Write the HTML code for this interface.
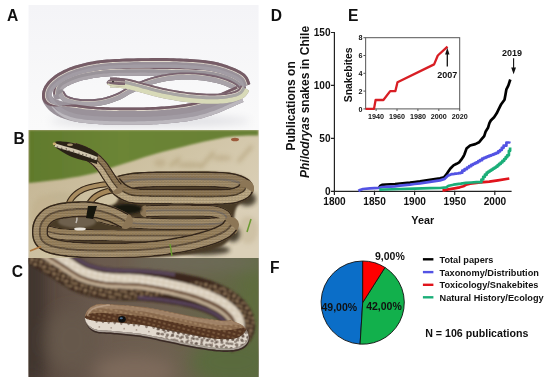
<!DOCTYPE html>
<html><head><meta charset="utf-8">
<style>
html,body{margin:0;padding:0;background:#fff;}
body{width:550px;height:385px;overflow:hidden;position:relative;}
svg{position:absolute;left:0;top:0;display:block;}
text{font-family:"Liberation Sans",sans-serif;font-weight:bold;fill:#111;}
</style></head><body>
<svg width="550" height="385" viewBox="0 0 550 385">
<defs>
<clipPath id="clipA"><rect x="28.6" y="5" width="229.9" height="125"/></clipPath>
<clipPath id="clipB"><rect x="28.6" y="130" width="229.9" height="128"/></clipPath>
<clipPath id="clipC"><rect x="28.6" y="258" width="229.9" height="119"/></clipPath>
<filter id="b05" filterUnits="userSpaceOnUse" x="0" y="0" width="550" height="385"><feGaussianBlur stdDeviation="0.5"/></filter>
<filter id="b1" filterUnits="userSpaceOnUse" x="0" y="0" width="550" height="385"><feGaussianBlur stdDeviation="1"/></filter>
<filter id="b2" filterUnits="userSpaceOnUse" x="0" y="0" width="550" height="385"><feGaussianBlur stdDeviation="2"/></filter>
<filter id="b4" filterUnits="userSpaceOnUse" x="0" y="0" width="550" height="385"><feGaussianBlur stdDeviation="4"/></filter>
<filter id="b8" filterUnits="userSpaceOnUse" x="0" y="0" width="550" height="385"><feGaussianBlur stdDeviation="8"/></filter>
<linearGradient id="gA" x1="0" y1="0" x2="0" y2="1">
<stop offset="0" stop-color="#f4f4f7"/><stop offset="1" stop-color="#fafafa"/>
</linearGradient>
<linearGradient id="ringA" x1="0" y1="59" x2="0" y2="125" gradientUnits="userSpaceOnUse">
<stop offset="0" stop-color="#8c7e82"/><stop offset="0.5" stop-color="#908a88"/><stop offset="0.8" stop-color="#a4a2a0"/><stop offset="1" stop-color="#c8c6c6"/>
</linearGradient>
<linearGradient id="rockB" x1="0" y1="0" x2="1" y2="0.6">
<stop offset="0" stop-color="#c2b290"/><stop offset="0.55" stop-color="#cfc3a4"/><stop offset="1" stop-color="#dbd0b8"/>
</linearGradient>
<linearGradient id="grassB" x1="0" y1="0" x2="1" y2="0">
<stop offset="0" stop-color="#607a2c"/><stop offset="0.4" stop-color="#6c8536"/><stop offset="1" stop-color="#688034"/>
</linearGradient>
<pattern id="scales" width="3.2" height="2.6" patternUnits="userSpaceOnUse">
<rect width="3.2" height="2.6" fill="none"/>
<ellipse cx="1.6" cy="1.3" rx="1.1" ry="0.8" fill="#fff" opacity="0.25"/>
<path d="M0,0 L3.2,0 M1.6,1.3 L1.6,2.6" stroke="#1e140a" stroke-width="0.7" opacity="0.6"/>
</pattern>
<linearGradient id="bgC" x1="0" y1="0" x2="1" y2="0">
<stop offset="0" stop-color="#4c3e36"/><stop offset="0.08" stop-color="#5a4a40"/><stop offset="0.3" stop-color="#6a5a4e"/><stop offset="0.6" stop-color="#6e6050"/><stop offset="1" stop-color="#5e6a40"/>
</linearGradient>
<pattern id="spots" width="5" height="4" patternUnits="userSpaceOnUse" patternTransform="rotate(15)">
<ellipse cx="2.5" cy="2" rx="1.5" ry="1" fill="#c0a27c"/>
</pattern>
<pattern id="spotsW" width="6" height="5" patternUnits="userSpaceOnUse" patternTransform="rotate(10)">
<ellipse cx="3" cy="2.5" rx="2.2" ry="1.5" fill="#efe8e0"/>
</pattern>
<pattern id="spotsD" width="5" height="4.5" patternUnits="userSpaceOnUse" patternTransform="rotate(8)">
<ellipse cx="2.5" cy="2.2" rx="1.6" ry="1.4" fill="#4a3a30"/>
</pattern>
<pattern id="spots2" width="7" height="5.6" patternUnits="userSpaceOnUse" patternTransform="rotate(-25)">
<ellipse cx="3.5" cy="2.8" rx="1.8" ry="1.2" fill="#b89a74"/>
</pattern>
<pattern id="spotsD2" width="6.4" height="5.2" patternUnits="userSpaceOnUse" patternTransform="rotate(-18)">
<ellipse cx="3.2" cy="2.6" rx="1.5" ry="1.2" fill="#4a3a30"/>
</pattern>

</defs>
<!-- photo A -->
<g id="photoA">
<rect x="28.6" y="5" width="229.9" height="125" fill="#f6f6f9"/>
<g clip-path="url(#clipA)">
<rect x="28.6" y="5" width="229.9" height="125" fill="url(#gA)"/>
<ellipse cx="150" cy="121" rx="100" ry="6" fill="#e0e0e4" filter="url(#b4)"/>
<g filter="url(#b05)"><path d="M242.0,92.0 L241.9,91.5 L241.8,90.9 L241.7,90.2 L241.6,89.4 L241.4,88.6 L241.1,87.7 L240.6,86.8 L240.0,86.0 L239.2,85.2 L238.3,84.3 L237.3,83.4 L236.1,82.5 L234.8,81.6 L233.4,80.7 L231.8,79.8 L230.0,79.0 L228.0,78.2 L225.9,77.4 L223.7,76.7 L221.2,75.9 L218.7,75.2 L215.9,74.6 L213.0,74.0 L210.0,73.5 L206.8,73.1 L203.3,72.8 L199.7,72.5 L195.9,72.3 L192.1,72.2 L188.1,72.1 L184.1,71.9 L180.0,71.8 L175.9,71.7 L171.6,71.6 L167.2,71.5 L162.8,71.4 L158.3,71.4 L153.9,71.3 L149.4,71.3 L145.0,71.3 L140.5,71.3 L135.9,71.3 L131.3,71.3 L126.7,71.3 L122.2,71.4 L117.8,71.5 L113.8,71.6 L110.0,71.8 L106.6,72.0 L103.4,72.3 L100.5,72.6 L97.8,72.9 L95.2,73.3 L92.8,73.6 L90.4,74.1 L88.0,74.5 L85.7,75.0 L83.5,75.4 L81.4,75.9 L79.4,76.5 L77.4,77.1 L75.6,77.7 L73.8,78.3 L72.0,79.0 L70.2,79.7 L68.5,80.5 L66.8,81.4 L65.2,82.2 L63.6,83.1 L62.2,84.1 L61.0,85.0 L60.0,86.0 L59.2,87.1 L58.6,88.3 L58.3,89.6 L58.0,90.9 L57.8,92.2 L57.7,93.3 L57.6,94.3 L57.5,95.0" fill="none" stroke="#9a929a" stroke-width="9.0" stroke-linecap="round" stroke-linejoin="round"/><path d="M237.6,93.0 L237.5,92.3 L237.4,91.5 L237.3,90.8 L237.2,90.3 L237.1,89.9 L237.0,89.5 L236.9,89.3 L236.6,88.9 L236.0,88.3 L235.2,87.6 L234.4,86.8 L233.4,86.1 L232.4,85.3 L231.2,84.6 L229.8,83.8 L228.2,83.1 L226.4,82.4 L224.4,81.7 L222.3,80.9 L220.0,80.2 L217.6,79.6 L215.0,79.0 L212.2,78.4 L209.4,78.0 L206.3,77.6 L203.0,77.3 L199.4,77.0 L195.7,76.8 L191.9,76.7 L187.9,76.5 L183.9,76.4 L179.9,76.3 L175.7,76.2 L171.5,76.1 L167.2,76.0 L162.8,75.9 L158.3,75.9 L153.8,75.8 L149.4,75.8 L145.0,75.8 L140.5,75.8 L136.0,75.8 L131.3,75.8 L126.7,75.8 L122.2,75.9 L118.0,76.0 L113.9,76.1 L110.2,76.3 L106.9,76.5 L103.9,76.8 L101.0,77.0 L98.4,77.4 L95.9,77.7 L93.5,78.1 L91.2,78.5 L88.8,78.9 L86.6,79.4 L84.5,79.8 L82.5,80.3 L80.6,80.8 L78.8,81.3 L77.0,81.9 L75.3,82.5 L73.7,83.2 L72.0,83.9 L70.4,84.6 L68.8,85.4 L67.3,86.1 L66.0,86.9 L64.9,87.7 L64.0,88.4 L63.4,88.9 L63.1,89.4 L62.9,89.9 L62.6,90.7 L62.4,91.7 L62.3,92.7 L62.2,93.8 L62.1,94.9 L61.9,95.8 L53.1,94.2 L53.2,93.7 L53.2,92.9 L53.4,91.7 L53.6,90.2 L53.9,88.5 L54.4,86.7 L55.3,84.8 L56.6,83.1 L58.1,81.6 L59.6,80.4 L61.2,79.3 L63.0,78.3 L64.8,77.3 L66.6,76.4 L68.4,75.6 L70.3,74.8 L72.2,74.1 L74.1,73.4 L76.1,72.8 L78.2,72.1 L80.3,71.6 L82.5,71.1 L84.8,70.6 L87.2,70.1 L89.6,69.6 L92.0,69.2 L94.6,68.8 L97.2,68.4 L100.0,68.1 L103.0,67.8 L106.3,67.5 L109.8,67.3 L113.6,67.1 L117.7,67.0 L122.1,66.9 L126.6,66.9 L131.3,66.8 L135.9,66.8 L140.5,66.8 L145.0,66.8 L149.4,66.8 L153.9,66.8 L158.4,66.9 L162.9,66.9 L167.3,67.0 L171.7,67.1 L176.0,67.2 L180.1,67.3 L184.2,67.4 L188.2,67.6 L192.2,67.7 L196.1,67.8 L200.0,68.0 L203.7,68.3 L207.2,68.6 L210.6,69.0 L213.8,69.6 L216.9,70.2 L219.8,70.9 L222.5,71.6 L225.1,72.4 L227.4,73.2 L229.7,74.0 L231.8,74.9 L233.8,75.8 L235.6,76.8 L237.3,77.8 L238.8,78.9 L240.2,79.9 L241.4,81.0 L242.4,82.0 L243.4,83.1 L244.4,84.4 L245.2,85.9 L245.7,87.3 L246.0,88.6 L246.2,89.6 L246.3,90.4 L246.3,90.8 L246.4,91.0 Z" fill="#9a929a"/><path d="M246.4,91.0 L246.3,90.8 L246.3,90.4 L246.2,89.6 L246.0,88.6 L245.7,87.3 L245.2,85.9 L244.4,84.4 L243.4,83.1 L242.4,82.0 L241.4,81.0 L240.2,79.9 L238.8,78.9 L237.3,77.8 L235.6,76.8 L233.8,75.8 L231.8,74.9 L229.7,74.0 L227.4,73.2 L225.1,72.4 L222.5,71.6 L219.8,70.9 L216.9,70.2 L213.8,69.6 L210.6,69.0 L207.2,68.6 L203.7,68.3 L200.0,68.0 L196.1,67.8 L192.2,67.7 L188.2,67.6 L184.2,67.4 L180.1,67.3 L176.0,67.2 L171.7,67.1 L167.3,67.0 L162.9,66.9 L158.4,66.9 L153.9,66.8 L149.4,66.8 L145.0,66.8 L140.5,66.8 L135.9,66.8 L131.3,66.8 L126.6,66.9 L122.1,66.9 L117.7,67.0 L113.6,67.1 L109.8,67.3 L106.3,67.5 L103.0,67.8 L100.0,68.1 L97.2,68.4 L94.6,68.8 L92.0,69.2 L89.6,69.6 L87.2,70.1 L84.8,70.6 L82.5,71.1 L80.3,71.6 L78.2,72.1 L76.1,72.8 L74.1,73.4 L72.2,74.1 L70.3,74.8 L68.4,75.6 L66.6,76.4 L64.8,77.3 L63.0,78.3 L61.2,79.3 L59.6,80.4 L58.1,81.6 L56.6,83.1 L55.3,84.8 L54.4,86.7 L53.9,88.5 L53.6,90.2 L53.4,91.7 L53.2,92.9 L53.2,93.7 L53.1,94.2 L55.1,94.6 L55.2,94.0 L55.3,93.1 L55.4,91.9 L55.6,90.5 L55.9,89.0 L56.3,87.4 L57.1,85.8 L58.1,84.4 L59.4,83.1 L60.8,82.0 L62.3,81.0 L63.9,80.1 L65.7,79.1 L67.4,78.3 L69.3,77.5 L71.1,76.7 L72.9,76.0 L74.8,75.3 L76.7,74.7 L78.7,74.1 L80.8,73.5 L82.9,73.0 L85.2,72.5 L87.5,72.1 L89.9,71.6 L92.4,71.2 L94.9,70.8 L97.5,70.4 L100.3,70.1 L103.2,69.8 L106.4,69.6 L109.9,69.3 L113.7,69.2 L117.8,69.0 L122.1,68.9 L126.7,68.9 L131.3,68.8 L135.9,68.8 L140.5,68.8 L145.0,68.8 L149.4,68.8 L153.9,68.9 L158.4,68.9 L162.8,68.9 L167.3,69.0 L171.7,69.1 L175.9,69.2 L180.1,69.3 L184.1,69.5 L188.2,69.6 L192.1,69.7 L196.1,69.9 L199.9,70.1 L203.5,70.3 L207.0,70.6 L210.4,71.0 L213.5,71.6 L216.5,72.2 L219.3,72.8 L221.9,73.5 L224.4,74.3 L226.8,75.1 L228.9,75.9 L231.0,76.7 L232.9,77.6 L234.6,78.5 L236.2,79.5 L237.6,80.5 L238.9,81.5 L240.0,82.5 L241.0,83.4 L241.9,84.4 L242.7,85.5 L243.4,86.7 L243.8,87.9 L244.1,89.0 L244.2,89.9 L244.3,90.7 L244.3,91.1 L244.4,91.5 Z" fill="#78606a"/><path d="M244.4,91.5 L244.3,91.1 L244.3,90.7 L244.2,89.9 L244.1,89.0 L243.8,87.9 L243.4,86.7 L242.7,85.5 L241.9,84.4 L241.0,83.4 L240.0,82.5 L238.9,81.5 L237.6,80.5 L236.2,79.5 L234.6,78.5 L232.9,77.6 L231.0,76.7 L228.9,75.9 L226.8,75.1 L224.4,74.3 L221.9,73.5 L219.3,72.8 L216.5,72.2 L213.5,71.6 L210.4,71.0 L207.0,70.6 L203.5,70.3 L199.9,70.1 L196.1,69.9 L192.1,69.7 L188.2,69.6 L184.1,69.5 L180.1,69.3 L175.9,69.2 L171.7,69.1 L167.3,69.0 L162.8,68.9 L158.4,68.9 L153.9,68.9 L149.4,68.8 L145.0,68.8 L140.5,68.8 L135.9,68.8 L131.3,68.8 L126.7,68.9 L122.1,68.9 L117.8,69.0 L113.7,69.2 L109.9,69.3 L106.4,69.6 L103.2,69.8 L100.3,70.1 L97.5,70.4 L94.9,70.8 L92.4,71.2 L89.9,71.6 L87.5,72.1 L85.2,72.5 L82.9,73.0 L80.8,73.5 L78.7,74.1 L76.7,74.7 L74.8,75.3 L72.9,76.0 L71.1,76.7 L69.3,77.5 L67.4,78.3 L65.7,79.1 L63.9,80.1 L62.3,81.0 L60.8,82.0 L59.4,83.1 L58.1,84.4 L57.1,85.8 L56.3,87.4 L55.9,89.0 L55.6,90.5 L55.4,91.9 L55.3,93.1 L55.2,94.0 L55.1,94.6 L55.8,94.7 L55.9,94.1 L56.0,93.2 L56.1,92.0 L56.3,90.7 L56.6,89.2 L57.0,87.7 L57.7,86.2 L58.7,84.9 L59.9,83.7 L61.2,82.7 L62.7,81.7 L64.3,80.7 L66.0,79.8 L67.8,79.0 L69.6,78.2 L71.4,77.4 L73.2,76.7 L75.0,76.0 L76.9,75.4 L78.9,74.8 L81.0,74.3 L83.1,73.8 L85.3,73.3 L87.7,72.8 L90.1,72.4 L92.5,72.0 L95.0,71.6 L97.6,71.2 L100.3,70.9 L103.3,70.6 L106.5,70.3 L109.9,70.1 L113.7,69.9 L117.8,69.8 L122.1,69.7 L126.7,69.6 L131.3,69.6 L135.9,69.6 L140.5,69.6 L145.0,69.6 L149.4,69.6 L153.9,69.6 L158.4,69.7 L162.8,69.7 L167.3,69.8 L171.6,69.9 L175.9,70.0 L180.1,70.1 L184.1,70.2 L188.1,70.3 L192.1,70.5 L196.0,70.6 L199.8,70.8 L203.5,71.1 L206.9,71.4 L210.2,71.8 L213.4,72.3 L216.3,72.9 L219.1,73.6 L221.7,74.3 L224.2,75.0 L226.5,75.8 L228.7,76.6 L230.7,77.4 L232.5,78.3 L234.2,79.2 L235.8,80.1 L237.1,81.1 L238.4,82.1 L239.5,83.0 L240.4,84.0 L241.3,84.9 L242.1,85.9 L242.7,87.0 L243.1,88.1 L243.3,89.1 L243.4,90.0 L243.5,90.7 L243.6,91.3 L243.7,91.6 Z" fill="#e0d8cb"/><path d="M243.7,91.6 L243.6,91.3 L243.5,90.7 L243.4,90.0 L243.3,89.1 L243.1,88.1 L242.7,87.0 L242.1,85.9 L241.3,84.9 L240.4,84.0 L239.5,83.0 L238.4,82.1 L237.1,81.1 L235.8,80.1 L234.2,79.2 L232.5,78.3 L230.7,77.4 L228.7,76.6 L226.5,75.8 L224.2,75.0 L221.7,74.3 L219.1,73.6 L216.3,72.9 L213.4,72.3 L210.2,71.8 L206.9,71.4 L203.5,71.1 L199.8,70.8 L196.0,70.6 L192.1,70.5 L188.1,70.3 L184.1,70.2 L180.1,70.1 L175.9,70.0 L171.6,69.9 L167.3,69.8 L162.8,69.7 L158.4,69.7 L153.9,69.6 L149.4,69.6 L145.0,69.6 L140.5,69.6 L135.9,69.6 L131.3,69.6 L126.7,69.6 L122.1,69.7 L117.8,69.8 L113.7,69.9 L109.9,70.1 L106.5,70.3 L103.3,70.6 L100.3,70.9 L97.6,71.2 L95.0,71.6 L92.5,72.0 L90.1,72.4 L87.7,72.8 L85.3,73.3 L83.1,73.8 L81.0,74.3 L78.9,74.8 L76.9,75.4 L75.0,76.0 L73.2,76.7 L71.4,77.4 L69.6,78.2 L67.8,79.0 L66.0,79.8 L64.3,80.7 L62.7,81.7 L61.2,82.7 L59.9,83.7 L58.7,84.9 L57.7,86.2 L57.0,87.7 L56.6,89.2 L56.3,90.7 L56.1,92.0 L56.0,93.2 L55.9,94.1 L55.8,94.7 L58.8,95.2 L59.0,94.5 L59.1,93.5 L59.2,92.3 L59.3,91.2 L59.6,89.9 L59.9,88.8 L60.4,87.8 L61.0,86.9 L61.9,86.0 L63.0,85.1 L64.3,84.3 L65.8,83.4 L67.4,82.6 L69.1,81.8 L70.8,81.0 L72.5,80.3 L74.2,79.6 L76.0,78.9 L77.8,78.3 L79.7,77.8 L81.7,77.3 L83.8,76.8 L86.0,76.3 L88.3,75.8 L90.6,75.4 L93.0,75.0 L95.4,74.6 L98.0,74.2 L100.7,73.9 L103.6,73.6 L106.7,73.4 L110.1,73.1 L113.8,73.0 L117.9,72.8 L122.2,72.8 L126.7,72.7 L131.3,72.7 L135.9,72.7 L140.5,72.6 L145.0,72.6 L149.4,72.7 L153.9,72.7 L158.3,72.7 L162.8,72.8 L167.2,72.8 L171.6,72.9 L175.8,73.0 L180.0,73.1 L184.0,73.3 L188.0,73.4 L192.0,73.5 L195.9,73.7 L199.6,73.9 L203.2,74.1 L206.6,74.4 L209.8,74.8 L212.8,75.3 L215.7,75.9 L218.3,76.5 L220.9,77.2 L223.3,77.9 L225.5,78.7 L227.6,79.5 L229.5,80.2 L231.2,81.0 L232.7,81.8 L234.1,82.7 L235.3,83.6 L236.4,84.4 L237.4,85.3 L238.2,86.1 L239.0,86.9 L239.5,87.6 L239.9,88.3 L240.1,89.0 L240.3,89.7 L240.4,90.4 L240.5,91.1 L240.6,91.8 L240.7,92.3 Z" fill="#9a949a"/><path d="M240.7,92.3 L240.6,91.8 L240.5,91.1 L240.4,90.4 L240.3,89.7 L240.1,89.0 L239.9,88.3 L239.5,87.6 L239.0,86.9 L238.2,86.1 L237.4,85.3 L236.4,84.4 L235.3,83.6 L234.1,82.7 L232.7,81.8 L231.2,81.0 L229.5,80.2 L227.6,79.5 L225.5,78.7 L223.3,77.9 L220.9,77.2 L218.3,76.5 L215.7,75.9 L212.8,75.3 L209.8,74.8 L206.6,74.4 L203.2,74.1 L199.6,73.9 L195.9,73.7 L192.0,73.5 L188.0,73.4 L184.0,73.3 L180.0,73.1 L175.8,73.0 L171.6,72.9 L167.2,72.8 L162.8,72.8 L158.3,72.7 L153.9,72.7 L149.4,72.7 L145.0,72.6 L140.5,72.6 L135.9,72.7 L131.3,72.7 L126.7,72.7 L122.2,72.8 L117.9,72.8 L113.8,73.0 L110.1,73.1 L106.7,73.4 L103.6,73.6 L100.7,73.9 L98.0,74.2 L95.4,74.6 L93.0,75.0 L90.6,75.4 L88.3,75.8 L86.0,76.3 L83.8,76.8 L81.7,77.3 L79.7,77.8 L77.8,78.3 L76.0,78.9 L74.2,79.6 L72.5,80.3 L70.8,81.0 L69.1,81.8 L67.4,82.6 L65.8,83.4 L64.3,84.3 L63.0,85.1 L61.9,86.0 L61.0,86.9 L60.4,87.8 L59.9,88.8 L59.6,89.9 L59.3,91.2 L59.2,92.3 L59.1,93.5 L59.0,94.5 L58.8,95.2 L61.9,95.8 L62.1,94.9 L62.2,93.8 L62.3,92.7 L62.4,91.7 L62.6,90.7 L62.9,89.9 L63.1,89.4 L63.4,88.9 L64.0,88.4 L64.9,87.7 L66.0,86.9 L67.3,86.1 L68.8,85.4 L70.4,84.6 L72.0,83.9 L73.7,83.2 L75.3,82.5 L77.0,81.9 L78.8,81.3 L80.6,80.8 L82.5,80.3 L84.5,79.8 L86.6,79.4 L88.8,78.9 L91.2,78.5 L93.5,78.1 L95.9,77.7 L98.4,77.4 L101.0,77.0 L103.9,76.8 L106.9,76.5 L110.2,76.3 L113.9,76.1 L118.0,76.0 L122.2,75.9 L126.7,75.8 L131.3,75.8 L136.0,75.8 L140.5,75.8 L145.0,75.8 L149.4,75.8 L153.8,75.8 L158.3,75.9 L162.8,75.9 L167.2,76.0 L171.5,76.1 L175.7,76.2 L179.9,76.3 L183.9,76.4 L187.9,76.5 L191.9,76.7 L195.7,76.8 L199.4,77.0 L203.0,77.3 L206.3,77.6 L209.4,78.0 L212.2,78.4 L215.0,79.0 L217.6,79.6 L220.0,80.2 L222.3,80.9 L224.4,81.7 L226.4,82.4 L228.2,83.1 L229.8,83.8 L231.2,84.6 L232.4,85.3 L233.4,86.1 L234.4,86.8 L235.2,87.6 L236.0,88.3 L236.6,88.9 L236.9,89.3 L237.0,89.5 L237.1,89.9 L237.2,90.3 L237.3,90.8 L237.4,91.5 L237.5,92.3 L237.6,93.0 Z" fill="#aaa4aa"/></g>
<g filter="url(#b05)"><path d="M61.0,93.0 L61.3,93.5 L61.7,94.1 L62.1,94.9 L62.6,95.8 L63.2,96.7 L64.0,97.5 L64.9,98.3 L66.0,99.0 L67.3,99.6 L68.7,100.1 L70.3,100.7 L72.1,101.2 L73.9,101.6 L75.9,102.0 L77.9,102.3 L80.0,102.5 L82.2,102.7 L84.6,102.8 L87.2,102.8 L89.8,102.8 L92.5,102.7 L95.1,102.5 L97.6,102.3 L100.0,102.0 L102.3,101.6 L104.5,101.1 L106.7,100.6 L108.9,99.9 L111.0,99.3 L113.0,98.5 L115.0,97.8 L117.0,97.0 L118.9,96.2 L120.6,95.3 L122.2,94.4 L123.9,93.4 L125.5,92.5 L127.2,91.5 L129.0,90.5 L131.0,89.5 L133.1,88.5 L135.4,87.5 L137.7,86.4 L140.1,85.3 L142.6,84.3 L145.1,83.3 L147.5,82.3 L150.0,81.5 L152.4,80.7 L154.9,80.0 L157.3,79.4 L159.8,78.8 L162.3,78.3 L164.8,77.8 L167.4,77.4 L170.0,77.0 L172.6,76.7 L175.3,76.4 L178.1,76.2 L180.8,76.0 L183.6,75.9 L186.4,75.9 L189.2,75.9 L192.0,76.0 L194.9,76.2 L197.8,76.4 L200.8,76.7 L203.8,77.1 L206.8,77.5 L209.6,77.9 L212.4,78.5 L215.0,79.0 L217.5,79.6 L219.9,80.3 L222.2,81.0 L224.4,81.8 L226.5,82.5 L228.5,83.4 L230.3,84.2 L232.0,85.0 L233.5,85.9 L234.8,86.8 L236.0,87.9 L237.1,88.9 L238.0,89.8 L238.8,90.7 L239.4,91.5 L240.0,92.0" fill="none" stroke="#948e94" stroke-width="7.0" stroke-linecap="round" stroke-linejoin="round"/><path d="M63.9,91.0 L64.3,91.7 L64.8,92.5 L65.2,93.2 L65.6,93.9 L66.0,94.5 L66.5,95.1 L67.0,95.5 L67.6,95.9 L68.6,96.4 L69.9,96.8 L71.3,97.3 L72.9,97.8 L74.6,98.2 L76.5,98.5 L78.4,98.8 L80.3,99.0 L82.4,99.2 L84.7,99.3 L87.2,99.3 L89.7,99.3 L92.3,99.2 L94.8,99.0 L97.2,98.8 L99.5,98.5 L101.6,98.2 L103.7,97.7 L105.8,97.2 L107.8,96.6 L109.9,95.9 L111.8,95.2 L113.8,94.5 L115.7,93.8 L117.4,93.0 L119.0,92.2 L120.5,91.4 L122.1,90.4 L123.7,89.4 L125.5,88.4 L127.4,87.4 L129.5,86.3 L131.6,85.3 L133.9,84.3 L136.3,83.2 L138.7,82.1 L141.2,81.0 L143.8,80.0 L146.4,79.0 L148.9,78.2 L151.4,77.4 L154.0,76.7 L156.5,76.0 L159.0,75.4 L161.6,74.8 L164.2,74.4 L166.9,73.9 L169.5,73.5 L172.3,73.2 L175.0,72.9 L177.8,72.7 L180.6,72.5 L183.5,72.4 L186.4,72.4 L189.3,72.4 L192.2,72.5 L195.1,72.7 L198.1,72.9 L201.2,73.2 L204.3,73.6 L207.3,74.0 L210.2,74.5 L213.1,75.0 L215.8,75.6 L218.4,76.2 L220.9,76.9 L223.3,77.7 L225.6,78.5 L227.8,79.3 L229.9,80.1 L231.8,81.0 L233.7,81.9 L235.4,82.9 L237.0,84.1 L238.4,85.3 L239.5,86.4 L240.5,87.5 L241.4,88.4 L242.0,89.0 L242.5,89.5 L237.5,94.5 L236.9,93.9 L236.2,93.1 L235.4,92.2 L234.6,91.3 L233.7,90.5 L232.7,89.6 L231.6,88.8 L230.3,88.1 L228.9,87.3 L227.1,86.6 L225.3,85.8 L223.3,85.0 L221.1,84.3 L218.9,83.6 L216.6,83.0 L214.2,82.4 L211.7,81.9 L209.1,81.4 L206.2,80.9 L203.4,80.5 L200.4,80.2 L197.5,79.9 L194.6,79.7 L191.8,79.5 L189.1,79.4 L186.4,79.4 L183.7,79.4 L181.0,79.5 L178.3,79.7 L175.6,79.9 L173.0,80.2 L170.5,80.5 L167.9,80.8 L165.4,81.2 L163.0,81.7 L160.6,82.2 L158.2,82.8 L155.8,83.4 L153.4,84.1 L151.1,84.8 L148.7,85.6 L146.3,86.5 L143.9,87.5 L141.5,88.5 L139.2,89.6 L136.8,90.6 L134.6,91.7 L132.5,92.7 L130.6,93.6 L128.9,94.5 L127.3,95.5 L125.7,96.4 L124.0,97.4 L122.2,98.4 L120.3,99.4 L118.3,100.2 L116.3,101.0 L114.2,101.8 L112.1,102.6 L109.9,103.3 L107.6,103.9 L105.3,104.5 L103.0,105.0 L100.5,105.5 L98.0,105.8 L95.3,106.0 L92.6,106.2 L89.9,106.3 L87.2,106.3 L84.5,106.3 L82.0,106.2 L79.7,106.0 L77.5,105.7 L75.3,105.4 L73.2,105.0 L71.2,104.5 L69.3,104.0 L67.6,103.4 L65.9,102.8 L64.4,102.1 L62.8,101.2 L61.5,100.0 L60.5,98.8 L59.7,97.7 L59.1,96.7 L58.6,95.8 L58.3,95.3 L58.1,95.0 Z" fill="#948e94"/><path d="M63.9,91.0 L64.3,91.7 L64.8,92.5 L65.2,93.2 L65.6,93.9 L66.0,94.5 L66.5,95.1 L67.0,95.5 L67.6,95.9 L68.6,96.4 L69.9,96.8 L71.3,97.3 L72.9,97.8 L74.6,98.2 L76.5,98.5 L78.4,98.8 L80.3,99.0 L82.4,99.2 L84.7,99.3 L87.2,99.3 L89.7,99.3 L92.3,99.2 L94.8,99.0 L97.2,98.8 L99.5,98.5 L101.6,98.2 L103.7,97.7 L105.8,97.2 L107.8,96.6 L109.9,95.9 L111.8,95.2 L113.8,94.5 L115.7,93.8 L117.4,93.0 L119.0,92.2 L120.5,91.4 L122.1,90.4 L123.7,89.4 L125.5,88.4 L127.4,87.4 L129.5,86.3 L131.6,85.3 L133.9,84.3 L136.3,83.2 L138.7,82.1 L141.2,81.0 L143.8,80.0 L146.4,79.0 L148.9,78.2 L151.4,77.4 L154.0,76.7 L156.5,76.0 L159.0,75.4 L161.6,74.8 L164.2,74.4 L166.9,73.9 L169.5,73.5 L172.3,73.2 L175.0,72.9 L177.8,72.7 L180.6,72.5 L183.5,72.4 L186.4,72.4 L189.3,72.4 L192.2,72.5 L195.1,72.7 L198.1,72.9 L201.2,73.2 L204.3,73.6 L207.3,74.0 L210.2,74.5 L213.1,75.0 L215.8,75.6 L218.4,76.2 L220.9,76.9 L223.3,77.7 L225.6,78.5 L227.8,79.3 L229.9,80.1 L231.8,81.0 L233.7,81.9 L235.4,82.9 L237.0,84.1 L238.4,85.3 L239.5,86.4 L240.5,87.5 L241.4,88.4 L242.0,89.0 L242.5,89.5 L241.1,90.9 L240.6,90.4 L239.9,89.7 L239.1,88.8 L238.2,87.8 L237.1,86.7 L235.8,85.6 L234.3,84.6 L232.7,83.6 L231.0,82.8 L229.1,81.9 L227.1,81.1 L225.0,80.3 L222.7,79.5 L220.3,78.8 L217.9,78.1 L215.3,77.5 L212.7,76.9 L209.9,76.4 L207.0,75.9 L204.0,75.5 L201.0,75.1 L198.0,74.8 L195.0,74.6 L192.1,74.4 L189.2,74.3 L186.4,74.3 L183.5,74.4 L180.7,74.5 L178.0,74.6 L175.2,74.8 L172.5,75.1 L169.8,75.4 L167.2,75.8 L164.6,76.2 L162.0,76.7 L159.5,77.3 L157.0,77.9 L154.5,78.5 L152.0,79.2 L149.5,80.0 L147.0,80.9 L144.5,81.8 L142.0,82.8 L139.5,83.9 L137.1,84.9 L134.7,86.0 L132.5,87.1 L130.3,88.1 L128.3,89.1 L126.4,90.1 L124.7,91.1 L123.1,92.1 L121.5,93.0 L119.9,93.9 L118.2,94.8 L116.4,95.5 L114.5,96.3 L112.5,97.1 L110.5,97.8 L108.4,98.4 L106.3,99.0 L104.2,99.6 L102.0,100.1 L99.8,100.4 L97.4,100.7 L95.0,101.0 L92.4,101.1 L89.8,101.2 L87.2,101.2 L84.7,101.2 L82.3,101.1 L80.1,100.9 L78.1,100.7 L76.1,100.4 L74.2,100.0 L72.5,99.6 L70.8,99.2 L69.3,98.7 L67.9,98.1 L66.7,97.6 L65.8,97.1 L65.1,96.4 L64.5,95.7 L63.9,94.9 L63.5,94.1 L63.1,93.4 L62.7,92.7 L62.3,92.1 Z" fill="#7a6470"/><path d="M62.3,92.1 L62.7,92.7 L63.1,93.4 L63.5,94.1 L63.9,94.9 L64.5,95.7 L65.1,96.4 L65.8,97.1 L66.7,97.6 L67.9,98.1 L69.3,98.7 L70.8,99.2 L72.5,99.6 L74.2,100.0 L76.1,100.4 L78.1,100.7 L80.1,100.9 L82.3,101.1 L84.7,101.2 L87.2,101.2 L89.8,101.2 L92.4,101.1 L95.0,101.0 L97.4,100.7 L99.8,100.4 L102.0,100.1 L104.2,99.6 L106.3,99.0 L108.4,98.4 L110.5,97.8 L112.5,97.1 L114.5,96.3 L116.4,95.5 L118.2,94.8 L119.9,93.9 L121.5,93.0 L123.1,92.1 L124.7,91.1 L126.4,90.1 L128.3,89.1 L130.3,88.1 L132.5,87.1 L134.7,86.0 L137.1,84.9 L139.5,83.9 L142.0,82.8 L144.5,81.8 L147.0,80.9 L149.5,80.0 L152.0,79.2 L154.5,78.5 L157.0,77.9 L159.5,77.3 L162.0,76.7 L164.6,76.2 L167.2,75.8 L169.8,75.4 L172.5,75.1 L175.2,74.8 L178.0,74.6 L180.7,74.5 L183.5,74.4 L186.4,74.3 L189.2,74.3 L192.1,74.4 L195.0,74.6 L198.0,74.8 L201.0,75.1 L204.0,75.5 L207.0,75.9 L209.9,76.4 L212.7,76.9 L215.3,77.5 L217.9,78.1 L220.3,78.8 L222.7,79.5 L225.0,80.3 L227.1,81.1 L229.1,81.9 L231.0,82.8 L232.7,83.6 L234.3,84.6 L235.8,85.6 L237.1,86.7 L238.2,87.8 L239.1,88.8 L239.9,89.7 L240.6,90.4 L241.1,90.9 L240.6,91.4 L240.1,90.8 L239.4,90.1 L238.6,89.2 L237.7,88.3 L236.6,87.2 L235.4,86.2 L234.0,85.1 L232.4,84.2 L230.7,83.4 L228.9,82.6 L226.9,81.7 L224.7,80.9 L222.5,80.2 L220.1,79.4 L217.7,78.8 L215.2,78.1 L212.6,77.6 L209.8,77.1 L206.9,76.6 L203.9,76.2 L200.9,75.8 L197.9,75.5 L194.9,75.3 L192.0,75.1 L189.2,75.0 L186.4,75.0 L183.6,75.1 L180.8,75.2 L178.0,75.3 L175.3,75.5 L172.6,75.8 L169.9,76.1 L167.3,76.5 L164.7,76.9 L162.1,77.4 L159.6,78.0 L157.1,78.6 L154.7,79.2 L152.2,79.9 L149.7,80.7 L147.2,81.5 L144.7,82.5 L142.2,83.5 L139.8,84.5 L137.4,85.6 L135.0,86.7 L132.8,87.7 L130.6,88.7 L128.6,89.7 L126.8,90.7 L125.1,91.7 L123.4,92.7 L121.8,93.6 L120.2,94.5 L118.5,95.4 L116.7,96.2 L114.7,97.0 L112.7,97.7 L110.7,98.4 L108.6,99.1 L106.5,99.7 L104.3,100.3 L102.1,100.7 L99.9,101.1 L97.5,101.4 L95.0,101.7 L92.4,101.8 L89.8,101.9 L87.2,101.9 L84.7,101.9 L82.3,101.8 L80.1,101.6 L78.0,101.4 L76.0,101.1 L74.1,100.7 L72.3,100.3 L70.6,99.8 L69.0,99.3 L67.6,98.8 L66.4,98.2 L65.4,97.6 L64.6,96.9 L63.9,96.1 L63.4,95.3 L62.9,94.5 L62.5,93.7 L62.1,93.0 L61.7,92.5 Z" fill="#dcd4c6"/><path d="M61.7,92.5 L62.1,93.0 L62.5,93.7 L62.9,94.5 L63.4,95.3 L63.9,96.1 L64.6,96.9 L65.4,97.6 L66.4,98.2 L67.6,98.8 L69.0,99.3 L70.6,99.8 L72.3,100.3 L74.1,100.7 L76.0,101.1 L78.0,101.4 L80.1,101.6 L82.3,101.8 L84.7,101.9 L87.2,101.9 L89.8,101.9 L92.4,101.8 L95.0,101.7 L97.5,101.4 L99.9,101.1 L102.1,100.7 L104.3,100.3 L106.5,99.7 L108.6,99.1 L110.7,98.4 L112.7,97.7 L114.7,97.0 L116.7,96.2 L118.5,95.4 L120.2,94.5 L121.8,93.6 L123.4,92.7 L125.1,91.7 L126.8,90.7 L128.6,89.7 L130.6,88.7 L132.8,87.7 L135.0,86.7 L137.4,85.6 L139.8,84.5 L142.2,83.5 L144.7,82.5 L147.2,81.5 L149.7,80.7 L152.2,79.9 L154.7,79.2 L157.1,78.6 L159.6,78.0 L162.1,77.4 L164.7,76.9 L167.3,76.5 L169.9,76.1 L172.6,75.8 L175.3,75.5 L178.0,75.3 L180.8,75.2 L183.6,75.1 L186.4,75.0 L189.2,75.0 L192.0,75.1 L194.9,75.3 L197.9,75.5 L200.9,75.8 L203.9,76.2 L206.9,76.6 L209.8,77.1 L212.6,77.6 L215.2,78.1 L217.7,78.8 L220.1,79.4 L222.5,80.2 L224.7,80.9 L226.9,81.7 L228.9,82.6 L230.7,83.4 L232.4,84.2 L234.0,85.1 L235.4,86.2 L236.6,87.2 L237.7,88.3 L238.6,89.2 L239.4,90.1 L240.1,90.8 L240.6,91.4 L237.5,94.5 L236.9,93.9 L236.2,93.1 L235.4,92.2 L234.6,91.3 L233.7,90.5 L232.7,89.6 L231.6,88.8 L230.3,88.1 L228.9,87.3 L227.1,86.6 L225.3,85.8 L223.3,85.0 L221.1,84.3 L218.9,83.6 L216.6,83.0 L214.2,82.4 L211.7,81.9 L209.1,81.4 L206.2,80.9 L203.4,80.5 L200.4,80.2 L197.5,79.9 L194.6,79.7 L191.8,79.5 L189.1,79.4 L186.4,79.4 L183.7,79.4 L181.0,79.5 L178.3,79.7 L175.6,79.9 L173.0,80.2 L170.5,80.5 L167.9,80.8 L165.4,81.2 L163.0,81.7 L160.6,82.2 L158.2,82.8 L155.8,83.4 L153.4,84.1 L151.1,84.8 L148.7,85.6 L146.3,86.5 L143.9,87.5 L141.5,88.5 L139.2,89.6 L136.8,90.6 L134.6,91.7 L132.5,92.7 L130.6,93.6 L128.9,94.5 L127.3,95.5 L125.7,96.4 L124.0,97.4 L122.2,98.4 L120.3,99.4 L118.3,100.2 L116.3,101.0 L114.2,101.8 L112.1,102.6 L109.9,103.3 L107.6,103.9 L105.3,104.5 L103.0,105.0 L100.5,105.5 L98.0,105.8 L95.3,106.0 L92.6,106.2 L89.9,106.3 L87.2,106.3 L84.5,106.3 L82.0,106.2 L79.7,106.0 L77.5,105.7 L75.3,105.4 L73.2,105.0 L71.2,104.5 L69.3,104.0 L67.6,103.4 L65.9,102.8 L64.4,102.1 L62.8,101.2 L61.5,100.0 L60.5,98.8 L59.7,97.7 L59.1,96.7 L58.6,95.8 L58.3,95.3 L58.1,95.0 Z" fill="#a8a2a8"/></g>
<g filter="url(#b05)"><path d="M241.6,87.9 L241.3,87.2 L241.0,86.4 L240.8,85.6 L240.5,84.9 L240.3,84.1 L240.0,83.4 L239.7,82.8 L239.4,82.3 L239.1,81.9 L238.7,81.5 L238.2,81.0 L237.5,80.5 L236.6,80.0 L235.7,79.4 L234.7,78.8 L233.6,78.3 L232.4,77.7 L231.2,77.1 L229.8,76.6 L228.3,76.0 L226.7,75.4 L225.0,74.8 L223.3,74.2 L221.6,73.6 L219.7,73.0 L217.8,72.4 L215.8,71.9 L213.7,71.4 L211.5,70.9 L209.2,70.5 L206.8,70.2 L204.1,69.8 L201.4,69.5 L198.5,69.2 L195.6,69.0 L192.5,68.8 L189.4,68.6 L186.2,68.4 L183.0,68.2 L179.8,68.1 L176.5,68.0 L173.2,67.9 L169.8,67.8 L166.3,67.7 L162.8,67.7 L159.2,67.7 L155.7,67.7 L152.1,67.7 L148.6,67.8 L145.1,67.8 L141.5,67.9 L137.9,67.9 L134.1,68.0 L130.4,68.1 L126.7,68.2 L123.1,68.3 L119.6,68.5 L116.3,68.6 L113.2,68.8 L110.3,69.0 L107.8,69.2 L105.4,69.4 L103.3,69.6 L101.4,69.8 L99.6,70.0 L97.9,70.3 L96.2,70.5 L94.5,70.8 L92.8,71.2 L90.9,71.5 L89.1,71.9 L87.3,72.3 L85.5,72.7 L83.7,73.2 L81.9,73.6 L80.2,74.1 L78.5,74.6 L76.8,75.2 L75.2,75.7 L73.7,76.3 L72.2,76.9 L70.8,77.5 L69.3,78.1 L68.0,78.8 L66.6,79.4 L65.3,80.1 L64.1,80.8 L62.9,81.5 L61.8,82.2 L60.8,82.9 L59.8,83.7 L58.8,84.4 L57.9,85.2 L57.0,86.0 L56.1,86.8 L55.4,87.6 L54.7,88.4 L54.1,89.1 L53.5,89.8 L53.1,90.5 L52.7,91.1 L52.4,91.8 L52.2,92.4 L52.0,93.0 L51.8,93.6 L51.7,94.2 L51.7,94.8 L51.7,95.3 L51.8,95.7 L51.9,96.1 L52.1,96.3 L52.3,96.6 L52.5,96.8 L52.8,97.1 L53.2,97.4 L53.6,97.7 L54.1,98.0 L54.7,98.3 L55.3,98.6 L56.0,99.0 L56.8,99.4 L57.5,99.7 L58.3,100.1 L59.2,100.4 L60.1,100.7 L61.0,101.0 L62.0,101.3 L63.1,101.6 L64.3,101.9 L65.5,102.2 L66.9,102.5 L68.4,102.9 L70.1,103.2 L71.8,103.5 L73.6,103.9 L75.4,104.2 L77.3,104.5 L79.3,104.9 L81.2,105.2 L83.2,105.5 L85.2,105.8 L87.2,106.0 L89.2,106.2 L91.3,106.4 L93.4,106.6 L95.7,106.7 L97.9,106.9 L100.3,107.0 L102.8,107.1 L105.3,107.2 L108.0,107.3 L110.8,107.4 L113.7,107.5 L116.7,107.5 L119.7,107.6 L122.7,107.6 L125.8,107.6 L128.9,107.6 L131.9,107.6 L134.9,107.6 L137.9,107.6 L140.9,107.5 L143.9,107.4 L146.9,107.3 L149.9,107.2 L152.8,107.1 L155.8,107.0 L158.7,106.8 L161.5,106.6 L164.3,106.4 L167.1,106.2 L169.9,105.9 L172.6,105.7 L175.4,105.4 L178.1,105.0 L180.7,104.7 L183.3,104.3 L185.7,104.0 L188.1,103.6 L190.4,103.2 L192.5,102.7 L194.5,102.3 L196.5,101.8 L198.4,101.3 L200.3,100.8 L202.1,100.2 L203.9,99.6 L205.7,99.1 L207.4,98.5 L209.2,97.9 L210.8,97.3 L212.4,96.7 L214.0,96.1 L215.5,95.4 L217.1,94.8 L218.6,94.1 L220.1,93.4 L221.6,92.7 L223.1,92.0 L224.6,91.4 L226.0,90.8 L227.4,90.2 L228.8,89.6 L230.2,89.0 L231.5,88.4 L232.8,87.8 L233.9,87.3 L234.9,86.8 L235.8,86.5 L236.5,86.1 L243.5,101.9 L242.8,102.2 L241.9,102.6 L240.9,103.0 L239.8,103.5 L238.5,104.1 L237.1,104.7 L235.7,105.3 L234.3,105.9 L232.8,106.6 L231.4,107.2 L230.0,107.8 L228.6,108.4 L227.1,109.1 L225.6,109.8 L223.9,110.5 L222.2,111.2 L220.5,112.0 L218.6,112.7 L216.7,113.4 L214.8,114.1 L212.9,114.8 L211.1,115.4 L209.1,116.0 L207.2,116.6 L205.1,117.3 L203.0,117.9 L200.8,118.4 L198.5,119.0 L196.1,119.5 L193.6,120.0 L191.1,120.5 L188.5,120.9 L185.8,121.4 L183.0,121.7 L180.2,122.1 L177.3,122.4 L174.4,122.8 L171.5,123.1 L168.6,123.3 L165.7,123.6 L162.7,123.8 L159.7,124.0 L156.7,124.2 L153.6,124.3 L150.5,124.4 L147.4,124.5 L144.3,124.6 L141.2,124.7 L138.2,124.8 L135.1,124.8 L132.0,124.8 L128.9,124.8 L125.7,124.8 L122.6,124.8 L119.4,124.8 L116.3,124.7 L113.3,124.7 L110.3,124.6 L107.4,124.5 L104.7,124.4 L102.0,124.3 L99.5,124.2 L97.0,124.0 L94.5,123.9 L92.2,123.7 L89.8,123.5 L87.6,123.3 L85.3,123.1 L83.0,122.8 L80.8,122.5 L78.6,122.2 L76.4,121.8 L74.2,121.4 L72.0,120.9 L69.9,120.4 L67.9,119.9 L65.9,119.3 L64.0,118.7 L62.2,118.0 L60.5,117.4 L58.8,116.6 L57.3,115.9 L55.8,115.1 L54.4,114.3 L53.2,113.4 L52.0,112.6 L50.9,111.7 L49.8,110.8 L48.9,109.9 L48.0,109.0 L47.2,108.1 L46.3,107.1 L45.6,106.1 L44.9,105.1 L44.2,104.0 L43.6,102.9 L43.0,101.7 L42.6,100.5 L42.3,99.2 L42.1,97.9 L42.0,96.7 L42.0,95.4 L42.0,94.1 L42.2,92.9 L42.4,91.6 L42.7,90.4 L43.2,89.1 L43.7,87.9 L44.2,86.7 L44.9,85.5 L45.7,84.4 L46.5,83.2 L47.4,82.1 L48.3,81.0 L49.4,80.0 L50.4,79.0 L51.6,77.9 L52.8,77.0 L54.0,76.0 L55.2,75.1 L56.5,74.2 L57.9,73.3 L59.3,72.5 L60.8,71.7 L62.2,70.9 L63.8,70.1 L65.4,69.4 L67.0,68.7 L68.6,68.0 L70.3,67.3 L72.0,66.7 L73.8,66.1 L75.6,65.5 L77.5,64.9 L79.4,64.4 L81.3,63.9 L83.2,63.4 L85.1,62.9 L87.1,62.5 L89.1,62.1 L90.9,61.7 L92.8,61.4 L94.6,61.1 L96.4,60.8 L98.3,60.5 L100.3,60.3 L102.3,60.0 L104.6,59.8 L107.0,59.6 L109.7,59.4 L112.6,59.2 L115.8,59.1 L119.2,58.9 L122.7,58.8 L126.4,58.6 L130.1,58.5 L133.9,58.4 L137.7,58.3 L141.4,58.3 L144.9,58.2 L148.5,58.2 L152.0,58.1 L155.6,58.1 L159.2,58.1 L162.8,58.1 L166.4,58.1 L170.0,58.2 L173.4,58.3 L176.9,58.4 L180.2,58.5 L183.5,58.7 L186.7,58.8 L190.0,59.0 L193.2,59.2 L196.3,59.4 L199.4,59.7 L202.4,60.0 L205.3,60.3 L208.1,60.7 L210.8,61.1 L213.4,61.5 L215.8,62.0 L218.2,62.6 L220.4,63.2 L222.5,63.8 L224.5,64.4 L226.5,65.1 L228.3,65.7 L230.0,66.4 L231.7,67.0 L233.4,67.7 L234.9,68.3 L236.4,69.0 L237.9,69.7 L239.3,70.4 L240.6,71.1 L241.8,71.9 L243.0,72.7 L244.2,73.5 L245.3,74.5 L246.4,75.7 L247.4,77.0 L248.1,78.3 L248.7,79.5 L249.2,80.7 L249.6,81.7 L249.9,82.7 L250.1,83.4 L250.3,83.8 L250.4,84.1 Z" fill="#9a929a"/><path d="M241.6,87.9 L241.3,87.2 L241.0,86.4 L240.8,85.6 L240.5,84.9 L240.3,84.1 L240.0,83.4 L239.7,82.8 L239.4,82.3 L239.1,81.9 L238.7,81.5 L238.2,81.0 L237.5,80.5 L236.6,80.0 L235.7,79.4 L234.7,78.8 L233.6,78.3 L232.4,77.7 L231.2,77.1 L229.8,76.6 L228.3,76.0 L226.7,75.4 L225.0,74.8 L223.3,74.2 L221.6,73.6 L219.7,73.0 L217.8,72.4 L215.8,71.9 L213.7,71.4 L211.5,70.9 L209.2,70.5 L206.8,70.2 L204.1,69.8 L201.4,69.5 L198.5,69.2 L195.6,69.0 L192.5,68.8 L189.4,68.6 L186.2,68.4 L183.0,68.2 L179.8,68.1 L176.5,68.0 L173.2,67.9 L169.8,67.8 L166.3,67.7 L162.8,67.7 L159.2,67.7 L155.7,67.7 L152.1,67.7 L148.6,67.8 L145.1,67.8 L141.5,67.9 L137.9,67.9 L134.1,68.0 L130.4,68.1 L126.7,68.2 L123.1,68.3 L119.6,68.5 L116.3,68.6 L113.2,68.8 L110.3,69.0 L107.8,69.2 L105.4,69.4 L103.3,69.6 L101.4,69.8 L99.6,70.0 L97.9,70.3 L96.2,70.5 L94.5,70.8 L92.8,71.2 L90.9,71.5 L89.1,71.9 L87.3,72.3 L85.5,72.7 L83.7,73.2 L81.9,73.6 L80.2,74.1 L78.5,74.6 L76.8,75.2 L75.2,75.7 L73.7,76.3 L72.2,76.9 L70.8,77.5 L69.3,78.1 L68.0,78.8 L66.6,79.4 L65.3,80.1 L64.1,80.8 L62.9,81.5 L61.8,82.2 L60.8,82.9 L59.8,83.7 L58.8,84.4 L57.9,85.2 L57.0,86.0 L56.1,86.8 L55.4,87.6 L54.7,88.4 L54.1,89.1 L53.5,89.8 L53.1,90.5 L52.7,91.1 L52.4,91.8 L52.2,92.4 L52.0,93.0 L51.8,93.6 L51.7,94.2 L51.7,94.8 L51.7,95.3 L51.8,95.7 L51.9,96.1 L52.0,96.4 L52.2,96.6 L52.3,97.0 L52.5,97.3 L52.7,97.7 L53.0,98.2 L53.3,98.7 L53.7,99.3 L54.1,100.0 L54.7,100.7 L55.2,101.4 L55.8,102.2 L56.5,103.0 L57.2,103.8 L58.0,104.6 L58.8,105.4 L59.8,106.3 L60.9,107.2 L62.0,108.0 L63.3,108.8 L64.8,109.7 L66.3,110.5 L68.0,111.2 L69.8,111.9 L71.7,112.6 L73.6,113.2 L75.6,113.7 L77.7,114.2 L79.8,114.5 L81.9,114.9 L84.0,115.1 L86.1,115.4 L88.3,115.6 L90.5,115.8 L92.7,116.0 L95.0,116.2 L97.4,116.3 L99.8,116.4 L102.4,116.5 L105.0,116.7 L107.7,116.8 L110.5,116.9 L113.5,116.9 L116.5,117.0 L119.6,117.0 L122.7,117.1 L125.8,117.1 L128.9,117.1 L132.0,117.1 L135.0,117.1 L138.0,117.0 L141.1,117.0 L144.1,116.9 L147.2,116.8 L150.2,116.7 L153.3,116.6 L156.3,116.4 L159.2,116.3 L162.2,116.1 L165.1,115.9 L167.9,115.6 L170.8,115.4 L173.6,115.1 L176.4,114.8 L179.2,114.4 L182.0,114.1 L184.6,113.7 L187.2,113.3 L189.7,112.9 L192.2,112.4 L194.5,112.0 L196.7,111.5 L198.9,110.9 L200.9,110.4 L202.9,109.8 L204.9,109.2 L206.8,108.6 L208.6,108.0 L210.5,107.4 L212.3,106.8 L214.1,106.2 L215.8,105.5 L217.5,104.8 L219.2,104.1 L220.8,103.4 L222.4,102.7 L224.0,102.0 L225.5,101.4 L226.9,100.7 L228.3,100.1 L229.8,99.5 L231.2,98.9 L232.6,98.2 L234.0,97.6 L235.3,97.0 L236.6,96.5 L237.8,95.9 L238.8,95.5 L239.7,95.1 L240.3,94.8 L242.1,98.7 L241.4,99.0 L240.5,99.4 L239.5,99.9 L238.4,100.4 L237.1,100.9 L235.8,101.5 L234.4,102.2 L232.9,102.8 L231.5,103.4 L230.1,104.0 L228.7,104.6 L227.2,105.3 L225.7,105.9 L224.2,106.6 L222.6,107.4 L220.9,108.1 L219.2,108.8 L217.4,109.5 L215.6,110.2 L213.7,110.9 L211.8,111.5 L210.0,112.1 L208.1,112.7 L206.1,113.4 L204.1,114.0 L202.1,114.5 L199.9,115.1 L197.7,115.7 L195.4,116.2 L193.0,116.7 L190.5,117.1 L187.9,117.6 L185.3,118.0 L182.5,118.3 L179.8,118.7 L176.9,119.0 L174.1,119.3 L171.2,119.6 L168.3,119.9 L165.4,120.1 L162.5,120.4 L159.5,120.6 L156.5,120.7 L153.4,120.9 L150.4,121.0 L147.3,121.1 L144.2,121.2 L141.2,121.3 L138.1,121.3 L135.1,121.4 L132.0,121.4 L128.9,121.4 L125.8,121.4 L122.6,121.4 L119.5,121.3 L116.4,121.3 L113.4,121.2 L110.4,121.2 L107.5,121.1 L104.8,121.0 L102.2,120.8 L99.6,120.7 L97.2,120.6 L94.8,120.4 L92.4,120.3 L90.1,120.1 L87.9,119.9 L85.7,119.7 L83.5,119.4 L81.3,119.1 L79.1,118.8 L76.9,118.4 L74.8,118.0 L72.7,117.4 L70.7,116.8 L68.8,116.1 L66.9,115.4 L65.2,114.6 L63.5,113.8 L62.0,112.9 L60.5,112.0 L59.2,111.1 L58.0,110.2 L56.9,109.3 L55.9,108.3 L55.0,107.4 L54.2,106.5 L53.4,105.6 L52.7,104.7 L52.1,103.9 L51.5,103.0 L50.9,102.2 L50.5,101.5 L50.0,100.7 L49.6,100.0 L49.3,99.3 L49.0,98.6 L48.8,98.0 L48.6,97.4 L48.5,96.7 L48.4,96.0 L48.3,95.3 L48.3,94.5 L48.4,93.7 L48.5,92.9 L48.7,92.1 L49.0,91.3 L49.4,90.4 L49.8,89.6 L50.2,88.8 L50.8,87.9 L51.4,87.1 L52.1,86.2 L52.9,85.3 L53.8,84.4 L54.7,83.5 L55.7,82.7 L56.7,81.8 L57.7,81.0 L58.8,80.2 L60.0,79.4 L61.2,78.6 L62.4,77.9 L63.7,77.1 L65.1,76.4 L66.5,75.7 L67.9,75.1 L69.4,74.4 L71.0,73.8 L72.5,73.1 L74.1,72.6 L75.8,72.0 L77.5,71.4 L79.2,70.9 L81.0,70.4 L82.8,69.9 L84.7,69.5 L86.5,69.0 L88.4,68.6 L90.3,68.2 L92.1,67.9 L93.9,67.5 L95.6,67.2 L97.4,66.9 L99.1,66.7 L101.0,66.5 L103.0,66.2 L105.1,66.0 L107.5,65.8 L110.1,65.6 L113.0,65.5 L116.1,65.3 L119.5,65.1 L123.0,65.0 L126.6,64.9 L130.3,64.7 L134.1,64.6 L137.8,64.6 L141.5,64.5 L145.0,64.4 L148.5,64.4 L152.1,64.4 L155.7,64.4 L159.2,64.3 L162.8,64.4 L166.3,64.4 L169.8,64.4 L173.3,64.5 L176.7,64.6 L179.9,64.7 L183.2,64.9 L186.4,65.0 L189.6,65.2 L192.7,65.4 L195.8,65.6 L198.8,65.9 L201.7,66.2 L204.5,66.5 L207.2,66.8 L209.8,67.2 L212.2,67.7 L214.5,68.1 L216.6,68.6 L218.7,69.2 L220.7,69.8 L222.6,70.4 L224.4,71.0 L226.2,71.6 L227.9,72.2 L229.5,72.8 L231.0,73.4 L232.5,74.0 L233.8,74.7 L235.1,75.3 L236.3,75.9 L237.4,76.5 L238.5,77.1 L239.4,77.8 L240.3,78.4 L241.0,79.0 L241.6,79.7 L242.2,80.4 L242.6,81.2 L243.1,82.1 L243.4,82.9 L243.7,83.8 L244.0,84.6 L244.2,85.3 L244.4,86.0 L244.7,86.6 Z" fill="#a29ca4"/><path d="M241.6,87.9 L241.3,87.2 L241.0,86.4 L240.8,85.6 L240.5,84.9 L240.3,84.1 L240.0,83.4 L239.7,82.8 L239.4,82.3 L239.1,81.9 L238.7,81.5 L238.2,81.0 L237.5,80.5 L236.6,80.0 L235.7,79.4 L234.7,78.8 L233.6,78.3 L232.4,77.7 L231.2,77.1 L229.8,76.6 L228.3,76.0 L226.7,75.4 L225.0,74.8 L223.3,74.2 L221.6,73.6 L219.7,73.0 L217.8,72.4 L215.8,71.9 L213.7,71.4 L211.5,70.9 L209.2,70.5 L206.8,70.2 L204.1,69.8 L201.4,69.5 L198.5,69.2 L195.6,69.0 L192.5,68.8 L189.4,68.6 L186.2,68.4 L183.0,68.2 L179.8,68.1 L176.5,68.0 L173.2,67.9 L169.8,67.8 L166.3,67.7 L162.8,67.7 L159.2,67.7 L155.7,67.7 L152.1,67.7 L148.6,67.8 L145.1,67.8 L141.5,67.9 L137.9,67.9 L134.1,68.0 L130.4,68.1 L126.7,68.2 L123.1,68.3 L119.6,68.5 L116.3,68.6 L113.2,68.8 L110.3,69.0 L107.8,69.2 L105.4,69.4 L103.3,69.6 L101.4,69.8 L99.6,70.0 L97.9,70.3 L96.2,70.5 L94.5,70.8 L92.8,71.2 L90.9,71.5 L89.1,71.9 L87.3,72.3 L85.5,72.7 L83.7,73.2 L81.9,73.6 L80.2,74.1 L78.5,74.6 L76.8,75.2 L75.2,75.7 L73.7,76.3 L72.2,76.9 L70.8,77.5 L69.3,78.1 L68.0,78.8 L66.6,79.4 L65.3,80.1 L64.1,80.8 L62.9,81.5 L61.8,82.2 L60.8,82.9 L59.8,83.7 L58.8,84.4 L57.9,85.2 L57.0,86.0 L56.1,86.8 L55.4,87.6 L54.7,88.4 L54.1,89.1 L53.5,89.8 L53.1,90.5 L52.7,91.1 L52.4,91.8 L52.2,92.4 L52.0,93.0 L51.8,93.6 L51.7,94.2 L51.7,94.8 L51.7,95.3 L51.8,95.7 L51.9,96.1 L52.0,96.4 L52.1,96.7 L52.2,97.0 L52.3,97.4 L52.5,97.9 L52.7,98.5 L52.9,99.1 L53.2,99.8 L53.6,100.6 L54.0,101.4 L54.5,102.4 L55.1,103.3 L55.6,104.3 L56.3,105.3 L57.0,106.4 L57.8,107.5 L58.8,108.6 L59.8,109.7 L61.0,110.8 L62.3,111.8 L63.8,112.9 L65.4,113.9 L67.1,114.9 L68.9,115.8 L70.8,116.6 L72.8,117.3 L74.8,117.9 L76.9,118.4 L79.1,118.8 L81.3,119.1 L83.5,119.4 L85.7,119.7 L87.9,119.9 L90.1,120.1 L92.4,120.3 L94.8,120.4 L97.2,120.6 L99.6,120.7 L102.2,120.8 L104.8,121.0 L107.5,121.1 L110.4,121.2 L113.4,121.2 L116.4,121.3 L119.5,121.3 L122.6,121.4 L125.8,121.4 L128.9,121.4 L132.0,121.4 L135.1,121.4 L138.1,121.3 L141.2,121.3 L144.2,121.2 L147.3,121.1 L150.4,121.0 L153.4,120.9 L156.5,120.7 L159.5,120.6 L162.5,120.4 L165.4,120.1 L168.3,119.9 L171.2,119.6 L174.1,119.3 L176.9,119.0 L179.8,118.7 L182.5,118.3 L185.3,118.0 L187.9,117.6 L190.5,117.1 L193.0,116.7 L195.4,116.2 L197.7,115.7 L199.9,115.1 L202.1,114.5 L204.1,114.0 L206.1,113.4 L208.1,112.7 L210.0,112.1 L211.8,111.5 L213.7,110.9 L215.6,110.2 L217.4,109.5 L219.2,108.8 L220.9,108.1 L222.6,107.4 L224.2,106.6 L225.7,105.9 L227.2,105.3 L228.7,104.6 L230.1,104.0 L231.5,103.4 L232.9,102.8 L234.4,102.2 L235.8,101.5 L237.1,100.9 L238.4,100.4 L239.5,99.9 L240.5,99.4 L241.4,99.0 L242.1,98.7 L243.5,101.9 L242.8,102.2 L241.9,102.6 L240.9,103.0 L239.8,103.5 L238.5,104.1 L237.1,104.7 L235.7,105.3 L234.3,105.9 L232.8,106.6 L231.4,107.2 L230.0,107.8 L228.6,108.4 L227.1,109.1 L225.6,109.8 L223.9,110.5 L222.2,111.2 L220.5,112.0 L218.6,112.7 L216.7,113.4 L214.8,114.1 L212.9,114.8 L211.1,115.4 L209.1,116.0 L207.2,116.6 L205.1,117.3 L203.0,117.9 L200.8,118.4 L198.5,119.0 L196.1,119.5 L193.6,120.0 L191.1,120.5 L188.5,120.9 L185.8,121.4 L183.0,121.7 L180.2,122.1 L177.3,122.4 L174.4,122.8 L171.5,123.1 L168.6,123.3 L165.7,123.6 L162.7,123.8 L159.7,124.0 L156.7,124.2 L153.6,124.3 L150.5,124.4 L147.4,124.5 L144.3,124.6 L141.2,124.7 L138.2,124.8 L135.1,124.8 L132.0,124.8 L128.9,124.8 L125.7,124.8 L122.6,124.8 L119.4,124.8 L116.3,124.7 L113.3,124.7 L110.3,124.6 L107.4,124.5 L104.7,124.4 L102.0,124.3 L99.5,124.2 L97.0,124.0 L94.5,123.9 L92.2,123.7 L89.8,123.5 L87.6,123.3 L85.3,123.1 L83.0,122.8 L80.8,122.5 L78.6,122.2 L76.4,121.8 L74.2,121.2 L72.1,120.6 L70.1,119.7 L68.1,118.8 L66.3,117.8 L64.6,116.7 L63.0,115.5 L61.5,114.2 L60.2,113.0 L59.0,111.7 L58.0,110.4 L57.0,109.1 L56.2,107.8 L55.5,106.5 L54.9,105.3 L54.4,104.2 L54.0,103.1 L53.6,102.1 L53.2,101.1 L52.9,100.2 L52.6,99.4 L52.4,98.7 L52.3,98.0 L52.2,97.5 L52.1,97.1 L52.1,96.7 L52.0,96.4 L51.9,96.1 L51.8,95.7 L51.7,95.3 L51.7,94.8 L51.7,94.2 L51.8,93.6 L52.0,93.0 L52.2,92.4 L52.4,91.8 L52.7,91.1 L53.1,90.5 L53.5,89.8 L54.1,89.1 L54.7,88.4 L55.4,87.6 L56.1,86.8 L57.0,86.0 L57.9,85.2 L58.8,84.4 L59.8,83.7 L60.8,82.9 L61.8,82.2 L62.9,81.5 L64.1,80.8 L65.3,80.1 L66.6,79.4 L68.0,78.8 L69.3,78.1 L70.8,77.5 L72.2,76.9 L73.7,76.3 L75.2,75.7 L76.8,75.2 L78.5,74.6 L80.2,74.1 L81.9,73.6 L83.7,73.2 L85.5,72.7 L87.3,72.3 L89.1,71.9 L90.9,71.5 L92.8,71.2 L94.5,70.8 L96.2,70.5 L97.9,70.3 L99.6,70.0 L101.4,69.8 L103.3,69.6 L105.4,69.4 L107.8,69.2 L110.3,69.0 L113.2,68.8 L116.3,68.6 L119.6,68.5 L123.1,68.3 L126.7,68.2 L130.4,68.1 L134.1,68.0 L137.9,67.9 L141.5,67.9 L145.1,67.8 L148.6,67.8 L152.1,67.7 L155.7,67.7 L159.2,67.7 L162.8,67.7 L166.3,67.7 L169.8,67.8 L173.2,67.9 L176.5,68.0 L179.8,68.1 L183.0,68.2 L186.2,68.4 L189.4,68.6 L192.5,68.8 L195.6,69.0 L198.5,69.2 L201.4,69.5 L204.1,69.8 L206.8,70.2 L209.2,70.5 L211.5,70.9 L213.7,71.4 L215.8,71.9 L217.8,72.4 L219.7,73.0 L221.6,73.6 L223.3,74.2 L225.0,74.8 L226.7,75.4 L228.3,76.0 L229.8,76.6 L231.2,77.1 L232.4,77.7 L233.6,78.3 L234.7,78.8 L235.7,79.4 L236.6,80.0 L237.5,80.5 L238.2,81.0 L238.7,81.5 L239.1,81.9 L239.4,82.3 L239.7,82.8 L240.0,83.4 L240.3,84.1 L240.5,84.9 L240.8,85.6 L241.0,86.4 L241.3,87.2 L241.6,87.9 Z" fill="#a49ea6"/><path d="M246.0,86.0 L245.8,85.5 L245.6,84.9 L245.3,84.1 L245.1,83.3 L244.8,82.4 L244.4,81.5 L243.9,80.5 L243.4,79.6 L242.7,78.8 L242.0,78.0 L241.2,77.3 L240.2,76.6 L239.2,75.9 L238.2,75.3 L237.0,74.6 L235.8,74.0 L234.4,73.3 L233.0,72.7 L231.6,72.1 L230.0,71.5 L228.4,70.9 L226.7,70.3 L224.9,69.6 L223.1,69.0 L221.1,68.4 L219.1,67.8 L217.0,67.2 L214.8,66.7 L212.4,66.2 L210.0,65.8 L207.4,65.4 L204.7,65.1 L201.9,64.7 L199.0,64.5 L195.9,64.2 L192.8,64.0 L189.7,63.8 L186.5,63.6 L183.2,63.4 L180.0,63.3 L176.7,63.2 L173.3,63.1 L169.9,63.0 L166.4,62.9 L162.8,62.9 L159.2,62.9 L155.7,62.9 L152.1,62.9 L148.5,63.0 L145.0,63.0 L141.4,63.1 L137.8,63.1 L134.0,63.2 L130.3,63.3 L126.6,63.4 L122.9,63.5 L119.4,63.7 L116.0,63.8 L112.9,64.0 L110.0,64.2 L107.4,64.4 L105.0,64.6 L102.8,64.8 L100.8,65.0 L98.9,65.3 L97.1,65.5 L95.4,65.8 L93.6,66.1 L91.9,66.4 L90.0,66.8 L88.1,67.2 L86.2,67.6 L84.3,68.1 L82.5,68.5 L80.6,69.0 L78.8,69.5 L77.0,70.1 L75.3,70.6 L73.6,71.2 L72.0,71.8 L70.4,72.4 L68.9,73.1 L67.3,73.7 L65.9,74.4 L64.4,75.1 L63.0,75.9 L61.7,76.6 L60.4,77.4 L59.2,78.2 L58.0,79.0 L56.9,79.8 L55.8,80.7 L54.7,81.6 L53.7,82.5 L52.8,83.4 L51.9,84.3 L51.0,85.2 L50.3,86.2 L49.6,87.1 L49.0,88.0 L48.5,88.9 L48.0,89.8 L47.7,90.8 L47.4,91.7 L47.1,92.6 L47.0,93.5 L46.9,94.4 L46.8,95.3 L46.9,96.2 L47.0,97.0 L47.2,97.8 L47.4,98.6 L47.7,99.4 L48.0,100.1 L48.4,100.9 L48.9,101.7 L49.4,102.5 L50.0,103.3 L50.6,104.1 L51.3,104.9 L52.0,105.8 L52.8,106.6 L53.6,107.5 L54.5,108.3 L55.5,109.2 L56.5,110.1 L57.7,110.9 L59.0,111.8 L60.3,112.6 L61.8,113.4 L63.4,114.2 L65.1,114.9 L66.9,115.6 L68.7,116.3 L70.7,116.9 L72.7,117.5 L74.8,118.0 L76.9,118.4 L79.1,118.8 L81.3,119.1 L83.5,119.4 L85.7,119.7 L87.9,119.9 L90.1,120.1 L92.4,120.3 L94.8,120.4 L97.2,120.6 L99.6,120.7 L102.2,120.8 L104.8,121.0 L107.5,121.1 L110.4,121.2 L113.4,121.2 L116.4,121.3 L119.5,121.3 L122.6,121.4 L125.8,121.4 L128.9,121.4 L132.0,121.4 L135.1,121.4 L138.1,121.3 L141.2,121.3 L144.2,121.2 L147.3,121.1 L150.4,121.0 L153.4,120.9 L156.5,120.7 L159.5,120.6 L162.5,120.4 L165.4,120.1 L168.3,119.9 L171.2,119.6 L174.1,119.3 L176.9,119.0 L179.8,118.7 L182.5,118.3 L185.3,118.0 L187.9,117.6 L190.5,117.1 L193.0,116.7 L195.4,116.2 L197.7,115.7 L199.9,115.1 L202.1,114.5 L204.1,114.0 L206.1,113.4 L208.1,112.7 L210.0,112.1 L211.8,111.5 L213.7,110.9 L215.6,110.2 L217.4,109.5 L219.2,108.8 L220.9,108.1 L222.6,107.4 L224.2,106.6 L225.7,105.9 L227.2,105.3 L228.7,104.6 L230.1,104.0 L231.5,103.4 L232.9,102.8 L234.4,102.2 L235.8,101.5 L237.1,100.9 L238.4,100.4 L239.5,99.9 L240.5,99.4 L241.4,99.0 L242.1,98.7 L243.5,101.9 L242.8,102.2 L241.9,102.6 L240.9,103.0 L239.8,103.5 L238.5,104.1 L237.1,104.7 L235.7,105.3 L234.3,105.9 L232.8,106.6 L231.4,107.2 L230.0,107.8 L228.6,108.4 L227.1,109.1 L225.6,109.8 L223.9,110.5 L222.2,111.2 L220.5,112.0 L218.6,112.7 L216.7,113.4 L214.8,114.1 L212.9,114.8 L211.1,115.4 L209.1,116.0 L207.2,116.6 L205.1,117.3 L203.0,117.9 L200.8,118.4 L198.5,119.0 L196.1,119.5 L193.6,120.0 L191.1,120.5 L188.5,120.9 L185.8,121.4 L183.0,121.7 L180.2,122.1 L177.3,122.4 L174.4,122.8 L171.5,123.1 L168.6,123.3 L165.7,123.6 L162.7,123.8 L159.7,124.0 L156.7,124.2 L153.6,124.3 L150.5,124.4 L147.4,124.5 L144.3,124.6 L141.2,124.7 L138.2,124.8 L135.1,124.8 L132.0,124.8 L128.9,124.8 L125.7,124.8 L122.6,124.8 L119.4,124.8 L116.3,124.7 L113.3,124.7 L110.3,124.6 L107.4,124.5 L104.7,124.4 L102.0,124.3 L99.5,124.2 L97.0,124.0 L94.5,123.9 L92.2,123.7 L89.8,123.5 L87.6,123.3 L85.3,123.1 L83.0,122.8 L80.8,122.5 L78.6,122.2 L76.4,121.8 L74.2,121.3 L72.1,120.7 L70.0,120.1 L68.0,119.3 L66.1,118.5 L64.3,117.7 L62.6,116.8 L61.0,115.8 L59.5,114.8 L58.1,113.8 L56.9,112.7 L55.7,111.7 L54.7,110.6 L53.8,109.6 L52.9,108.5 L52.1,107.5 L51.4,106.5 L50.8,105.5 L50.2,104.6 L49.6,103.7 L49.1,102.8 L48.6,101.9 L48.2,101.0 L47.9,100.2 L47.6,99.4 L47.3,98.6 L47.1,97.8 L47.0,97.0 L46.9,96.2 L46.8,95.3 L46.9,94.4 L47.0,93.5 L47.1,92.6 L47.4,91.7 L47.7,90.8 L48.0,89.8 L48.5,88.9 L49.0,88.0 L49.6,87.1 L50.3,86.2 L51.0,85.2 L51.9,84.3 L52.8,83.4 L53.7,82.5 L54.7,81.6 L55.8,80.7 L56.9,79.8 L58.0,79.0 L59.2,78.2 L60.4,77.4 L61.7,76.6 L63.0,75.9 L64.4,75.1 L65.9,74.4 L67.3,73.7 L68.9,73.1 L70.4,72.4 L72.0,71.8 L73.6,71.2 L75.3,70.6 L77.0,70.1 L78.8,69.5 L80.6,69.0 L82.5,68.5 L84.3,68.1 L86.2,67.6 L88.1,67.2 L90.0,66.8 L91.9,66.4 L93.6,66.1 L95.4,65.8 L97.1,65.5 L98.9,65.3 L100.8,65.0 L102.8,64.8 L105.0,64.6 L107.4,64.4 L110.0,64.2 L112.9,64.0 L116.0,63.8 L119.4,63.7 L122.9,63.5 L126.6,63.4 L130.3,63.3 L134.0,63.2 L137.8,63.1 L141.4,63.1 L145.0,63.0 L148.5,63.0 L152.1,62.9 L155.7,62.9 L159.2,62.9 L162.8,62.9 L166.4,62.9 L169.9,63.0 L173.3,63.1 L176.7,63.2 L180.0,63.3 L183.2,63.4 L186.5,63.6 L189.7,63.8 L192.8,64.0 L195.9,64.2 L199.0,64.5 L201.9,64.7 L204.7,65.1 L207.4,65.4 L210.0,65.8 L212.4,66.2 L214.8,66.7 L217.0,67.2 L219.1,67.8 L221.1,68.4 L223.1,69.0 L224.9,69.6 L226.7,70.3 L228.4,70.9 L230.0,71.5 L231.6,72.1 L233.0,72.7 L234.4,73.3 L235.8,74.0 L237.0,74.6 L238.2,75.3 L239.2,75.9 L240.2,76.6 L241.2,77.3 L242.0,78.0 L242.7,78.8 L243.4,79.6 L243.9,80.5 L244.4,81.5 L244.8,82.4 L245.1,83.3 L245.3,84.1 L245.6,84.9 L245.8,85.5 L246.0,86.0 Z" fill="#bcb8be"/><path d="M247.8,85.3 L247.6,84.8 L247.4,84.3 L247.2,83.6 L246.9,82.7 L246.5,81.7 L246.1,80.7 L245.6,79.6 L245.0,78.6 L244.2,77.5 L243.3,76.6 L242.4,75.8 L241.4,75.0 L240.3,74.3 L239.1,73.6 L237.9,72.9 L236.6,72.2 L235.2,71.6 L233.8,71.0 L232.3,70.3 L230.7,69.7 L229.0,69.1 L227.3,68.5 L225.5,67.8 L223.7,67.2 L221.7,66.6 L219.6,66.0 L217.5,65.4 L215.2,64.8 L212.8,64.4 L210.3,63.9 L207.7,63.5 L204.9,63.2 L202.1,62.8 L199.1,62.6 L196.1,62.3 L193.0,62.1 L189.8,61.9 L186.6,61.7 L183.3,61.5 L180.1,61.4 L176.8,61.3 L173.4,61.2 L169.9,61.1 L166.4,61.0 L162.8,61.0 L159.2,61.0 L155.7,61.0 L152.1,61.0 L148.5,61.0 L145.0,61.1 L141.4,61.1 L137.7,61.2 L134.0,61.3 L130.2,61.4 L126.5,61.5 L122.8,61.6 L119.3,61.8 L115.9,61.9 L112.8,62.1 L109.9,62.3 L107.2,62.5 L104.8,62.7 L102.6,62.9 L100.6,63.1 L98.7,63.4 L96.8,63.6 L95.1,63.9 L93.3,64.2 L91.5,64.6 L89.6,64.9 L87.7,65.3 L85.8,65.7 L83.9,66.2 L82.0,66.7 L80.1,67.2 L78.3,67.7 L76.5,68.2 L74.7,68.8 L73.0,69.4 L71.3,70.0 L69.7,70.6 L68.1,71.3 L66.6,72.0 L65.0,72.7 L63.6,73.4 L62.1,74.2 L60.7,75.0 L59.4,75.8 L58.1,76.6 L56.9,77.4 L55.7,78.3 L54.6,79.2 L53.5,80.1 L52.4,81.1 L51.4,82.0 L50.4,83.0 L49.6,84.0 L48.8,85.0 L48.0,86.0 L47.4,87.0 L46.8,88.0 L46.3,89.1 L45.9,90.1 L45.5,91.2 L45.2,92.2 L45.1,93.3 L44.9,94.3 L44.9,95.4 L44.9,96.4 L45.0,97.4 L45.3,98.3 L45.7,99.3 L46.1,100.1 L46.7,100.9 L47.4,101.7 L48.1,102.3 L48.9,102.9 L49.8,103.4 L50.8,103.9 L51.7,104.3 L52.8,104.7 L53.9,105.0 L55.0,105.3 L56.1,105.5 L57.4,105.7 L58.6,105.9 L59.9,106.0 L61.3,106.1 L62.7,106.2 L64.2,106.2 L65.8,106.3 L67.5,106.4 L69.2,106.5 L71.1,106.6 L72.9,106.7 L74.9,106.9 L76.8,107.1 L78.8,107.4 L80.8,107.7 L82.8,108.0 L84.9,108.3 L86.9,108.6 L89.0,108.8 L91.1,109.0 L93.3,109.1 L95.5,109.3 L97.8,109.4 L100.2,109.6 L102.7,109.7 L105.2,109.8 L107.9,109.9 L110.7,110.0 L113.6,110.1 L116.6,110.1 L119.6,110.2 L122.7,110.2 L125.8,110.2 L128.9,110.2 L131.9,110.2 L134.9,110.2 L137.9,110.1 L140.9,110.1 L143.9,110.0 L147.0,109.9 L150.0,109.8 L153.0,109.7 L155.9,109.6 L158.8,109.4 L161.7,109.2 L164.5,109.0 L167.3,108.8 L170.1,108.5 L172.9,108.2 L175.7,107.9 L178.4,107.6 L181.0,107.3 L183.6,106.9 L186.1,106.5 L188.6,106.1 L190.9,105.7 L193.0,105.2 L195.1,104.8 L197.2,104.3 L199.1,103.8 L201.0,103.2 L202.9,102.7 L204.7,102.1 L206.5,101.5 L208.3,100.9 L210.0,100.3 L211.7,99.7 L213.3,99.1 L214.9,98.5 L216.5,97.8 L218.1,97.1 L219.6,96.4 L221.2,95.7 L222.7,95.1 L224.2,94.4 L225.6,93.8 L227.0,93.2 L228.4,92.6 L229.8,91.9 L231.2,91.3 L232.6,90.7 L233.8,90.2 L235.0,89.7 L236.0,89.2 L236.9,88.8 L237.6,88.5 L237.9,89.3 L237.2,89.6 L236.3,90.0 L235.3,90.4 L234.2,91.0 L232.9,91.5 L231.6,92.1 L230.2,92.7 L228.8,93.3 L227.4,94.0 L225.9,94.6 L224.5,95.2 L223.0,95.9 L221.5,96.5 L220.0,97.2 L218.4,97.9 L216.9,98.6 L215.3,99.3 L213.6,99.9 L212.0,100.5 L210.3,101.1 L208.5,101.7 L206.7,102.3 L204.9,102.9 L203.1,103.5 L201.2,104.1 L199.3,104.6 L197.4,105.1 L195.3,105.6 L193.2,106.1 L191.0,106.5 L188.7,107.0 L186.3,107.4 L183.8,107.7 L181.2,108.1 L178.5,108.5 L175.8,108.8 L173.0,109.1 L170.2,109.4 L167.4,109.6 L164.6,109.9 L161.8,110.1 L158.9,110.3 L156.0,110.4 L153.0,110.6 L150.0,110.7 L147.0,110.8 L144.0,110.9 L140.9,110.9 L137.9,111.0 L134.9,111.0 L131.9,111.1 L128.9,111.1 L125.8,111.1 L122.7,111.1 L119.6,111.0 L116.6,111.0 L113.6,110.9 L110.7,110.8 L107.9,110.7 L105.2,110.6 L102.6,110.5 L100.1,110.4 L97.8,110.3 L95.4,110.1 L93.2,110.0 L91.0,109.8 L88.9,109.6 L86.8,109.4 L84.8,109.2 L82.7,108.9 L80.7,108.6 L78.7,108.3 L76.7,108.0 L74.7,107.7 L72.8,107.5 L70.9,107.2 L69.1,107.0 L67.3,106.9 L65.7,106.7 L64.1,106.5 L62.6,106.4 L61.2,106.2 L59.9,106.0 L58.6,105.8 L57.4,105.6 L56.3,105.3 L55.2,105.0 L54.1,104.6 L53.1,104.3 L52.1,103.8 L51.2,103.4 L50.3,102.9 L49.5,102.4 L48.8,101.8 L48.1,101.2 L47.5,100.5 L46.9,99.7 L46.5,98.9 L46.2,98.1 L45.9,97.2 L45.8,96.3 L45.8,95.3 L45.8,94.4 L45.9,93.4 L46.1,92.4 L46.3,91.4 L46.7,90.4 L47.1,89.4 L47.5,88.4 L48.1,87.4 L48.7,86.5 L49.4,85.5 L50.2,84.6 L51.1,83.6 L52.0,82.6 L53.0,81.7 L54.0,80.8 L55.1,79.9 L56.2,79.0 L57.4,78.1 L58.6,77.3 L59.9,76.5 L61.2,75.7 L62.5,75.0 L64.0,74.2 L65.4,73.5 L66.9,72.8 L68.4,72.1 L70.0,71.4 L71.6,70.8 L73.3,70.2 L75.0,69.6 L76.7,69.1 L78.5,68.5 L80.3,68.0 L82.2,67.5 L84.1,67.0 L86.0,66.6 L87.9,66.2 L89.8,65.8 L91.7,65.4 L93.4,65.1 L95.2,64.8 L97.0,64.5 L98.8,64.2 L100.7,64.0 L102.7,63.8 L104.9,63.5 L107.3,63.3 L109.9,63.1 L112.8,63.0 L116.0,62.8 L119.4,62.6 L122.9,62.5 L126.5,62.4 L130.2,62.2 L134.0,62.1 L137.7,62.1 L141.4,62.0 L145.0,61.9 L148.5,61.9 L152.1,61.9 L155.7,61.9 L159.2,61.9 L162.8,61.9 L166.4,61.9 L169.9,61.9 L173.3,62.0 L176.7,62.1 L180.0,62.2 L183.3,62.4 L186.5,62.6 L189.7,62.7 L192.9,62.9 L196.0,63.2 L199.1,63.4 L202.0,63.7 L204.8,64.0 L207.6,64.4 L210.2,64.8 L212.6,65.2 L215.0,65.7 L217.2,66.2 L219.4,66.8 L221.4,67.4 L223.4,68.0 L225.2,68.6 L227.0,69.3 L228.7,69.9 L230.4,70.5 L232.0,71.1 L233.5,71.8 L234.9,72.4 L236.2,73.0 L237.5,73.7 L238.7,74.3 L239.8,75.0 L240.9,75.7 L241.8,76.5 L242.7,77.2 L243.5,78.1 L244.3,79.0 L244.8,80.0 L245.3,81.0 L245.7,82.0 L246.1,83.0 L246.4,83.8 L246.6,84.6 L246.8,85.1 L247.0,85.6 Z" fill="#e0d8cb"/><path d="M250.4,84.1 L250.3,83.8 L250.1,83.4 L249.9,82.7 L249.6,81.7 L249.2,80.7 L248.7,79.5 L248.1,78.3 L247.4,77.0 L246.4,75.7 L245.3,74.5 L244.2,73.5 L243.0,72.7 L241.8,71.9 L240.6,71.1 L239.3,70.4 L237.9,69.7 L236.4,69.0 L234.9,68.3 L233.4,67.7 L231.7,67.0 L230.0,66.4 L228.3,65.7 L226.5,65.1 L224.5,64.4 L222.5,63.8 L220.4,63.2 L218.2,62.6 L215.8,62.0 L213.4,61.5 L210.8,61.1 L208.1,60.7 L205.3,60.3 L202.4,60.0 L199.4,59.7 L196.3,59.4 L193.2,59.2 L190.0,59.0 L186.7,58.8 L183.5,58.7 L180.2,58.5 L176.9,58.4 L173.4,58.3 L170.0,58.2 L166.4,58.1 L162.8,58.1 L159.2,58.1 L155.6,58.1 L152.0,58.1 L148.5,58.2 L144.9,58.2 L141.4,58.3 L137.7,58.3 L133.9,58.4 L130.1,58.5 L126.4,58.6 L122.7,58.8 L119.2,58.9 L115.8,59.1 L112.6,59.2 L109.7,59.4 L107.0,59.6 L104.6,59.8 L102.3,60.0 L100.3,60.3 L98.3,60.5 L96.4,60.8 L94.6,61.1 L92.8,61.4 L90.9,61.7 L89.1,62.1 L87.1,62.5 L85.1,62.9 L83.2,63.4 L81.3,63.9 L79.4,64.4 L77.5,64.9 L75.6,65.5 L73.8,66.1 L72.0,66.7 L70.3,67.3 L68.6,68.0 L67.0,68.7 L65.4,69.4 L63.8,70.1 L62.2,70.9 L60.8,71.7 L59.3,72.5 L57.9,73.3 L56.5,74.2 L55.2,75.1 L54.0,76.0 L52.8,77.0 L51.6,77.9 L50.4,79.0 L49.4,80.0 L48.3,81.0 L47.4,82.1 L46.5,83.2 L45.7,84.4 L44.9,85.5 L44.2,86.7 L43.7,87.9 L43.2,89.1 L42.7,90.4 L42.4,91.6 L42.2,92.9 L42.0,94.1 L42.0,95.4 L42.0,96.7 L42.1,97.9 L42.4,99.2 L42.9,100.4 L43.5,101.5 L44.2,102.5 L45.1,103.4 L46.0,104.1 L47.1,104.7 L48.1,105.2 L49.3,105.6 L50.4,105.9 L51.7,106.2 L52.9,106.3 L54.3,106.4 L55.6,106.4 L57.0,106.4 L58.4,106.2 L59.9,106.1 L61.4,105.9 L62.9,105.6 L64.5,105.4 L66.1,105.1 L67.9,104.9 L69.7,104.7 L71.5,104.6 L73.4,104.6 L75.4,104.6 L77.3,104.7 L79.3,104.9 L81.2,105.2 L83.2,105.5 L85.2,105.8 L87.2,106.0 L89.2,106.2 L91.3,106.4 L93.4,106.6 L95.7,106.7 L97.9,106.9 L100.3,107.0 L102.8,107.1 L105.3,107.2 L108.0,107.3 L110.8,107.4 L113.7,107.5 L116.7,107.5 L119.7,107.6 L122.7,107.6 L125.8,107.6 L128.9,107.6 L131.9,107.6 L134.9,107.6 L137.9,107.6 L140.9,107.5 L143.9,107.4 L146.9,107.3 L149.9,107.2 L152.8,107.1 L155.8,107.0 L158.7,106.8 L161.5,106.6 L164.3,106.4 L167.1,106.2 L169.9,105.9 L172.6,105.7 L175.4,105.4 L178.1,105.0 L180.7,104.7 L183.3,104.3 L185.7,104.0 L188.1,103.6 L190.4,103.2 L192.5,102.7 L194.5,102.3 L196.5,101.8 L198.4,101.3 L200.3,100.8 L202.1,100.2 L203.9,99.6 L205.7,99.1 L207.4,98.5 L209.2,97.9 L210.8,97.3 L212.4,96.7 L214.0,96.1 L215.5,95.4 L217.1,94.8 L218.6,94.1 L220.1,93.4 L221.6,92.7 L223.1,92.0 L224.6,91.4 L226.0,90.8 L227.4,90.2 L228.8,89.6 L230.2,89.0 L231.5,88.4 L232.8,87.8 L233.9,87.3 L234.9,86.8 L235.8,86.5 L236.5,86.1 L237.6,88.5 L236.9,88.8 L236.0,89.2 L235.0,89.7 L233.8,90.2 L232.6,90.7 L231.2,91.3 L229.8,91.9 L228.4,92.6 L227.0,93.2 L225.6,93.8 L224.2,94.4 L222.7,95.1 L221.2,95.7 L219.6,96.4 L218.1,97.1 L216.5,97.8 L214.9,98.5 L213.3,99.1 L211.7,99.7 L210.0,100.3 L208.3,100.9 L206.5,101.5 L204.7,102.1 L202.9,102.7 L201.0,103.2 L199.1,103.8 L197.2,104.3 L195.1,104.8 L193.0,105.2 L190.9,105.7 L188.6,106.1 L186.1,106.5 L183.6,106.9 L181.0,107.3 L178.4,107.6 L175.7,107.9 L172.9,108.2 L170.1,108.5 L167.3,108.8 L164.5,109.0 L161.7,109.2 L158.8,109.4 L155.9,109.6 L153.0,109.7 L150.0,109.8 L147.0,109.9 L143.9,110.0 L140.9,110.1 L137.9,110.1 L134.9,110.2 L131.9,110.2 L128.9,110.2 L125.8,110.2 L122.7,110.2 L119.6,110.2 L116.6,110.1 L113.6,110.1 L110.7,110.0 L107.9,109.9 L105.2,109.8 L102.7,109.7 L100.2,109.6 L97.8,109.4 L95.5,109.3 L93.3,109.1 L91.1,109.0 L89.0,108.8 L86.9,108.6 L84.9,108.3 L82.8,108.0 L80.8,107.7 L78.8,107.4 L76.8,107.1 L74.9,106.9 L72.9,106.7 L71.1,106.6 L69.2,106.5 L67.5,106.4 L65.8,106.3 L64.2,106.2 L62.7,106.2 L61.3,106.1 L59.9,106.0 L58.6,105.9 L57.4,105.7 L56.1,105.5 L55.0,105.3 L53.9,105.0 L52.8,104.7 L51.7,104.3 L50.8,103.9 L49.8,103.4 L48.9,102.9 L48.1,102.3 L47.4,101.7 L46.7,100.9 L46.1,100.1 L45.7,99.3 L45.3,98.3 L45.0,97.4 L44.9,96.4 L44.9,95.4 L44.9,94.3 L45.1,93.3 L45.2,92.2 L45.5,91.2 L45.9,90.1 L46.3,89.1 L46.8,88.0 L47.4,87.0 L48.0,86.0 L48.8,85.0 L49.6,84.0 L50.4,83.0 L51.4,82.0 L52.4,81.1 L53.5,80.1 L54.6,79.2 L55.7,78.3 L56.9,77.4 L58.1,76.6 L59.4,75.8 L60.7,75.0 L62.1,74.2 L63.6,73.4 L65.0,72.7 L66.6,72.0 L68.1,71.3 L69.7,70.6 L71.3,70.0 L73.0,69.4 L74.7,68.8 L76.5,68.2 L78.3,67.7 L80.1,67.2 L82.0,66.7 L83.9,66.2 L85.8,65.7 L87.7,65.3 L89.6,64.9 L91.5,64.6 L93.3,64.2 L95.1,63.9 L96.8,63.6 L98.7,63.4 L100.6,63.1 L102.6,62.9 L104.8,62.7 L107.2,62.5 L109.9,62.3 L112.8,62.1 L115.9,61.9 L119.3,61.8 L122.8,61.6 L126.5,61.5 L130.2,61.4 L134.0,61.3 L137.7,61.2 L141.4,61.1 L145.0,61.1 L148.5,61.0 L152.1,61.0 L155.7,61.0 L159.2,61.0 L162.8,61.0 L166.4,61.0 L169.9,61.1 L173.4,61.2 L176.8,61.3 L180.1,61.4 L183.3,61.5 L186.6,61.7 L189.8,61.9 L193.0,62.1 L196.1,62.3 L199.1,62.6 L202.1,62.8 L204.9,63.2 L207.7,63.5 L210.3,63.9 L212.8,64.4 L215.2,64.8 L217.5,65.4 L219.6,66.0 L221.7,66.6 L223.7,67.2 L225.5,67.8 L227.3,68.5 L229.0,69.1 L230.7,69.7 L232.3,70.3 L233.8,71.0 L235.2,71.6 L236.6,72.2 L237.9,72.9 L239.1,73.6 L240.3,74.3 L241.4,75.0 L242.4,75.8 L243.3,76.6 L244.2,77.5 L245.0,78.6 L245.6,79.6 L246.1,80.7 L246.5,81.7 L246.9,82.7 L247.2,83.6 L247.4,84.3 L247.6,84.8 L247.8,85.3 Z" fill="#765c66"/></g>
<g filter="url(#b05)"><path d="M110.0,77.5 L110.4,77.5 L110.8,77.5 L111.5,77.5 L112.2,77.5 L113.1,77.5 L114.1,77.5 L115.2,77.5 L116.4,77.6 L117.6,77.7 L118.8,77.8 L120.3,77.9 L121.8,78.0 L123.5,78.2 L125.2,78.5 L127.1,78.7 L129.0,79.1 L131.0,79.5 L133.1,80.1 L135.2,80.6 L137.3,81.2 L139.5,81.8 L141.8,82.4 L144.0,83.1 L146.3,83.7 L148.6,84.3 L151.0,84.9 L153.4,85.6 L155.8,86.2 L158.2,86.8 L160.7,87.4 L163.3,88.0 L166.0,88.6 L168.8,89.2 L171.8,89.7 L174.9,90.3 L178.0,90.8 L181.2,91.3 L184.3,91.8 L187.5,92.2 L190.5,92.5 L193.6,92.8 L196.8,93.1 L200.0,93.3 L203.3,93.5 L206.4,93.7 L209.4,93.8 L212.3,93.8 L214.9,93.8 L217.4,93.7 L219.7,93.6 L221.9,93.4 L223.9,93.2 L225.9,93.0 L227.7,92.7 L229.4,92.4 L231.0,92.1 L232.4,91.8 L233.5,91.5 L234.6,91.2 L235.5,90.8 L236.2,90.5 L236.9,90.2 L237.5,89.8 L238.0,89.5 L238.3,89.2 L238.6,88.9 L238.9,88.5 L239.3,87.9 L239.6,87.3 L240.0,86.6 L240.4,85.9 L240.8,85.3 L249.2,90.7 L249.0,91.0 L248.8,91.4 L248.4,92.2 L247.8,93.1 L247.1,94.2 L246.3,95.3 L245.2,96.5 L244.0,97.5 L242.8,98.3 L241.7,99.0 L240.5,99.6 L239.2,100.1 L237.8,100.6 L236.3,101.1 L234.7,101.5 L233.0,101.9 L231.2,102.2 L229.3,102.6 L227.3,102.9 L225.1,103.2 L222.8,103.4 L220.3,103.6 L217.8,103.7 L215.1,103.8 L212.2,103.8 L209.2,103.8 L206.0,103.7 L202.7,103.5 L199.4,103.3 L196.1,103.1 L192.7,102.8 L189.5,102.5 L186.2,102.1 L182.9,101.7 L179.7,101.2 L176.4,100.7 L173.1,100.1 L170.0,99.6 L166.9,99.0 L164.0,98.4 L161.2,97.8 L158.4,97.2 L155.8,96.5 L153.2,95.9 L150.8,95.2 L148.4,94.6 L146.0,93.9 L143.7,93.3 L141.4,92.7 L139.1,92.1 L136.8,91.5 L134.7,90.8 L132.6,90.3 L130.6,89.7 L128.7,89.3 L127.0,88.9 L125.4,88.6 L123.8,88.4 L122.3,88.2 L120.8,88.0 L119.4,87.9 L118.1,87.8 L116.8,87.7 L115.6,87.6 L114.6,87.5 L113.8,87.5 L113.0,87.5 L112.3,87.5 L111.6,87.5 L111.1,87.5 L110.5,87.5 L110.0,87.5 Z" fill="#968c94"/><path d="M110.0,77.5 L110.4,77.5 L110.8,77.5 L111.5,77.5 L112.2,77.5 L113.1,77.5 L114.1,77.5 L115.2,77.5 L116.4,77.6 L117.6,77.7 L118.8,77.8 L120.3,77.9 L121.8,78.0 L123.5,78.2 L125.2,78.5 L127.1,78.7 L129.0,79.1 L131.0,79.5 L133.1,80.1 L135.2,80.6 L137.3,81.2 L139.5,81.8 L141.8,82.4 L144.0,83.1 L146.3,83.7 L148.6,84.3 L151.0,84.9 L153.4,85.6 L155.8,86.2 L158.2,86.8 L160.7,87.4 L163.3,88.0 L166.0,88.6 L168.8,89.2 L171.8,89.7 L174.9,90.3 L178.0,90.8 L181.2,91.3 L184.3,91.8 L187.5,92.2 L190.5,92.5 L193.6,92.8 L196.8,93.1 L200.0,93.3 L203.3,93.5 L206.4,93.7 L209.4,93.8 L212.3,93.8 L214.9,93.8 L217.4,93.7 L219.7,93.6 L221.9,93.4 L223.9,93.2 L225.9,93.0 L227.7,92.7 L229.4,92.4 L231.0,92.1 L232.4,91.8 L233.5,91.5 L234.6,91.2 L235.5,90.8 L236.2,90.5 L236.9,90.2 L237.5,89.8 L238.0,89.5 L238.3,89.2 L238.6,88.9 L238.9,88.5 L239.3,87.9 L239.6,87.3 L240.0,86.6 L240.4,85.9 L240.8,85.3 L242.4,86.4 L242.0,86.9 L241.7,87.6 L241.3,88.2 L240.9,88.9 L240.5,89.6 L240.1,90.2 L239.6,90.6 L239.2,91.0 L238.5,91.4 L237.8,91.8 L237.0,92.2 L236.2,92.6 L235.2,93.0 L234.1,93.3 L232.8,93.6 L231.4,94.0 L229.8,94.3 L228.0,94.6 L226.1,94.9 L224.1,95.1 L222.0,95.3 L219.8,95.5 L217.4,95.6 L215.0,95.7 L212.3,95.7 L209.4,95.7 L206.3,95.6 L203.2,95.4 L199.9,95.2 L196.7,95.0 L193.5,94.7 L190.3,94.4 L187.2,94.1 L184.1,93.6 L180.9,93.2 L177.7,92.7 L174.5,92.1 L171.5,91.6 L168.5,91.0 L165.6,90.5 L162.9,89.9 L160.3,89.3 L157.8,88.7 L155.3,88.0 L152.9,87.4 L150.5,86.7 L148.1,86.1 L145.8,85.5 L143.5,84.9 L141.3,84.3 L139.0,83.7 L136.8,83.0 L134.7,82.4 L132.6,81.9 L130.6,81.4 L128.6,81.0 L126.7,80.6 L124.9,80.3 L123.2,80.1 L121.6,79.9 L120.1,79.8 L118.7,79.7 L117.4,79.6 L116.2,79.5 L115.1,79.4 L114.0,79.4 L113.1,79.4 L112.2,79.4 L111.5,79.4 L110.9,79.4 L110.4,79.4 L110.0,79.4 Z" fill="#7a626c"/><path d="M110.0,79.4 L110.4,79.4 L110.9,79.4 L111.5,79.4 L112.2,79.4 L113.1,79.4 L114.0,79.4 L115.1,79.4 L116.2,79.5 L117.4,79.6 L118.7,79.7 L120.1,79.8 L121.6,79.9 L123.2,80.1 L124.9,80.3 L126.7,80.6 L128.6,81.0 L130.6,81.4 L132.6,81.9 L134.7,82.4 L136.8,83.0 L139.0,83.7 L141.3,84.3 L143.5,84.9 L145.8,85.5 L148.1,86.1 L150.5,86.7 L152.9,87.4 L155.3,88.0 L157.8,88.7 L160.3,89.3 L162.9,89.9 L165.6,90.5 L168.5,91.0 L171.5,91.6 L174.5,92.1 L177.7,92.7 L180.9,93.2 L184.1,93.6 L187.2,94.1 L190.3,94.4 L193.5,94.7 L196.7,95.0 L199.9,95.2 L203.2,95.4 L206.3,95.6 L209.4,95.7 L212.3,95.7 L215.0,95.7 L217.4,95.6 L219.8,95.5 L222.0,95.3 L224.1,95.1 L226.1,94.9 L228.0,94.6 L229.8,94.3 L231.4,94.0 L232.8,93.6 L234.1,93.3 L235.2,93.0 L236.2,92.6 L237.0,92.2 L237.8,91.8 L238.5,91.4 L239.2,91.0 L239.6,90.6 L240.1,90.2 L240.5,89.6 L240.9,88.9 L241.3,88.2 L241.7,87.6 L242.0,86.9 L242.4,86.4 L243.1,86.8 L242.8,87.3 L242.4,88.0 L242.0,88.7 L241.6,89.4 L241.2,90.1 L240.7,90.7 L240.2,91.2 L239.7,91.7 L239.0,92.1 L238.2,92.6 L237.4,93.0 L236.5,93.4 L235.5,93.8 L234.3,94.1 L233.0,94.5 L231.5,94.8 L229.9,95.1 L228.1,95.4 L226.3,95.7 L224.2,96.0 L222.1,96.2 L219.9,96.4 L217.5,96.5 L215.0,96.6 L212.3,96.6 L209.4,96.5 L206.3,96.4 L203.1,96.3 L199.9,96.1 L196.6,95.8 L193.4,95.6 L190.2,95.3 L187.1,94.9 L183.9,94.5 L180.7,94.0 L177.6,93.5 L174.4,93.0 L171.3,92.4 L168.3,91.9 L165.4,91.3 L162.7,90.7 L160.1,90.1 L157.6,89.5 L155.1,88.9 L152.6,88.2 L150.3,87.6 L147.9,86.9 L145.6,86.3 L143.3,85.7 L141.0,85.1 L138.8,84.5 L136.6,83.9 L134.5,83.3 L132.4,82.7 L130.4,82.2 L128.4,81.8 L126.6,81.5 L124.8,81.2 L123.1,81.0 L121.5,80.8 L120.0,80.7 L118.6,80.5 L117.3,80.4 L116.2,80.4 L115.1,80.3 L114.0,80.2 L113.1,80.2 L112.2,80.2 L111.5,80.2 L110.9,80.2 L110.4,80.2 L110.0,80.3 Z" fill="#e2dacb"/><path d="M110.0,80.3 L110.4,80.2 L110.9,80.2 L111.5,80.2 L112.2,80.2 L113.1,80.2 L114.0,80.2 L115.1,80.3 L116.2,80.4 L117.3,80.4 L118.6,80.5 L120.0,80.7 L121.5,80.8 L123.1,81.0 L124.8,81.2 L126.6,81.5 L128.4,81.8 L130.4,82.2 L132.4,82.7 L134.5,83.3 L136.6,83.9 L138.8,84.5 L141.0,85.1 L143.3,85.7 L145.6,86.3 L147.9,86.9 L150.3,87.6 L152.6,88.2 L155.1,88.9 L157.6,89.5 L160.1,90.1 L162.7,90.7 L165.4,91.3 L168.3,91.9 L171.3,92.4 L174.4,93.0 L177.6,93.5 L180.7,94.0 L183.9,94.5 L187.1,94.9 L190.2,95.3 L193.4,95.6 L196.6,95.8 L199.9,96.1 L203.1,96.3 L206.3,96.4 L209.4,96.5 L212.3,96.6 L215.0,96.6 L217.5,96.5 L219.9,96.4 L222.1,96.2 L224.2,96.0 L226.3,95.7 L228.1,95.4 L229.9,95.1 L231.5,94.8 L233.0,94.5 L234.3,94.1 L235.5,93.8 L236.5,93.4 L237.4,93.0 L238.2,92.6 L239.0,92.1 L239.7,91.7 L240.2,91.2 L240.7,90.7 L241.2,90.1 L241.6,89.4 L242.0,88.7 L242.4,88.0 L242.8,87.3 L243.1,86.8 L245.4,88.3 L245.2,88.7 L244.8,89.3 L244.4,90.0 L244.0,90.8 L243.5,91.6 L242.8,92.5 L242.1,93.2 L241.3,93.9 L240.4,94.5 L239.5,95.0 L238.6,95.5 L237.5,95.9 L236.3,96.4 L235.1,96.8 L233.7,97.1 L232.1,97.5 L230.4,97.8 L228.6,98.1 L226.6,98.4 L224.6,98.7 L222.4,98.9 L220.0,99.1 L217.6,99.2 L215.0,99.3 L212.3,99.3 L209.3,99.3 L206.2,99.2 L203.0,99.0 L199.7,98.8 L196.4,98.6 L193.1,98.3 L189.9,98.0 L186.8,97.6 L183.6,97.2 L180.3,96.7 L177.1,96.2 L173.9,95.7 L170.8,95.1 L167.8,94.6 L164.9,94.0 L162.1,93.4 L159.5,92.8 L156.9,92.2 L154.4,91.5 L151.9,90.9 L149.5,90.2 L147.2,89.6 L144.9,89.0 L142.6,88.4 L140.3,87.7 L138.1,87.1 L135.9,86.5 L133.7,85.9 L131.7,85.4 L129.8,84.9 L127.9,84.5 L126.1,84.2 L124.4,83.9 L122.8,83.7 L121.3,83.5 L119.8,83.4 L118.4,83.3 L117.1,83.2 L116.0,83.1 L114.9,83.0 L113.9,83.0 L113.0,83.0 L112.3,83.0 L111.6,83.0 L110.9,83.0 L110.4,83.0 L110.0,83.0 Z" fill="#a8a6a4"/><path d="M110.0,83.0 L110.4,83.0 L110.9,83.0 L111.6,83.0 L112.3,83.0 L113.0,83.0 L113.9,83.0 L114.9,83.0 L116.0,83.1 L117.1,83.2 L118.4,83.3 L119.8,83.4 L121.3,83.5 L122.8,83.7 L124.4,83.9 L126.1,84.2 L127.9,84.5 L129.8,84.9 L131.7,85.4 L133.7,85.9 L135.9,86.5 L138.1,87.1 L140.3,87.7 L142.6,88.4 L144.9,89.0 L147.2,89.6 L149.5,90.2 L151.9,90.9 L154.4,91.5 L156.9,92.2 L159.5,92.8 L162.1,93.4 L164.9,94.0 L167.8,94.6 L170.8,95.1 L173.9,95.7 L177.1,96.2 L180.3,96.7 L183.6,97.2 L186.8,97.6 L189.9,98.0 L193.1,98.3 L196.4,98.6 L199.7,98.8 L203.0,99.0 L206.2,99.2 L209.3,99.3 L212.3,99.3 L215.0,99.3 L217.6,99.2 L220.0,99.1 L222.4,98.9 L224.6,98.7 L226.6,98.4 L228.6,98.1 L230.4,97.8 L232.1,97.5 L233.7,97.1 L235.1,96.8 L236.3,96.4 L237.5,95.9 L238.6,95.5 L239.5,95.0 L240.4,94.5 L241.3,93.9 L242.1,93.2 L242.8,92.5 L243.5,91.6 L244.0,90.8 L244.4,90.0 L244.8,89.3 L245.2,88.7 L245.4,88.3 L249.2,90.7 L249.0,91.0 L248.8,91.4 L248.4,92.2 L247.8,93.1 L247.1,94.2 L246.3,95.3 L245.2,96.5 L244.0,97.5 L242.8,98.3 L241.7,99.0 L240.5,99.6 L239.2,100.1 L237.8,100.6 L236.3,101.1 L234.7,101.5 L233.0,101.9 L231.2,102.2 L229.3,102.6 L227.3,102.9 L225.1,103.2 L222.8,103.4 L220.3,103.6 L217.8,103.7 L215.1,103.8 L212.2,103.8 L209.2,103.8 L206.0,103.7 L202.7,103.5 L199.4,103.3 L196.1,103.1 L192.7,102.8 L189.5,102.5 L186.2,102.1 L182.9,101.7 L179.7,101.2 L176.4,100.7 L173.1,100.1 L170.0,99.6 L166.9,99.0 L164.0,98.4 L161.2,97.8 L158.4,97.2 L155.8,96.5 L153.2,95.9 L150.8,95.2 L148.4,94.6 L146.0,93.9 L143.7,93.3 L141.4,92.7 L139.1,92.1 L136.8,91.5 L134.7,90.8 L132.6,90.3 L130.6,89.7 L128.7,89.3 L127.0,88.9 L125.4,88.6 L123.8,88.4 L122.3,88.2 L120.8,88.0 L119.4,87.9 L118.1,87.8 L116.8,87.7 L115.6,87.6 L114.6,87.5 L113.8,87.5 L113.0,87.5 L112.3,87.5 L111.6,87.5 L111.1,87.5 L110.5,87.5 L110.0,87.5 Z" fill="#d8dab8"/></g>
<g filter="url(#b05)"><path d="M106.5,82.8 C107,80.5 109,79.2 113,78.8 C117,78.6 121,79 125,79.8 L125,86.5 C120,86.6 115,86.4 111,85.8 C108.5,85.3 106.8,84.3 106.5,82.8 Z" fill="#7c6670"/><path d="M107.5,84 C110,85.2 115,85.8 125,86" fill="none" stroke="#d8d8b8" stroke-width="1.8"/><path d="M108,81.8 C111,81.2 116,81.2 125,82" fill="none" stroke="#ddd4c4" stroke-width="0.8" opacity="0.8"/></g>
<circle cx="113" cy="81.6" r="0.9" fill="#2a2022"/>
</g>
</g>
<!-- photo B -->
<g id="photoB">
<rect x="28.6" y="130" width="229.9" height="128" fill="#b8a98a"/>
<g clip-path="url(#clipB)">
<rect x="28.6" y="130" width="229.9" height="128" fill="url(#rockB)"/>
<!-- rock texture -->
<g filter="url(#b2)" opacity="0.55">
<ellipse cx="190" cy="165" rx="14" ry="3" fill="#b4a27c"/>
<ellipse cx="222" cy="158" rx="10" ry="3" fill="#b8a680"/>
<ellipse cx="160" cy="163" rx="6" ry="4" fill="#b8a680"/>
<ellipse cx="60" cy="200" rx="18" ry="8" fill="#bcae8c"/>
<path d="M200,168 L214,152 M238,162 L252,146 M170,166 L180,158" stroke="#a89468" stroke-width="3"/>
<ellipse cx="45" cy="215" rx="14" ry="20" fill="#bfae8a"/>
<ellipse cx="248" cy="230" rx="10" ry="14" fill="#c4b696"/>
</g>
<ellipse cx="235" cy="139.5" rx="4" ry="1.8" fill="#9c5a3a" filter="url(#b05)"/>
<!-- grass -->
<path d="M28.6,130 H258.5 V135.5 C245,135.5 232,136 222,138 C205,141 190,145 170,150 C150,155 120,165 95,173 C75,178 50,181 28.6,183 Z" fill="url(#grassB)" filter="url(#b1)"/>
<!-- shadows -->
<g filter="url(#b2)" fill="#3a3224" opacity="0.9">
<ellipse cx="247" cy="199" rx="9" ry="7"/>
<ellipse cx="233" cy="234" rx="7" ry="8"/>
<ellipse cx="205" cy="250" rx="25" ry="5"/>
</g>
<path d="M122,186 C135,176 160,172.5 200,172 C228,172 246,174 251,184 C254,192 250,200 240,204 C236,206 234,212 234,222 C234,232 232,240 222,246 C205,254 170,258 120,258 C80,258 50,255 41,246 C35,238 37,222 46,214 C55,208 72,206 95,206.5 C108,207 115,206 118,200 Z" fill="#4a3a28" filter="url(#b1)"/>
<g filter="url(#b05)"><path d="M66.0,210.0 L66.4,209.0 L67.0,207.8 L67.6,206.2 L68.4,204.5 L69.2,202.7 L70.1,201.0 L71.0,199.4 L72.0,198.0 L73.0,196.8 L74.1,195.6 L75.3,194.5 L76.6,193.5 L77.9,192.5 L79.2,191.6 L80.6,190.8 L82.0,190.0 L83.5,189.3 L85.0,188.7 L86.6,188.1 L88.2,187.6 L89.8,187.2 L91.5,186.8 L93.3,186.4 L95.0,186.0 L96.7,185.6 L98.5,185.3 L100.3,185.0 L102.1,184.8 L103.9,184.5 L105.9,184.3 L107.9,184.1 L110.0,184.0 L112.4,183.9 L115.1,183.9 L118.0,183.9 L120.9,183.9 L123.7,183.9 L126.3,184.0 L128.4,184.0 L130.0,184.0" fill="none" stroke="#a88c60" stroke-width="6" stroke-linecap="round" stroke-linejoin="round"/><path d="M63.3,208.8 L63.7,207.8 L64.2,206.6 L64.9,205.0 L65.6,203.3 L66.5,201.4 L67.4,199.6 L68.5,197.8 L69.6,196.2 L70.8,194.8 L72.0,193.5 L73.3,192.3 L74.7,191.1 L76.1,190.1 L77.6,189.1 L79.1,188.2 L80.6,187.3 L82.3,186.6 L83.9,185.9 L85.6,185.3 L87.4,184.7 L89.1,184.3 L90.9,183.8 L92.6,183.4 L94.4,183.1 L96.2,182.7 L98.0,182.4 L99.8,182.1 L101.7,181.8 L103.6,181.5 L105.6,181.3 L107.6,181.1 L109.8,181.0 L112.3,180.9 L115.1,180.9 L118.0,180.9 L121.0,180.9 L123.8,180.9 L126.3,181.0 L128.5,181.0 L130.0,181.0 L130.0,182.1 L128.4,182.0 L126.3,182.0 L123.8,182.0 L121.0,181.9 L118.0,181.9 L115.1,181.9 L112.3,182.0 L109.9,182.1 L107.7,182.2 L105.7,182.4 L103.7,182.6 L101.8,182.8 L100.0,183.1 L98.2,183.4 L96.4,183.7 L94.6,184.1 L92.8,184.5 L91.1,184.9 L89.4,185.3 L87.6,185.8 L86.0,186.3 L84.3,186.8 L82.7,187.5 L81.1,188.3 L79.6,189.1 L78.1,190.0 L76.7,190.9 L75.4,192.0 L74.0,193.1 L72.8,194.2 L71.6,195.5 L70.5,196.8 L69.4,198.3 L68.4,200.1 L67.4,201.9 L66.6,203.7 L65.8,205.4 L65.2,207.0 L64.6,208.3 L64.2,209.2 Z" fill="#35281b"/><path d="M67.8,210.8 L68.2,209.8 L68.8,208.5 L69.4,207.0 L70.2,205.3 L70.9,203.6 L71.8,201.9 L72.7,200.4 L73.5,199.2 L74.5,198.1 L75.5,197.0 L76.6,196.0 L77.8,195.0 L79.0,194.1 L80.2,193.3 L81.6,192.5 L82.9,191.7 L84.3,191.1 L85.7,190.5 L87.2,190.0 L88.7,189.5 L90.3,189.1 L92.0,188.7 L93.7,188.3 L95.4,187.9 L97.1,187.6 L98.8,187.2 L100.6,186.9 L102.3,186.7 L104.1,186.5 L106.0,186.3 L108.0,186.1 L110.1,185.9 L112.5,185.9 L115.1,185.8 L118.0,185.8 L120.9,185.8 L123.7,185.9 L126.3,185.9 L128.4,185.9 L130.0,185.9 L130.0,187.0 L128.4,187.0 L126.2,187.0 L123.7,186.9 L120.9,186.9 L118.0,186.9 L115.1,186.9 L112.5,186.9 L110.2,187.0 L108.1,187.1 L106.1,187.3 L104.3,187.5 L102.5,187.7 L100.7,188.0 L99.0,188.3 L97.3,188.6 L95.6,188.9 L93.9,189.3 L92.2,189.7 L90.6,190.1 L89.0,190.5 L87.5,191.0 L86.1,191.5 L84.7,192.0 L83.4,192.7 L82.1,193.4 L80.8,194.1 L79.6,195.0 L78.4,195.9 L77.3,196.8 L76.3,197.8 L75.3,198.8 L74.4,199.8 L73.5,201.0 L72.7,202.4 L71.9,204.0 L71.1,205.7 L70.4,207.4 L69.7,208.9 L69.2,210.2 L68.7,211.2 Z" fill="#35281b"/></g>
<g filter="url(#b05)"><path d="M88.0,205.0 L88.5,204.4 L89.2,203.5 L90.0,202.5 L90.9,201.3 L91.8,200.1 L92.9,199.0 L93.9,197.9 L95.0,197.0 L96.1,196.2 L97.2,195.5 L98.4,194.8 L99.6,194.2 L100.9,193.6 L102.2,193.0 L103.6,192.5 L105.0,192.0 L106.6,191.5 L108.3,191.0 L110.2,190.6 L112.1,190.2 L113.9,189.8 L115.6,189.5 L117.0,189.2 L118.0,189.0" fill="none" stroke="#a48658" stroke-width="6.5" stroke-linecap="round" stroke-linejoin="round"/><path d="M85.5,202.9 L86.0,202.4 L86.6,201.5 L87.4,200.5 L88.3,199.3 L89.4,198.0 L90.5,196.8 L91.7,195.5 L93.0,194.4 L94.3,193.5 L95.5,192.7 L96.8,192.0 L98.2,191.3 L99.6,190.6 L101.0,190.0 L102.4,189.5 L104.0,188.9 L105.7,188.4 L107.6,187.9 L109.5,187.4 L111.5,187.0 L113.3,186.6 L115.0,186.3 L116.3,186.0 L117.3,185.8 L117.6,186.9 L116.6,187.1 L115.2,187.4 L113.5,187.7 L111.7,188.1 L109.8,188.5 L107.8,189.0 L106.0,189.5 L104.3,190.0 L102.8,190.5 L101.4,191.1 L100.0,191.7 L98.7,192.3 L97.4,193.0 L96.1,193.7 L94.9,194.5 L93.7,195.3 L92.5,196.4 L91.3,197.5 L90.2,198.8 L89.2,200.0 L88.3,201.2 L87.5,202.2 L86.9,203.1 L86.4,203.7 Z" fill="#35281b"/><path d="M89.6,206.3 L90.2,205.7 L90.9,204.8 L91.7,203.7 L92.5,202.6 L93.5,201.5 L94.4,200.4 L95.4,199.5 L96.3,198.7 L97.3,198.0 L98.3,197.3 L99.4,196.7 L100.6,196.1 L101.8,195.5 L103.0,195.0 L104.3,194.5 L105.7,194.0 L107.2,193.5 L108.9,193.1 L110.7,192.7 L112.6,192.3 L114.4,191.9 L116.0,191.6 L117.4,191.3 L118.4,191.1 L118.7,192.2 L117.6,192.4 L116.2,192.7 L114.6,193.0 L112.8,193.4 L110.9,193.8 L109.1,194.2 L107.5,194.6 L106.0,195.1 L104.7,195.6 L103.4,196.1 L102.2,196.6 L101.1,197.1 L99.9,197.7 L98.9,198.3 L97.9,198.9 L97.0,199.6 L96.1,200.3 L95.2,201.2 L94.3,202.2 L93.4,203.3 L92.6,204.4 L91.8,205.5 L91.1,206.4 L90.5,207.1 Z" fill="#35281b"/></g>
<g filter="url(#b05)"><path d="M118.0,184.0 L119.2,183.7 L120.8,183.3 L122.6,182.8 L124.6,182.3 L126.9,181.8 L129.4,181.3 L132.1,180.8 L135.0,180.5 L138.1,180.2 L141.5,180.1 L145.1,179.9 L148.9,179.8 L152.8,179.7 L156.8,179.6 L160.9,179.6 L165.0,179.5 L169.2,179.4 L173.6,179.4 L178.1,179.4 L182.6,179.4 L187.2,179.4 L191.6,179.4 L195.9,179.4 L200.0,179.5 L203.9,179.6 L207.8,179.6 L211.6,179.7 L215.3,179.8 L218.8,179.9 L222.1,180.0 L225.2,180.2 L228.0,180.5 L230.5,180.9 L232.7,181.3 L234.7,181.8 L236.5,182.3 L238.1,182.8 L239.5,183.4 L240.8,184.0 L242.0,184.5 L243.0,185.1 L243.8,185.7 L244.4,186.3 L244.9,187.0 L245.2,187.6 L245.5,188.2 L245.8,188.6 L246.0,189.0" fill="none" stroke="#8c7656" stroke-width="16" stroke-linecap="round" stroke-linejoin="round"/><path d="M116.2,176.2 L117.3,176.0 L118.7,175.6 L120.6,175.1 L122.8,174.5 L125.2,174.0 L128.0,173.4 L131.0,172.9 L134.2,172.5 L137.5,172.3 L141.1,172.1 L144.8,171.9 L148.7,171.8 L152.7,171.7 L156.7,171.6 L160.8,171.6 L164.9,171.5 L169.1,171.4 L173.5,171.4 L178.0,171.4 L182.6,171.4 L187.2,171.4 L191.7,171.4 L196.0,171.4 L200.1,171.5 L204.0,171.6 L207.9,171.6 L211.8,171.7 L215.5,171.8 L219.1,171.9 L222.6,172.0 L225.9,172.3 L228.9,172.6 L231.8,173.0 L234.4,173.5 L236.8,174.0 L238.9,174.7 L240.9,175.3 L242.6,176.0 L244.1,176.7 L245.6,177.4 L247.4,178.4 L249.2,179.8 L250.6,181.3 L251.6,182.6 L252.3,183.8 L252.6,184.5 L252.6,184.6 L252.6,184.5 L251.3,185.4 L251.3,185.4 L251.2,185.3 L250.9,184.6 L250.2,183.5 L249.3,182.3 L248.1,181.0 L246.6,179.7 L244.9,178.8 L243.4,178.1 L242.0,177.5 L240.3,176.8 L238.4,176.2 L236.4,175.6 L234.1,175.0 L231.5,174.5 L228.8,174.1 L225.7,173.8 L222.5,173.6 L219.1,173.5 L215.5,173.4 L211.7,173.3 L207.9,173.2 L204.0,173.2 L200.1,173.1 L196.0,173.0 L191.7,173.0 L187.2,173.0 L182.6,173.0 L178.0,173.0 L173.5,173.0 L169.1,173.0 L164.9,173.1 L160.8,173.2 L156.7,173.2 L152.7,173.3 L148.7,173.4 L144.8,173.5 L141.1,173.7 L137.7,173.9 L134.4,174.1 L131.2,174.5 L128.3,175.0 L125.6,175.5 L123.1,176.1 L121.0,176.6 L119.1,177.1 L117.7,177.5 L116.5,177.8 Z" fill="#35281b"/><path d="M119.5,190.2 L120.8,189.9 L122.4,189.5 L124.2,189.0 L126.1,188.5 L128.3,188.0 L130.6,187.6 L133.0,187.2 L135.6,186.9 L138.5,186.6 L141.8,186.4 L145.3,186.3 L149.0,186.2 L152.9,186.1 L156.9,186.0 L161.0,186.0 L165.1,185.9 L169.3,185.8 L173.6,185.8 L178.1,185.8 L182.6,185.8 L187.1,185.8 L191.6,185.8 L195.9,185.8 L199.9,185.9 L203.8,186.0 L207.7,186.0 L211.5,186.1 L215.1,186.1 L218.6,186.3 L221.8,186.4 L224.7,186.6 L227.2,186.9 L229.4,187.2 L231.4,187.5 L233.1,187.9 L234.6,188.4 L235.9,188.8 L237.1,189.3 L238.2,189.8 L239.1,190.2 L239.5,190.4 L239.5,190.4 L239.5,190.4 L239.5,190.5 L239.6,190.7 L239.8,191.1 L240.2,191.9 L240.7,192.6 L239.4,193.5 L238.9,192.7 L238.4,191.8 L238.2,191.4 L238.2,191.4 L238.2,191.4 L238.4,191.6 L238.6,191.7 L238.4,191.6 L237.6,191.3 L236.5,190.8 L235.3,190.3 L234.1,189.9 L232.7,189.5 L231.0,189.1 L229.2,188.7 L227.1,188.4 L224.6,188.2 L221.7,188.0 L218.5,187.9 L215.1,187.7 L211.5,187.7 L207.7,187.6 L203.8,187.6 L199.9,187.5 L195.8,187.4 L191.6,187.4 L187.1,187.4 L182.6,187.4 L178.1,187.4 L173.6,187.4 L169.3,187.4 L165.1,187.5 L161.0,187.6 L157.0,187.6 L153.0,187.7 L149.1,187.8 L145.4,187.9 L141.9,188.0 L138.6,188.2 L135.8,188.5 L133.2,188.8 L130.9,189.2 L128.6,189.6 L126.5,190.1 L124.6,190.6 L122.8,191.0 L121.2,191.5 L119.8,191.8 Z" fill="#35281b"/><path d="M116.5,177.8 L117.7,177.5 L119.1,177.1 L121.0,176.6 L123.1,176.1 L125.6,175.5 L128.3,175.0 L131.2,174.5 L134.4,174.1 L137.7,173.9 L141.1,173.7 L144.8,173.5 L148.7,173.4 L152.7,173.3 L156.7,173.2 L160.8,173.2 L164.9,173.1 L169.1,173.0 L173.5,173.0 L178.0,173.0 L182.6,173.0 L187.2,173.0 L191.7,173.0 L196.0,173.0 L200.1,173.1 L204.0,173.2 L207.9,173.2 L211.7,173.3 L215.5,173.4 L219.1,173.5 L222.5,173.6 L225.7,173.8 L228.8,174.1 L231.5,174.5 L234.1,175.0 L236.4,175.6 L238.4,176.2 L240.3,176.8 L242.0,177.5 L243.4,178.1 L244.9,178.8 L246.6,179.7 L248.1,181.0 L249.3,182.3 L250.2,183.5 L250.9,184.6 L251.2,185.3 L251.3,185.4 L251.3,185.4 L247.3,188.1 L247.1,187.8 L246.9,187.5 L246.6,186.9 L246.2,186.1 L245.6,185.3 L244.9,184.5 L243.9,183.7 L242.7,183.1 L241.5,182.5 L240.1,181.9 L238.6,181.3 L237.0,180.8 L235.1,180.2 L233.1,179.7 L230.7,179.3 L228.2,178.9 L225.3,178.6 L222.2,178.4 L218.9,178.3 L215.4,178.2 L211.7,178.1 L207.8,178.0 L204.0,178.0 L200.0,177.9 L195.9,177.8 L191.6,177.8 L187.2,177.8 L182.6,177.8 L178.1,177.8 L173.6,177.8 L169.2,177.8 L165.0,177.9 L160.9,178.0 L156.8,178.0 L152.8,178.1 L148.8,178.2 L145.0,178.3 L141.4,178.5 L138.0,178.7 L134.8,178.9 L131.9,179.3 L129.2,179.7 L126.6,180.2 L124.3,180.8 L122.2,181.3 L120.3,181.8 L118.8,182.2 L117.6,182.4 Z" fill="#917a58"/><path d="M117.6,182.4 L118.8,182.2 L120.3,181.8 L122.2,181.3 L124.3,180.8 L126.6,180.2 L129.2,179.7 L131.9,179.3 L134.8,178.9 L138.0,178.7 L141.4,178.5 L145.0,178.3 L148.8,178.2 L152.8,178.1 L156.8,178.0 L160.9,178.0 L165.0,177.9 L169.2,177.8 L173.6,177.8 L178.1,177.8 L182.6,177.8 L187.2,177.8 L191.6,177.8 L195.9,177.8 L200.0,177.9 L204.0,178.0 L207.8,178.0 L211.7,178.1 L215.4,178.2 L218.9,178.3 L222.2,178.4 L225.3,178.6 L228.2,178.9 L230.7,179.3 L233.1,179.7 L235.1,180.2 L237.0,180.8 L238.6,181.3 L240.1,181.9 L241.5,182.5 L242.7,183.1 L243.9,183.7 L244.9,184.5 L245.6,185.3 L246.2,186.1 L246.6,186.9 L246.9,187.5 L247.1,187.8 L247.3,188.1 L245.3,189.5 L245.1,189.1 L244.8,188.5 L244.5,188.0 L244.2,187.4 L243.8,186.9 L243.3,186.3 L242.6,185.7 L241.6,185.2 L240.5,184.7 L239.2,184.1 L237.8,183.6 L236.3,183.0 L234.5,182.5 L232.6,182.1 L230.4,181.6 L227.9,181.3 L225.2,181.0 L222.1,180.8 L218.8,180.7 L215.3,180.5 L211.6,180.5 L207.8,180.4 L203.9,180.4 L200.0,180.3 L195.9,180.2 L191.6,180.2 L187.2,180.2 L182.6,180.2 L178.1,180.2 L173.6,180.2 L169.2,180.2 L165.0,180.3 L160.9,180.4 L156.9,180.4 L152.8,180.5 L148.9,180.6 L145.1,180.7 L141.5,180.8 L138.1,181.0 L135.1,181.3 L132.2,181.6 L129.6,182.1 L127.1,182.6 L124.8,183.1 L122.8,183.6 L121.0,184.1 L119.4,184.5 L118.2,184.8 Z" fill="#7a6e60"/><path d="M118.2,184.8 L119.4,184.5 L121.0,184.1 L122.8,183.6 L124.8,183.1 L127.1,182.6 L129.6,182.1 L132.2,181.6 L135.1,181.3 L138.1,181.0 L141.5,180.8 L145.1,180.7 L148.9,180.6 L152.8,180.5 L156.9,180.4 L160.9,180.4 L165.0,180.3 L169.2,180.2 L173.6,180.2 L178.1,180.2 L182.6,180.2 L187.2,180.2 L191.6,180.2 L195.9,180.2 L200.0,180.3 L203.9,180.4 L207.8,180.4 L211.6,180.5 L215.3,180.5 L218.8,180.7 L222.1,180.8 L225.2,181.0 L227.9,181.3 L230.4,181.6 L232.6,182.1 L234.5,182.5 L236.3,183.0 L237.8,183.6 L239.2,184.1 L240.5,184.7 L241.6,185.2 L242.6,185.7 L243.3,186.3 L243.8,186.9 L244.2,187.4 L244.5,188.0 L244.8,188.5 L245.1,189.1 L245.3,189.5 L240.7,192.6 L240.2,191.9 L239.8,191.1 L239.6,190.7 L239.5,190.5 L239.5,190.4 L239.5,190.4 L239.5,190.4 L239.1,190.2 L238.2,189.8 L237.1,189.3 L235.9,188.8 L234.6,188.4 L233.1,187.9 L231.4,187.5 L229.4,187.2 L227.2,186.9 L224.7,186.6 L221.8,186.4 L218.6,186.3 L215.1,186.1 L211.5,186.1 L207.7,186.0 L203.8,186.0 L199.9,185.9 L195.9,185.8 L191.6,185.8 L187.1,185.8 L182.6,185.8 L178.1,185.8 L173.6,185.8 L169.3,185.8 L165.1,185.9 L161.0,186.0 L156.9,186.0 L152.9,186.1 L149.0,186.2 L145.3,186.3 L141.8,186.4 L138.5,186.6 L135.6,186.9 L133.0,187.2 L130.6,187.6 L128.3,188.0 L126.1,188.5 L124.2,189.0 L122.4,189.5 L120.8,189.9 L119.5,190.2 Z" fill="#a08a66"/><path d="M116.4,177.4 L117.6,177.1 L119.0,176.7 L120.9,176.2 L123.0,175.7 L125.5,175.1 L128.2,174.6 L131.2,174.1 L134.3,173.7 L137.6,173.5 L141.1,173.3 L144.8,173.1 L148.7,173.0 L152.7,172.9 L156.7,172.8 L160.8,172.8 L164.9,172.7 L169.1,172.6 L173.5,172.6 L178.0,172.6 L182.6,172.6 L187.2,172.6 L191.7,172.6 L196.0,172.6 L200.1,172.7 L204.0,172.8 L207.9,172.8 L211.8,172.9 L215.5,173.0 L219.1,173.1 L222.5,173.2 L225.8,173.4 L228.8,173.7 L231.6,174.1 L234.1,174.6 L236.5,175.2 L238.6,175.8 L240.4,176.4 L242.1,177.1 L243.6,177.7 L245.1,178.4 L246.8,179.4 L248.4,180.7 L249.7,182.0 L250.6,183.3 L251.2,184.4 L251.6,185.1 L251.6,185.2 L251.6,185.2 L240.4,192.8 L239.9,192.1 L239.5,191.3 L239.3,190.9 L239.2,190.7 L239.2,190.7 L239.2,190.7 L239.2,190.7 L238.9,190.6 L238.0,190.2 L236.9,189.7 L235.8,189.2 L234.4,188.8 L233.0,188.3 L231.3,187.9 L229.4,187.6 L227.2,187.3 L224.7,187.0 L221.8,186.8 L218.6,186.7 L215.1,186.5 L211.5,186.5 L207.7,186.4 L203.8,186.4 L199.9,186.3 L195.8,186.2 L191.6,186.2 L187.1,186.2 L182.6,186.2 L178.1,186.2 L173.6,186.2 L169.3,186.2 L165.1,186.3 L161.0,186.4 L157.0,186.4 L152.9,186.5 L149.1,186.6 L145.3,186.7 L141.8,186.8 L138.6,187.0 L135.7,187.3 L133.1,187.6 L130.6,188.0 L128.4,188.4 L126.2,188.9 L124.3,189.4 L122.5,189.9 L120.9,190.3 L119.6,190.6 Z" fill="url(#scales)" opacity="0.55"/></g>
<g filter="url(#b05)"><path d="M46.0,231.0 L47.0,231.2 L48.4,231.6 L50.0,232.0 L51.8,232.4 L53.7,232.9 L55.8,233.3 L57.9,233.7 L60.0,234.0 L62.2,234.2 L64.6,234.4 L67.1,234.6 L69.6,234.7 L72.2,234.8 L74.9,234.9 L77.5,234.9 L80.0,235.0 L82.4,235.1 L84.8,235.1 L87.1,235.1 L89.4,235.1 L91.8,235.1 L94.3,235.2 L97.0,235.2 L100.0,235.2 L103.2,235.2 L106.6,235.3 L110.1,235.4 L113.8,235.4 L117.6,235.5 L121.6,235.5 L125.7,235.6 L130.0,235.6 L134.6,235.6 L139.4,235.6 L144.5,235.6 L149.7,235.6 L154.9,235.6 L160.1,235.6 L165.2,235.5 L170.0,235.5 L174.7,235.5 L179.5,235.4 L184.2,235.4 L188.8,235.3 L193.3,235.3 L197.5,235.2 L201.4,235.1 L205.0,235.0 L208.2,234.9 L211.1,234.8 L213.8,234.7 L216.2,234.6 L218.4,234.4 L220.4,234.2 L222.3,233.9 L224.0,233.6 L225.6,233.1 L227.0,232.6 L228.2,231.9 L229.2,231.2 L230.1,230.5 L230.8,229.9 L231.5,229.4 L232.0,229.0" fill="none" stroke="#8c7656" stroke-width="12" stroke-linecap="round" stroke-linejoin="round"/><path d="M47.4,225.2 L48.5,225.4 L49.9,225.8 L51.4,226.2 L53.2,226.6 L55.0,227.0 L56.9,227.4 L58.8,227.8 L60.7,228.0 L62.7,228.3 L65.0,228.4 L67.4,228.6 L69.9,228.7 L72.4,228.8 L75.0,228.9 L77.6,228.9 L80.2,229.0 L82.6,229.1 L84.8,229.1 L87.1,229.1 L89.4,229.1 L91.8,229.1 L94.3,229.2 L97.1,229.2 L100.1,229.2 L103.3,229.2 L106.7,229.3 L110.2,229.4 L113.8,229.4 L117.7,229.5 L121.6,229.5 L125.8,229.6 L130.0,229.6 L134.6,229.6 L139.4,229.6 L144.5,229.6 L149.7,229.6 L154.9,229.6 L160.1,229.6 L165.1,229.5 L170.0,229.5 L174.7,229.5 L179.4,229.4 L184.1,229.4 L188.7,229.3 L193.2,229.3 L197.4,229.2 L201.3,229.1 L204.8,229.0 L208.0,228.9 L210.9,228.8 L213.5,228.7 L215.8,228.6 L217.9,228.4 L219.7,228.2 L221.3,228.0 L222.6,227.8 L223.6,227.5 L224.4,227.2 L225.0,226.8 L225.7,226.3 L226.3,225.9 L227.0,225.3 L227.8,224.6 L228.6,224.1 L229.3,225.1 L228.5,225.6 L227.8,226.2 L227.1,226.8 L226.4,227.3 L225.7,227.8 L224.9,228.2 L224.0,228.6 L222.9,228.9 L221.5,229.2 L219.8,229.4 L218.0,229.6 L215.9,229.8 L213.6,229.9 L211.0,230.0 L208.1,230.1 L204.8,230.2 L201.3,230.3 L197.4,230.4 L193.2,230.5 L188.8,230.5 L184.1,230.6 L179.4,230.6 L174.7,230.7 L170.0,230.7 L165.1,230.7 L160.1,230.8 L154.9,230.8 L149.7,230.8 L144.5,230.8 L139.4,230.8 L134.6,230.8 L130.0,230.8 L125.7,230.8 L121.6,230.7 L117.6,230.7 L113.8,230.6 L110.2,230.6 L106.6,230.5 L103.3,230.4 L100.1,230.4 L97.1,230.4 L94.3,230.4 L91.8,230.3 L89.4,230.3 L87.1,230.3 L84.8,230.3 L82.5,230.3 L80.1,230.2 L77.6,230.1 L75.0,230.1 L72.4,230.0 L69.8,229.9 L67.3,229.8 L64.9,229.6 L62.6,229.4 L60.6,229.2 L58.6,229.0 L56.7,228.6 L54.7,228.2 L52.9,227.8 L51.1,227.3 L49.6,226.9 L48.2,226.6 L47.1,226.3 Z" fill="#35281b"/><path d="M44.9,235.7 L45.9,235.9 L47.2,236.2 L48.8,236.6 L50.6,237.1 L52.7,237.6 L54.8,238.0 L57.1,238.4 L59.4,238.8 L61.8,239.0 L64.3,239.2 L66.8,239.4 L69.4,239.5 L72.1,239.6 L74.7,239.7 L77.3,239.7 L79.9,239.8 L82.3,239.9 L84.7,239.9 L87.0,239.9 L89.4,239.9 L91.8,239.9 L94.3,240.0 L97.0,240.0 L99.9,240.0 L103.1,240.0 L106.5,240.1 L110.0,240.2 L113.7,240.2 L117.5,240.3 L121.5,240.3 L125.7,240.4 L130.0,240.4 L134.5,240.4 L139.4,240.4 L144.5,240.4 L149.7,240.4 L154.9,240.4 L160.1,240.4 L165.2,240.3 L170.0,240.3 L174.8,240.3 L179.5,240.2 L184.2,240.2 L188.9,240.1 L193.3,240.1 L197.6,240.0 L201.6,239.9 L205.2,239.8 L208.4,239.7 L211.3,239.6 L214.0,239.5 L216.5,239.3 L218.8,239.2 L221.0,239.0 L223.0,238.7 L225.1,238.3 L227.2,237.7 L229.0,236.9 L230.7,236.0 L232.0,235.1 L233.1,234.3 L233.9,233.6 L234.4,233.2 L234.7,232.9 L235.4,233.9 L235.1,234.1 L234.7,234.5 L233.8,235.2 L232.7,236.1 L231.3,237.0 L229.6,238.0 L227.6,238.8 L225.4,239.4 L223.2,239.9 L221.1,240.2 L218.9,240.4 L216.6,240.5 L214.1,240.7 L211.4,240.8 L208.4,240.9 L205.2,241.0 L201.6,241.1 L197.6,241.2 L193.4,241.3 L188.9,241.3 L184.3,241.4 L179.5,241.4 L174.8,241.5 L170.0,241.5 L165.2,241.5 L160.1,241.6 L155.0,241.6 L149.7,241.6 L144.5,241.6 L139.4,241.6 L134.5,241.6 L130.0,241.6 L125.7,241.6 L121.5,241.5 L117.5,241.5 L113.7,241.4 L110.0,241.4 L106.5,241.3 L103.1,241.2 L99.9,241.2 L97.0,241.2 L94.3,241.2 L91.7,241.1 L89.3,241.1 L87.0,241.1 L84.7,241.1 L82.3,241.1 L79.8,241.0 L77.3,240.9 L74.7,240.9 L72.0,240.8 L69.4,240.7 L66.7,240.5 L64.2,240.4 L61.7,240.2 L59.3,240.0 L56.9,239.6 L54.6,239.2 L52.4,238.7 L50.3,238.3 L48.5,237.8 L46.9,237.4 L45.6,237.1 L44.6,236.8 Z" fill="#35281b"/><path d="M47.1,226.3 L48.2,226.6 L49.6,226.9 L51.1,227.3 L52.9,227.8 L54.7,228.2 L56.7,228.6 L58.6,229.0 L60.6,229.2 L62.6,229.4 L64.9,229.6 L67.3,229.8 L69.8,229.9 L72.4,230.0 L75.0,230.1 L77.6,230.1 L80.1,230.2 L82.5,230.3 L84.8,230.3 L87.1,230.3 L89.4,230.3 L91.8,230.3 L94.3,230.4 L97.1,230.4 L100.1,230.4 L103.3,230.4 L106.6,230.5 L110.2,230.6 L113.8,230.6 L117.6,230.7 L121.6,230.7 L125.7,230.8 L130.0,230.8 L134.6,230.8 L139.4,230.8 L144.5,230.8 L149.7,230.8 L154.9,230.8 L160.1,230.8 L165.1,230.7 L170.0,230.7 L174.7,230.7 L179.4,230.6 L184.1,230.6 L188.8,230.5 L193.2,230.5 L197.4,230.4 L201.3,230.3 L204.8,230.2 L208.1,230.1 L211.0,230.0 L213.6,229.9 L215.9,229.8 L218.0,229.6 L219.8,229.4 L221.5,229.2 L222.9,228.9 L224.0,228.6 L224.9,228.2 L225.7,227.8 L226.4,227.3 L227.1,226.8 L227.8,226.2 L228.5,225.6 L229.3,225.1 L231.7,228.5 L231.1,228.9 L230.4,229.4 L229.7,230.1 L228.8,230.7 L227.8,231.4 L226.7,232.0 L225.4,232.6 L223.9,233.0 L222.2,233.3 L220.3,233.6 L218.3,233.8 L216.2,234.0 L213.8,234.1 L211.1,234.2 L208.2,234.3 L205.0,234.4 L201.4,234.5 L197.5,234.6 L193.3,234.7 L188.8,234.7 L184.2,234.8 L179.5,234.8 L174.7,234.9 L170.0,234.9 L165.2,234.9 L160.1,235.0 L154.9,235.0 L149.7,235.0 L144.5,235.0 L139.4,235.0 L134.6,235.0 L130.0,235.0 L125.7,235.0 L121.6,234.9 L117.6,234.9 L113.8,234.8 L110.1,234.8 L106.6,234.7 L103.2,234.6 L100.0,234.6 L97.0,234.6 L94.3,234.6 L91.8,234.5 L89.4,234.5 L87.1,234.5 L84.8,234.5 L82.4,234.5 L80.0,234.4 L77.5,234.3 L74.9,234.3 L72.3,234.2 L69.6,234.1 L67.1,234.0 L64.6,233.8 L62.3,233.6 L60.1,233.4 L58.0,233.1 L55.9,232.7 L53.8,232.3 L51.9,231.9 L50.1,231.4 L48.5,231.0 L47.2,230.7 L46.1,230.4 Z" fill="#98805a"/><path d="M46.1,230.4 L47.2,230.7 L48.5,231.0 L50.1,231.4 L51.9,231.9 L53.8,232.3 L55.9,232.7 L58.0,233.1 L60.1,233.4 L62.3,233.6 L64.6,233.8 L67.1,234.0 L69.6,234.1 L72.3,234.2 L74.9,234.3 L77.5,234.3 L80.0,234.4 L82.4,234.5 L84.8,234.5 L87.1,234.5 L89.4,234.5 L91.8,234.5 L94.3,234.6 L97.0,234.6 L100.0,234.6 L103.2,234.6 L106.6,234.7 L110.1,234.8 L113.8,234.8 L117.6,234.9 L121.6,234.9 L125.7,235.0 L130.0,235.0 L134.6,235.0 L139.4,235.0 L144.5,235.0 L149.7,235.0 L154.9,235.0 L160.1,235.0 L165.2,234.9 L170.0,234.9 L174.7,234.9 L179.5,234.8 L184.2,234.8 L188.8,234.7 L193.3,234.7 L197.5,234.6 L201.4,234.5 L205.0,234.4 L208.2,234.3 L211.1,234.2 L213.8,234.1 L216.2,234.0 L218.3,233.8 L220.3,233.6 L222.2,233.3 L223.9,233.0 L225.4,232.6 L226.7,232.0 L227.8,231.4 L228.8,230.7 L229.7,230.1 L230.4,229.4 L231.1,228.9 L231.7,228.5 L232.5,229.7 L232.0,230.1 L231.4,230.6 L230.6,231.2 L229.7,231.9 L228.6,232.7 L227.4,233.4 L225.9,234.0 L224.2,234.5 L222.4,234.8 L220.5,235.1 L218.5,235.3 L216.2,235.5 L213.8,235.6 L211.2,235.7 L208.2,235.8 L205.0,235.9 L201.4,236.0 L197.5,236.1 L193.3,236.2 L188.8,236.2 L184.2,236.3 L179.5,236.3 L174.7,236.4 L170.0,236.4 L165.2,236.4 L160.1,236.5 L154.9,236.5 L149.7,236.5 L144.5,236.5 L139.4,236.5 L134.6,236.5 L130.0,236.5 L125.7,236.5 L121.6,236.4 L117.6,236.4 L113.7,236.3 L110.1,236.3 L106.5,236.2 L103.2,236.1 L100.0,236.1 L97.0,236.1 L94.3,236.1 L91.8,236.0 L89.4,236.0 L87.1,236.0 L84.8,236.0 L82.4,236.0 L80.0,235.9 L77.4,235.8 L74.8,235.8 L72.2,235.7 L69.6,235.6 L67.0,235.5 L64.5,235.3 L62.1,235.1 L59.9,234.9 L57.7,234.6 L55.6,234.2 L53.5,233.8 L51.5,233.3 L49.7,232.9 L48.2,232.5 L46.8,232.1 L45.8,231.9 Z" fill="#5e4c36"/><path d="M45.8,231.9 L46.8,232.1 L48.2,232.5 L49.7,232.9 L51.5,233.3 L53.5,233.8 L55.6,234.2 L57.7,234.6 L59.9,234.9 L62.1,235.1 L64.5,235.3 L67.0,235.5 L69.6,235.6 L72.2,235.7 L74.8,235.8 L77.4,235.8 L80.0,235.9 L82.4,236.0 L84.8,236.0 L87.1,236.0 L89.4,236.0 L91.8,236.0 L94.3,236.1 L97.0,236.1 L100.0,236.1 L103.2,236.1 L106.5,236.2 L110.1,236.3 L113.7,236.3 L117.6,236.4 L121.6,236.4 L125.7,236.5 L130.0,236.5 L134.6,236.5 L139.4,236.5 L144.5,236.5 L149.7,236.5 L154.9,236.5 L160.1,236.5 L165.2,236.4 L170.0,236.4 L174.7,236.4 L179.5,236.3 L184.2,236.3 L188.8,236.2 L193.3,236.2 L197.5,236.1 L201.4,236.0 L205.0,235.9 L208.2,235.8 L211.2,235.7 L213.8,235.6 L216.2,235.5 L218.5,235.3 L220.5,235.1 L222.4,234.8 L224.2,234.5 L225.9,234.0 L227.4,233.4 L228.6,232.7 L229.7,231.9 L230.6,231.2 L231.4,230.6 L232.0,230.1 L232.5,229.7 L234.7,232.9 L234.4,233.2 L233.9,233.6 L233.1,234.3 L232.0,235.1 L230.7,236.0 L229.0,236.9 L227.2,237.7 L225.1,238.3 L223.0,238.7 L221.0,239.0 L218.8,239.2 L216.5,239.3 L214.0,239.5 L211.3,239.6 L208.4,239.7 L205.2,239.8 L201.6,239.9 L197.6,240.0 L193.3,240.1 L188.9,240.1 L184.2,240.2 L179.5,240.2 L174.8,240.3 L170.0,240.3 L165.2,240.3 L160.1,240.4 L154.9,240.4 L149.7,240.4 L144.5,240.4 L139.4,240.4 L134.5,240.4 L130.0,240.4 L125.7,240.4 L121.5,240.3 L117.5,240.3 L113.7,240.2 L110.0,240.2 L106.5,240.1 L103.1,240.0 L99.9,240.0 L97.0,240.0 L94.3,240.0 L91.8,239.9 L89.4,239.9 L87.0,239.9 L84.7,239.9 L82.3,239.9 L79.9,239.8 L77.3,239.7 L74.7,239.7 L72.1,239.6 L69.4,239.5 L66.8,239.4 L64.3,239.2 L61.8,239.0 L59.4,238.8 L57.1,238.4 L54.8,238.0 L52.7,237.6 L50.6,237.1 L48.8,236.6 L47.2,236.2 L45.9,235.9 L44.9,235.7 Z" fill="#a48e6a"/><path d="M47.2,226.0 L48.3,226.3 L49.6,226.6 L51.2,227.0 L52.9,227.5 L54.8,227.9 L56.7,228.3 L58.7,228.7 L60.6,228.9 L62.7,229.1 L64.9,229.3 L67.3,229.5 L69.8,229.6 L72.4,229.7 L75.0,229.8 L77.6,229.8 L80.1,229.9 L82.5,230.0 L84.8,230.0 L87.1,230.0 L89.4,230.0 L91.8,230.0 L94.3,230.1 L97.1,230.1 L100.1,230.1 L103.3,230.1 L106.6,230.2 L110.2,230.3 L113.8,230.3 L117.7,230.4 L121.6,230.4 L125.7,230.5 L130.0,230.5 L134.6,230.5 L139.4,230.5 L144.5,230.5 L149.7,230.5 L154.9,230.5 L160.1,230.5 L165.1,230.4 L170.0,230.4 L174.7,230.4 L179.4,230.3 L184.1,230.3 L188.8,230.2 L193.2,230.2 L197.4,230.1 L201.3,230.0 L204.8,229.9 L208.0,229.8 L210.9,229.7 L213.5,229.6 L215.9,229.5 L217.9,229.3 L219.8,229.1 L221.4,228.9 L222.8,228.6 L223.9,228.3 L224.7,228.0 L225.5,227.6 L226.2,227.1 L226.9,226.6 L227.6,226.0 L228.4,225.3 L229.1,224.8 L234.9,233.2 L234.6,233.4 L234.1,233.8 L233.3,234.5 L232.2,235.3 L230.8,236.3 L229.2,237.2 L227.3,238.0 L225.2,238.6 L223.1,239.0 L221.0,239.3 L218.8,239.5 L216.5,239.6 L214.0,239.8 L211.3,239.9 L208.4,240.0 L205.2,240.1 L201.6,240.2 L197.6,240.3 L193.3,240.4 L188.9,240.4 L184.2,240.5 L179.5,240.5 L174.8,240.6 L170.0,240.6 L165.2,240.6 L160.1,240.7 L154.9,240.7 L149.7,240.7 L144.5,240.7 L139.4,240.7 L134.5,240.7 L130.0,240.7 L125.7,240.7 L121.5,240.6 L117.5,240.6 L113.7,240.5 L110.0,240.5 L106.5,240.4 L103.1,240.3 L99.9,240.3 L97.0,240.3 L94.3,240.3 L91.7,240.2 L89.4,240.2 L87.0,240.2 L84.7,240.2 L82.3,240.2 L79.9,240.1 L77.3,240.0 L74.7,240.0 L72.1,239.9 L69.4,239.8 L66.8,239.6 L64.2,239.5 L61.8,239.3 L59.4,239.1 L57.1,238.7 L54.8,238.3 L52.6,237.9 L50.6,237.4 L48.7,236.9 L47.1,236.5 L45.8,236.2 L44.8,236.0 Z" fill="url(#scales)" opacity="0.55"/></g>
<g filter="url(#b05)"><path d="M146.0,211.3 L147.1,211.3 L148.4,211.2 L150.0,211.1 L151.7,211.1 L153.6,211.0 L155.7,210.9 L157.9,210.9 L160.2,210.8 L162.6,210.7 L165.0,210.7 L167.6,210.7 L170.5,210.6 L173.5,210.6 L176.7,210.6 L180.0,210.6 L183.3,210.6 L186.5,210.6 L189.5,210.6 L192.4,210.7 L195.0,210.7 L197.4,210.7 L199.6,210.8 L201.8,210.8 L203.8,210.8 L205.8,210.9 L207.6,210.9 L209.3,211.0 L211.0,211.2 L212.5,211.3 L214.0,211.5 L215.4,211.7 L216.7,212.0 L217.9,212.3 L219.0,212.7 L220.1,213.1 L221.0,213.4 L221.9,213.8 L222.7,214.2 L223.4,214.6 L224.0,215.0 L224.6,215.4 L225.0,215.8 L225.4,216.2 L225.7,216.6 L225.9,217.0 L226.0,217.4 L226.1,217.8 L226.1,218.2 L226.1,218.6 L226.0,219.0 L225.9,219.4 L225.7,219.8 L225.5,220.2 L225.2,220.5 L224.9,220.9 L224.5,221.3 L224.0,221.6 L223.4,222.0 L222.8,222.2 L222.0,222.5 L221.2,222.7 L220.2,222.9 L219.2,223.1 L218.2,223.2 L217.0,223.3 L215.8,223.4 L214.4,223.5 L213.0,223.5 L211.6,223.6 L210.0,223.7 L208.4,223.8 L206.7,223.9 L204.9,223.9 L203.1,224.0 L201.1,224.0 L199.1,224.1 L197.0,224.1 L194.8,224.2 L192.4,224.2 L190.0,224.2 L187.4,224.2 L184.6,224.2 L181.6,224.2 L178.5,224.2 L175.3,224.2 L172.1,224.2 L168.9,224.2 L165.8,224.1 L162.8,224.1 L160.0,224.0 L157.3,223.9 L154.6,223.8 L152.0,223.7 L149.4,223.6 L146.9,223.5 L144.4,223.4 L142.0,223.3 L139.6,223.1 L137.3,223.0 L135.0,222.8 L132.8,222.6 L130.6,222.4 L128.5,222.2 L126.4,222.0 L124.4,221.8 L122.4,221.6 L120.5,221.3 L118.6,221.1 L116.8,220.8 L115.0,220.5 L113.2,220.2 L111.4,219.7 L109.7,219.3 L107.9,218.8 L106.2,218.4 L104.7,217.9 L103.2,217.5 L102.0,217.1 L100.9,216.7 L100.0,216.5" fill="none" stroke="#8c7656" stroke-width="12" stroke-linecap="round" stroke-linejoin="round"/><path d="M145.8,205.3 L146.9,205.3 L148.2,205.2 L149.7,205.2 L151.5,205.1 L153.4,205.0 L155.5,204.9 L157.7,204.9 L160.0,204.8 L162.5,204.7 L164.9,204.7 L167.5,204.7 L170.4,204.6 L173.5,204.6 L176.7,204.6 L180.0,204.6 L183.3,204.6 L186.5,204.6 L189.6,204.6 L192.5,204.7 L195.1,204.7 L197.5,204.7 L199.7,204.8 L201.9,204.8 L204.0,204.8 L205.9,204.9 L207.8,205.0 L209.7,205.0 L211.5,205.2 L213.2,205.3 L214.9,205.6 L216.5,205.8 L218.1,206.2 L219.6,206.6 L220.9,207.0 L222.2,207.4 L223.4,207.9 L224.5,208.4 L225.5,208.9 L226.4,209.4 L227.2,210.0 L228.2,210.6 L229.2,211.5 L230.0,212.4 L230.8,213.5 L231.4,214.6 L231.8,215.9 L232.1,217.1 L232.1,218.3 L232.0,219.5 L231.8,220.5 L231.5,221.5 L231.1,222.4 L230.6,223.4 L229.9,224.3 L229.1,225.2 L228.2,226.0 L227.2,226.7 L226.1,227.3 L224.9,227.8 L223.7,228.3 L222.5,228.6 L221.3,228.8 L220.0,229.0 L218.8,229.1 L217.5,229.3 L216.2,229.4 L214.8,229.5 L213.4,229.5 L211.9,229.6 L210.3,229.7 L208.6,229.8 L206.9,229.9 L205.1,229.9 L203.2,230.0 L201.3,230.0 L199.2,230.1 L197.1,230.1 L194.8,230.2 L192.5,230.2 L190.0,230.2 L187.4,230.2 L184.6,230.2 L181.6,230.2 L178.5,230.2 L175.3,230.2 L172.1,230.2 L168.9,230.2 L165.7,230.1 L162.7,230.1 L159.9,230.0 L157.1,229.9 L154.4,229.8 L151.7,229.7 L149.1,229.6 L146.6,229.5 L144.1,229.4 L141.6,229.3 L139.2,229.1 L136.9,229.0 L134.5,228.8 L132.3,228.6 L130.1,228.4 L127.9,228.2 L125.8,228.0 L123.7,227.8 L121.7,227.6 L119.7,227.3 L117.7,227.0 L115.8,226.7 L113.9,226.4 L112.0,226.0 L110.0,225.6 L108.2,225.1 L106.3,224.6 L104.6,224.1 L103.0,223.6 L101.5,223.2 L100.2,222.8 L99.2,222.5 L98.4,222.3 L98.7,221.1 L99.5,221.4 L100.6,221.7 L101.9,222.1 L103.3,222.5 L104.9,223.0 L106.6,223.5 L108.5,223.9 L110.3,224.4 L112.2,224.8 L114.1,225.2 L116.0,225.5 L117.9,225.8 L119.8,226.1 L121.8,226.4 L123.8,226.6 L125.9,226.8 L128.0,227.0 L130.2,227.2 L132.4,227.4 L134.6,227.6 L136.9,227.8 L139.3,227.9 L141.7,228.1 L144.1,228.2 L146.6,228.3 L149.2,228.4 L151.8,228.5 L154.4,228.6 L157.1,228.7 L159.9,228.8 L162.7,228.9 L165.8,228.9 L168.9,229.0 L172.1,229.0 L175.3,229.0 L178.5,229.0 L181.6,229.0 L184.6,229.0 L187.4,229.0 L190.0,229.0 L192.5,229.0 L194.8,229.0 L197.1,228.9 L199.2,228.9 L201.2,228.8 L203.2,228.8 L205.1,228.7 L206.9,228.7 L208.6,228.6 L210.2,228.5 L211.8,228.4 L213.3,228.3 L214.7,228.3 L216.1,228.2 L217.4,228.1 L218.7,228.0 L219.9,227.8 L221.1,227.6 L222.2,227.4 L223.4,227.1 L224.5,226.7 L225.5,226.3 L226.5,225.7 L227.4,225.1 L228.2,224.3 L229.0,223.6 L229.5,222.7 L230.0,221.9 L230.4,221.1 L230.6,220.2 L230.8,219.3 L230.9,218.3 L230.9,217.3 L230.7,216.2 L230.3,215.1 L229.8,214.1 L229.1,213.2 L228.3,212.3 L227.5,211.6 L226.6,211.0 L225.8,210.5 L224.9,210.0 L223.9,209.5 L222.9,209.0 L221.8,208.6 L220.5,208.1 L219.2,207.7 L217.8,207.3 L216.3,207.0 L214.7,206.8 L213.1,206.5 L211.4,206.4 L209.6,206.2 L207.8,206.2 L205.9,206.1 L203.9,206.0 L201.9,206.0 L199.7,206.0 L197.5,205.9 L195.1,205.9 L192.4,205.9 L189.6,205.8 L186.5,205.8 L183.3,205.8 L180.0,205.8 L176.7,205.8 L173.5,205.8 L170.4,205.8 L167.6,205.9 L164.9,205.9 L162.5,205.9 L160.1,206.0 L157.7,206.1 L155.5,206.1 L153.4,206.2 L151.5,206.3 L149.8,206.3 L148.2,206.4 L146.9,206.5 L145.8,206.5 Z" fill="#35281b"/><path d="M146.2,216.1 L147.3,216.1 L148.6,216.0 L150.2,215.9 L151.9,215.9 L153.8,215.8 L155.9,215.7 L158.0,215.7 L160.3,215.6 L162.7,215.5 L165.1,215.5 L167.6,215.5 L170.5,215.4 L173.6,215.4 L176.7,215.4 L180.0,215.4 L183.3,215.4 L186.4,215.4 L189.5,215.4 L192.3,215.5 L194.9,215.5 L197.3,215.5 L199.6,215.6 L201.7,215.6 L203.7,215.6 L205.6,215.7 L207.4,215.7 L209.0,215.8 L210.5,215.9 L212.0,216.1 L213.3,216.2 L214.5,216.5 L215.6,216.7 L216.6,217.0 L217.5,217.2 L218.4,217.5 L219.1,217.8 L219.8,218.2 L220.4,218.5 L221.0,218.8 L221.4,219.0 L221.6,219.2 L221.7,219.2 L221.6,219.2 L221.6,219.1 L221.5,218.9 L221.4,218.6 L221.3,218.4 L221.3,218.1 L221.3,217.9 L221.4,217.8 L221.4,217.7 L221.4,217.6 L221.4,217.6 L221.5,217.5 L221.5,217.5 L221.5,217.5 L221.4,217.6 L221.3,217.7 L221.0,217.8 L220.6,217.9 L220.1,218.0 L219.4,218.2 L218.6,218.3 L217.7,218.4 L216.6,218.5 L215.4,218.6 L214.2,218.7 L212.8,218.7 L211.3,218.8 L209.8,218.9 L208.1,219.0 L206.5,219.1 L204.7,219.1 L202.9,219.2 L201.0,219.2 L199.0,219.3 L196.9,219.3 L194.7,219.4 L192.4,219.4 L190.0,219.4 L187.4,219.4 L184.6,219.4 L181.6,219.4 L178.5,219.4 L175.3,219.4 L172.2,219.4 L169.0,219.4 L165.9,219.3 L162.9,219.3 L160.1,219.2 L157.4,219.1 L154.8,219.0 L152.2,219.0 L149.6,218.8 L147.1,218.7 L144.7,218.6 L142.3,218.5 L139.9,218.3 L137.6,218.2 L135.4,218.0 L133.2,217.8 L131.0,217.7 L128.9,217.5 L126.9,217.3 L124.9,217.1 L123.0,216.8 L121.1,216.6 L119.3,216.3 L117.5,216.1 L115.9,215.8 L114.2,215.5 L112.6,215.1 L110.9,214.7 L109.2,214.2 L107.6,213.7 L106.1,213.3 L104.6,212.9 L103.3,212.5 L102.2,212.1 L101.3,211.9 L101.6,210.7 L102.5,211.0 L103.7,211.3 L105.0,211.7 L106.4,212.1 L107.9,212.6 L109.5,213.0 L111.2,213.5 L112.8,213.9 L114.5,214.3 L116.1,214.6 L117.7,214.9 L119.5,215.2 L121.3,215.4 L123.1,215.6 L125.0,215.9 L127.0,216.1 L129.0,216.3 L131.1,216.5 L133.3,216.6 L135.5,216.8 L137.7,217.0 L140.0,217.1 L142.3,217.3 L144.7,217.4 L147.2,217.5 L149.7,217.7 L152.2,217.8 L154.8,217.8 L157.5,217.9 L160.1,218.0 L163.0,218.1 L165.9,218.1 L169.0,218.2 L172.2,218.2 L175.3,218.2 L178.5,218.2 L181.6,218.2 L184.5,218.2 L187.4,218.2 L190.0,218.2 L192.4,218.2 L194.7,218.2 L196.9,218.1 L199.0,218.1 L201.0,218.0 L202.9,218.0 L204.7,217.9 L206.4,217.9 L208.1,217.8 L209.7,217.7 L211.2,217.6 L212.7,217.6 L214.1,217.5 L215.3,217.4 L216.5,217.3 L217.5,217.2 L218.4,217.1 L219.2,217.0 L219.8,216.9 L220.3,216.7 L220.6,216.6 L220.7,216.6 L220.8,216.6 L220.7,216.6 L220.7,216.7 L220.5,216.8 L220.4,216.9 L220.3,217.1 L220.3,217.3 L220.2,217.5 L220.1,217.8 L220.1,218.1 L220.1,218.5 L220.2,219.0 L220.4,219.4 L220.5,219.7 L220.7,219.9 L220.8,220.1 L220.9,220.1 L220.8,220.0 L220.4,219.8 L219.9,219.5 L219.3,219.2 L218.6,218.9 L217.9,218.7 L217.1,218.4 L216.3,218.1 L215.3,217.9 L214.3,217.6 L213.1,217.4 L211.8,217.3 L210.4,217.1 L208.9,217.0 L207.3,216.9 L205.6,216.9 L203.7,216.8 L201.7,216.8 L199.6,216.8 L197.3,216.7 L194.9,216.7 L192.3,216.7 L189.5,216.6 L186.4,216.6 L183.3,216.6 L180.0,216.6 L176.8,216.6 L173.6,216.6 L170.5,216.6 L167.7,216.7 L165.1,216.7 L162.7,216.7 L160.3,216.8 L158.1,216.9 L155.9,216.9 L153.8,217.0 L151.9,217.1 L150.2,217.1 L148.7,217.2 L147.3,217.3 L146.2,217.3 Z" fill="#35281b"/><path d="M145.8,206.5 L146.9,206.5 L148.2,206.4 L149.8,206.3 L151.5,206.3 L153.4,206.2 L155.5,206.1 L157.7,206.1 L160.1,206.0 L162.5,205.9 L164.9,205.9 L167.6,205.9 L170.4,205.8 L173.5,205.8 L176.7,205.8 L180.0,205.8 L183.3,205.8 L186.5,205.8 L189.6,205.8 L192.4,205.9 L195.1,205.9 L197.5,205.9 L199.7,206.0 L201.9,206.0 L203.9,206.0 L205.9,206.1 L207.8,206.2 L209.6,206.2 L211.4,206.4 L213.1,206.5 L214.7,206.8 L216.3,207.0 L217.8,207.3 L219.2,207.7 L220.5,208.1 L221.8,208.6 L222.9,209.0 L223.9,209.5 L224.9,210.0 L225.8,210.5 L226.6,211.0 L227.5,211.6 L228.3,212.3 L229.1,213.2 L229.8,214.1 L230.3,215.1 L230.7,216.2 L230.9,217.3 L230.9,218.3 L230.8,219.3 L230.6,220.2 L230.4,221.1 L230.0,221.9 L229.5,222.7 L229.0,223.6 L228.2,224.3 L227.4,225.1 L226.5,225.7 L225.5,226.3 L224.5,226.7 L223.4,227.1 L222.2,227.4 L221.1,227.6 L219.9,227.8 L218.7,228.0 L217.4,228.1 L216.1,228.2 L214.7,228.3 L213.3,228.3 L211.8,228.4 L210.2,228.5 L208.6,228.6 L206.9,228.7 L205.1,228.7 L203.2,228.8 L201.2,228.8 L199.2,228.9 L197.1,228.9 L194.8,229.0 L192.5,229.0 L190.0,229.0 L187.4,229.0 L184.6,229.0 L181.6,229.0 L178.5,229.0 L175.3,229.0 L172.1,229.0 L168.9,229.0 L165.8,228.9 L162.7,228.9 L159.9,228.8 L157.1,228.7 L154.4,228.6 L151.8,228.5 L149.2,228.4 L146.6,228.3 L144.1,228.2 L141.7,228.1 L139.3,227.9 L136.9,227.8 L134.6,227.6 L132.4,227.4 L130.2,227.2 L128.0,227.0 L125.9,226.8 L123.8,226.6 L121.8,226.4 L119.8,226.1 L117.9,225.8 L116.0,225.5 L114.1,225.2 L112.2,224.8 L110.3,224.4 L108.5,223.9 L106.6,223.5 L104.9,223.0 L103.3,222.5 L101.9,222.1 L100.6,221.7 L99.5,221.4 L98.7,221.1 L99.7,217.7 L100.5,217.9 L101.6,218.2 L102.9,218.6 L104.3,219.0 L105.9,219.5 L107.6,220.0 L109.4,220.5 L111.2,220.9 L113.0,221.3 L114.8,221.7 L116.6,222.0 L118.4,222.3 L120.3,222.5 L122.3,222.8 L124.2,223.0 L126.3,223.2 L128.4,223.4 L130.5,223.6 L132.7,223.8 L134.9,224.0 L137.2,224.2 L139.5,224.3 L141.9,224.5 L144.3,224.6 L146.8,224.7 L149.3,224.8 L151.9,224.9 L154.6,225.0 L157.2,225.1 L160.0,225.2 L162.8,225.3 L165.8,225.3 L168.9,225.4 L172.1,225.4 L175.3,225.4 L178.5,225.4 L181.6,225.4 L184.6,225.4 L187.4,225.4 L190.0,225.4 L192.5,225.4 L194.8,225.4 L197.0,225.3 L199.1,225.3 L201.2,225.2 L203.1,225.2 L204.9,225.1 L206.7,225.1 L208.4,225.0 L210.1,224.9 L211.6,224.8 L213.1,224.7 L214.5,224.7 L215.8,224.6 L217.1,224.5 L218.3,224.4 L219.4,224.2 L220.4,224.1 L221.4,223.9 L222.3,223.7 L223.2,223.4 L223.9,223.0 L224.6,222.6 L225.2,222.2 L225.7,221.8 L226.1,221.3 L226.5,220.8 L226.8,220.3 L227.0,219.8 L227.2,219.3 L227.3,218.8 L227.3,218.2 L227.3,217.7 L227.2,217.1 L227.0,216.5 L226.7,216.0 L226.3,215.4 L225.8,214.9 L225.3,214.4 L224.6,214.0 L224.0,213.6 L223.2,213.2 L222.4,212.7 L221.5,212.3 L220.5,211.9 L219.4,211.5 L218.2,211.2 L217.0,210.9 L215.6,210.6 L214.2,210.3 L212.6,210.1 L211.1,210.0 L209.4,209.8 L207.6,209.7 L205.8,209.7 L203.8,209.6 L201.8,209.6 L199.7,209.6 L197.4,209.5 L195.0,209.5 L192.4,209.5 L189.5,209.4 L186.5,209.4 L183.3,209.4 L180.0,209.4 L176.7,209.4 L173.5,209.4 L170.5,209.4 L167.6,209.5 L165.0,209.5 L162.5,209.5 L160.2,209.6 L157.9,209.7 L155.7,209.7 L153.6,209.8 L151.7,209.9 L149.9,209.9 L148.4,210.0 L147.0,210.1 L146.0,210.1 Z" fill="#917a58"/><path d="M146.0,210.1 L147.0,210.1 L148.4,210.0 L149.9,209.9 L151.7,209.9 L153.6,209.8 L155.7,209.7 L157.9,209.7 L160.2,209.6 L162.5,209.5 L165.0,209.5 L167.6,209.5 L170.5,209.4 L173.5,209.4 L176.7,209.4 L180.0,209.4 L183.3,209.4 L186.5,209.4 L189.5,209.4 L192.4,209.5 L195.0,209.5 L197.4,209.5 L199.7,209.6 L201.8,209.6 L203.8,209.6 L205.8,209.7 L207.6,209.7 L209.4,209.8 L211.1,210.0 L212.6,210.1 L214.2,210.3 L215.6,210.6 L217.0,210.9 L218.2,211.2 L219.4,211.5 L220.5,211.9 L221.5,212.3 L222.4,212.7 L223.2,213.2 L224.0,213.6 L224.6,214.0 L225.3,214.4 L225.8,214.9 L226.3,215.4 L226.7,216.0 L227.0,216.5 L227.2,217.1 L227.3,217.7 L227.3,218.2 L227.3,218.8 L227.2,219.3 L227.0,219.8 L226.8,220.3 L226.5,220.8 L226.1,221.3 L225.7,221.8 L225.2,222.2 L224.6,222.6 L223.9,223.0 L223.2,223.4 L222.3,223.7 L221.4,223.9 L220.4,224.1 L219.4,224.2 L218.3,224.4 L217.1,224.5 L215.8,224.6 L214.5,224.7 L213.1,224.7 L211.6,224.8 L210.1,224.9 L208.4,225.0 L206.7,225.1 L204.9,225.1 L203.1,225.2 L201.2,225.2 L199.1,225.3 L197.0,225.3 L194.8,225.4 L192.5,225.4 L190.0,225.4 L187.4,225.4 L184.6,225.4 L181.6,225.4 L178.5,225.4 L175.3,225.4 L172.1,225.4 L168.9,225.4 L165.8,225.3 L162.8,225.3 L160.0,225.2 L157.2,225.1 L154.6,225.0 L151.9,224.9 L149.3,224.8 L146.8,224.7 L144.3,224.6 L141.9,224.5 L139.5,224.3 L137.2,224.2 L134.9,224.0 L132.7,223.8 L130.5,223.6 L128.4,223.4 L126.3,223.2 L124.2,223.0 L122.3,222.8 L120.3,222.5 L118.4,222.3 L116.6,222.0 L114.8,221.7 L113.0,221.3 L111.2,220.9 L109.4,220.5 L107.6,220.0 L105.9,219.5 L104.3,219.0 L102.9,218.6 L101.6,218.2 L100.5,217.9 L99.7,217.7 L100.2,215.9 L101.0,216.2 L102.1,216.5 L103.4,216.9 L104.9,217.3 L106.4,217.8 L108.1,218.3 L109.8,218.7 L111.6,219.2 L113.4,219.6 L115.1,219.9 L116.9,220.2 L118.7,220.5 L120.6,220.8 L122.5,221.0 L124.4,221.2 L126.5,221.4 L128.5,221.6 L130.7,221.8 L132.8,222.0 L135.0,222.2 L137.3,222.4 L139.6,222.5 L142.0,222.7 L144.4,222.8 L146.9,222.9 L149.4,223.0 L152.0,223.1 L154.6,223.2 L157.3,223.3 L160.0,223.4 L162.9,223.5 L165.8,223.5 L169.0,223.6 L172.1,223.6 L175.3,223.6 L178.5,223.6 L181.6,223.6 L184.6,223.6 L187.4,223.6 L190.0,223.6 L192.4,223.6 L194.8,223.6 L197.0,223.5 L199.1,223.5 L201.1,223.4 L203.0,223.4 L204.9,223.3 L206.6,223.3 L208.3,223.2 L210.0,223.1 L211.5,223.0 L213.0,222.9 L214.4,222.9 L215.7,222.8 L216.9,222.7 L218.1,222.6 L219.2,222.5 L220.1,222.3 L221.0,222.1 L221.8,221.9 L222.5,221.7 L223.1,221.4 L223.7,221.1 L224.1,220.8 L224.5,220.5 L224.7,220.2 L225.0,219.8 L225.2,219.5 L225.3,219.2 L225.4,218.8 L225.5,218.5 L225.5,218.2 L225.5,217.9 L225.4,217.6 L225.3,217.2 L225.2,216.9 L224.9,216.6 L224.6,216.2 L224.2,215.9 L223.7,215.5 L223.1,215.1 L222.4,214.8 L221.6,214.4 L220.8,214.0 L219.8,213.6 L218.8,213.3 L217.7,212.9 L216.6,212.6 L215.3,212.3 L213.9,212.1 L212.4,211.9 L210.9,211.8 L209.3,211.6 L207.5,211.5 L205.7,211.5 L203.8,211.4 L201.8,211.4 L199.6,211.4 L197.4,211.3 L195.0,211.3 L192.4,211.3 L189.5,211.2 L186.5,211.2 L183.3,211.2 L180.0,211.2 L176.7,211.2 L173.5,211.2 L170.5,211.2 L167.6,211.3 L165.0,211.3 L162.6,211.3 L160.2,211.4 L157.9,211.5 L155.7,211.5 L153.6,211.6 L151.7,211.7 L150.0,211.7 L148.4,211.8 L147.1,211.9 L146.0,211.9 Z" fill="#7a6e60"/><path d="M146.0,211.9 L147.1,211.9 L148.4,211.8 L150.0,211.7 L151.7,211.7 L153.6,211.6 L155.7,211.5 L157.9,211.5 L160.2,211.4 L162.6,211.3 L165.0,211.3 L167.6,211.3 L170.5,211.2 L173.5,211.2 L176.7,211.2 L180.0,211.2 L183.3,211.2 L186.5,211.2 L189.5,211.2 L192.4,211.3 L195.0,211.3 L197.4,211.3 L199.6,211.4 L201.8,211.4 L203.8,211.4 L205.7,211.5 L207.5,211.5 L209.3,211.6 L210.9,211.8 L212.4,211.9 L213.9,212.1 L215.3,212.3 L216.6,212.6 L217.7,212.9 L218.8,213.3 L219.8,213.6 L220.8,214.0 L221.6,214.4 L222.4,214.8 L223.1,215.1 L223.7,215.5 L224.2,215.9 L224.6,216.2 L224.9,216.6 L225.2,216.9 L225.3,217.2 L225.4,217.6 L225.5,217.9 L225.5,218.2 L225.5,218.5 L225.4,218.8 L225.3,219.2 L225.2,219.5 L225.0,219.8 L224.7,220.2 L224.5,220.5 L224.1,220.8 L223.7,221.1 L223.1,221.4 L222.5,221.7 L221.8,221.9 L221.0,222.1 L220.1,222.3 L219.2,222.5 L218.1,222.6 L216.9,222.7 L215.7,222.8 L214.4,222.9 L213.0,222.9 L211.5,223.0 L210.0,223.1 L208.3,223.2 L206.6,223.3 L204.9,223.3 L203.0,223.4 L201.1,223.4 L199.1,223.5 L197.0,223.5 L194.8,223.6 L192.4,223.6 L190.0,223.6 L187.4,223.6 L184.6,223.6 L181.6,223.6 L178.5,223.6 L175.3,223.6 L172.1,223.6 L169.0,223.6 L165.8,223.5 L162.9,223.5 L160.0,223.4 L157.3,223.3 L154.6,223.2 L152.0,223.1 L149.4,223.0 L146.9,222.9 L144.4,222.8 L142.0,222.7 L139.6,222.5 L137.3,222.4 L135.0,222.2 L132.8,222.0 L130.7,221.8 L128.5,221.6 L126.5,221.4 L124.4,221.2 L122.5,221.0 L120.6,220.8 L118.7,220.5 L116.9,220.2 L115.1,219.9 L113.4,219.6 L111.6,219.2 L109.8,218.7 L108.1,218.3 L106.4,217.8 L104.9,217.3 L103.4,216.9 L102.1,216.5 L101.0,216.2 L100.2,215.9 L101.3,211.9 L102.2,212.1 L103.3,212.5 L104.6,212.9 L106.1,213.3 L107.6,213.7 L109.2,214.2 L110.9,214.7 L112.6,215.1 L114.2,215.5 L115.9,215.8 L117.5,216.1 L119.3,216.3 L121.1,216.6 L123.0,216.8 L124.9,217.1 L126.9,217.3 L128.9,217.5 L131.0,217.7 L133.2,217.8 L135.4,218.0 L137.6,218.2 L139.9,218.3 L142.3,218.5 L144.7,218.6 L147.1,218.7 L149.6,218.8 L152.2,219.0 L154.8,219.0 L157.4,219.1 L160.1,219.2 L162.9,219.3 L165.9,219.3 L169.0,219.4 L172.2,219.4 L175.3,219.4 L178.5,219.4 L181.6,219.4 L184.6,219.4 L187.4,219.4 L190.0,219.4 L192.4,219.4 L194.7,219.4 L196.9,219.3 L199.0,219.3 L201.0,219.2 L202.9,219.2 L204.7,219.1 L206.5,219.1 L208.1,219.0 L209.8,218.9 L211.3,218.8 L212.8,218.7 L214.2,218.7 L215.4,218.6 L216.6,218.5 L217.7,218.4 L218.6,218.3 L219.4,218.2 L220.1,218.0 L220.6,217.9 L221.0,217.8 L221.3,217.7 L221.4,217.6 L221.5,217.5 L221.5,217.5 L221.5,217.5 L221.4,217.6 L221.4,217.6 L221.4,217.7 L221.4,217.8 L221.3,217.9 L221.3,218.1 L221.3,218.4 L221.4,218.6 L221.5,218.9 L221.6,219.1 L221.6,219.2 L221.7,219.2 L221.6,219.2 L221.4,219.0 L221.0,218.8 L220.4,218.5 L219.8,218.2 L219.1,217.8 L218.4,217.5 L217.5,217.2 L216.6,217.0 L215.6,216.7 L214.5,216.5 L213.3,216.2 L212.0,216.1 L210.5,215.9 L209.0,215.8 L207.4,215.7 L205.6,215.7 L203.7,215.6 L201.7,215.6 L199.6,215.6 L197.3,215.5 L194.9,215.5 L192.3,215.5 L189.5,215.4 L186.4,215.4 L183.3,215.4 L180.0,215.4 L176.7,215.4 L173.6,215.4 L170.5,215.4 L167.6,215.5 L165.1,215.5 L162.7,215.5 L160.3,215.6 L158.0,215.7 L155.9,215.7 L153.8,215.8 L151.9,215.9 L150.2,215.9 L148.6,216.0 L147.3,216.1 L146.2,216.1 Z" fill="#a08a66"/><path d="M145.8,206.2 L146.9,206.2 L148.2,206.1 L149.7,206.0 L151.5,206.0 L153.4,205.9 L155.5,205.8 L157.7,205.8 L160.1,205.7 L162.5,205.6 L164.9,205.6 L167.6,205.6 L170.4,205.5 L173.5,205.5 L176.7,205.5 L180.0,205.5 L183.3,205.5 L186.5,205.5 L189.6,205.5 L192.5,205.6 L195.1,205.6 L197.5,205.6 L199.7,205.7 L201.9,205.7 L203.9,205.7 L205.9,205.8 L207.8,205.9 L209.6,205.9 L211.4,206.1 L213.1,206.2 L214.8,206.5 L216.4,206.7 L217.9,207.1 L219.3,207.4 L220.6,207.8 L221.9,208.3 L223.0,208.7 L224.1,209.2 L225.0,209.7 L225.9,210.2 L226.8,210.7 L227.7,211.3 L228.5,212.1 L229.3,213.0 L230.0,213.9 L230.6,215.0 L230.9,216.1 L231.2,217.2 L231.2,218.3 L231.1,219.3 L230.9,220.3 L230.7,221.2 L230.3,222.0 L229.8,222.9 L229.2,223.7 L228.5,224.6 L227.6,225.3 L226.7,225.9 L225.7,226.5 L224.6,227.0 L223.4,227.4 L222.3,227.7 L221.1,227.9 L219.9,228.1 L218.7,228.3 L217.4,228.4 L216.1,228.5 L214.7,228.6 L213.3,228.6 L211.8,228.7 L210.3,228.8 L208.6,228.9 L206.9,229.0 L205.1,229.0 L203.2,229.1 L201.3,229.1 L199.2,229.2 L197.1,229.2 L194.8,229.3 L192.5,229.3 L190.0,229.3 L187.4,229.3 L184.6,229.3 L181.6,229.3 L178.5,229.3 L175.3,229.3 L172.1,229.3 L168.9,229.3 L165.8,229.2 L162.7,229.2 L159.9,229.1 L157.1,229.0 L154.4,228.9 L151.8,228.8 L149.2,228.7 L146.6,228.6 L144.1,228.5 L141.7,228.4 L139.3,228.2 L136.9,228.1 L134.6,227.9 L132.4,227.7 L130.2,227.5 L128.0,227.3 L125.9,227.1 L123.8,226.9 L121.8,226.7 L119.8,226.4 L117.9,226.1 L116.0,225.8 L114.1,225.5 L112.2,225.1 L110.3,224.7 L108.4,224.2 L106.6,223.7 L104.8,223.3 L103.2,222.8 L101.8,222.3 L100.5,222.0 L99.4,221.6 L98.6,221.4 L101.4,211.6 L102.3,211.8 L103.4,212.2 L104.7,212.6 L106.1,213.0 L107.7,213.5 L109.3,213.9 L110.9,214.4 L112.6,214.8 L114.3,215.2 L115.9,215.5 L117.6,215.8 L119.3,216.0 L121.2,216.3 L123.0,216.5 L124.9,216.8 L126.9,217.0 L129.0,217.2 L131.0,217.4 L133.2,217.5 L135.4,217.7 L137.6,217.9 L139.9,218.0 L142.3,218.2 L144.7,218.3 L147.1,218.4 L149.6,218.5 L152.2,218.7 L154.8,218.7 L157.4,218.8 L160.1,218.9 L162.9,219.0 L165.9,219.0 L169.0,219.1 L172.2,219.1 L175.3,219.1 L178.5,219.1 L181.6,219.1 L184.6,219.1 L187.4,219.1 L190.0,219.1 L192.4,219.1 L194.7,219.1 L196.9,219.0 L199.0,219.0 L201.0,218.9 L202.9,218.9 L204.7,218.8 L206.5,218.8 L208.1,218.7 L209.7,218.6 L211.3,218.5 L212.8,218.4 L214.1,218.4 L215.4,218.3 L216.6,218.2 L217.6,218.1 L218.6,218.0 L219.4,217.9 L220.0,217.7 L220.6,217.6 L220.9,217.5 L221.1,217.4 L221.3,217.3 L221.3,217.3 L221.3,217.3 L221.2,217.3 L221.2,217.4 L221.1,217.5 L221.1,217.6 L221.1,217.7 L221.0,217.9 L221.0,218.1 L221.0,218.4 L221.1,218.7 L221.2,219.0 L221.3,219.2 L221.4,219.4 L221.5,219.4 L221.4,219.4 L221.2,219.3 L220.8,219.0 L220.3,218.7 L219.7,218.4 L219.0,218.1 L218.2,217.8 L217.4,217.5 L216.5,217.2 L215.5,217.0 L214.4,216.7 L213.2,216.5 L211.9,216.4 L210.5,216.2 L209.0,216.1 L207.4,216.0 L205.6,216.0 L203.7,215.9 L201.7,215.9 L199.6,215.9 L197.3,215.8 L194.9,215.8 L192.3,215.8 L189.5,215.7 L186.4,215.7 L183.3,215.7 L180.0,215.7 L176.8,215.7 L173.6,215.7 L170.5,215.7 L167.7,215.8 L165.1,215.8 L162.7,215.8 L160.3,215.9 L158.0,216.0 L155.9,216.0 L153.8,216.1 L151.9,216.2 L150.2,216.2 L148.6,216.3 L147.3,216.4 L146.2,216.4 Z" fill="url(#scales)" opacity="0.55"/></g>
<ellipse cx="127" cy="209" rx="15" ry="5" fill="#18140e" filter="url(#b1)"/>
<ellipse cx="77" cy="221.5" rx="19" ry="6.5" fill="#6e604e" filter="url(#b1)"/>
<path d="M75,208 C77,213 78,218 76,223" fill="none" stroke="#e8e4e0" stroke-width="1.5" opacity="0.7" filter="url(#b05)"/>
<ellipse cx="80" cy="229" rx="6" ry="1.6" fill="#e8e4dc" filter="url(#b05)"/>
<g filter="url(#b05)"><path d="M125.0,221.0 L124.1,220.6 L123.0,220.0 L121.8,219.3 L120.3,218.6 L118.8,217.8 L117.1,217.0 L115.3,216.1 L113.6,215.4 L111.8,214.6 L110.0,214.0 L108.2,213.4 L106.4,212.9 L104.4,212.3 L102.5,211.8 L100.4,211.3 L98.4,210.8 L96.3,210.4 L94.2,210.0 L92.1,209.7 L90.0,209.5 L87.9,209.3 L85.6,209.2 L83.4,209.2 L81.1,209.2 L78.8,209.2 L76.5,209.3 L74.2,209.5 L72.0,209.6 L70.0,209.8 L68.0,210.0 L66.1,210.2 L64.3,210.4 L62.5,210.7 L60.8,211.0 L59.2,211.3 L57.6,211.7 L56.1,212.1 L54.7,212.5 L53.3,213.0 L52.0,213.5 L50.8,214.1 L49.7,214.7 L48.6,215.4 L47.6,216.1 L46.7,216.9 L45.8,217.7 L45.0,218.5 L44.3,219.3 L43.6,220.2 L43.0,221.0 L42.4,221.8 L41.9,222.7 L41.5,223.6 L41.1,224.4 L40.8,225.3 L40.6,226.3 L40.3,227.2 L40.2,228.1 L40.1,229.1 L40.0,230.0 L40.0,231.0 L40.0,232.0 L40.0,233.1 L40.1,234.1 L40.2,235.2 L40.4,236.2 L40.7,237.3 L41.0,238.2 L41.5,239.2 L42.0,240.0 L42.6,240.8 L43.3,241.5 L44.0,242.2 L44.8,242.8 L45.7,243.4 L46.7,244.0 L47.8,244.5 L49.0,245.0 L50.4,245.5 L52.0,246.0 L53.7,246.5 L55.6,246.9 L57.6,247.3 L59.7,247.7 L61.9,248.1 L64.3,248.4 L66.8,248.7 L69.4,249.0 L72.2,249.3 L75.0,249.5 L78.0,249.7 L81.2,249.9 L84.5,250.1 L87.9,250.2 L91.4,250.3 L95.1,250.4 L98.8,250.5 L102.5,250.5 L106.2,250.5 L110.0,250.5 L113.8,250.5 L117.8,250.4 L121.8,250.3 L125.9,250.2 L130.0,250.1 L134.1,250.0 L138.2,249.8 L142.2,249.6 L146.2,249.3 L150.0,249.0 L153.7,248.6 L157.5,248.2 L161.2,247.8 L164.8,247.3 L168.4,246.8 L172.0,246.3 L175.4,245.7 L178.7,245.2 L181.9,244.6 L185.0,244.0 L187.9,243.4 L190.8,242.8 L193.6,242.2 L196.2,241.5 L198.8,240.8 L201.2,240.2 L203.6,239.5 L205.8,238.8 L207.9,238.2 L210.0,237.5 L211.9,236.8 L213.8,236.2 L215.5,235.5 L217.2,234.9 L218.7,234.2 L220.1,233.6 L221.5,232.9 L222.7,232.3 L223.9,231.6 L225.0,231.0 L226.0,230.4 L226.9,229.7 L227.7,229.0 L228.3,228.3 L228.9,227.6 L229.5,226.9 L229.9,226.3 L230.3,225.8 L230.7,225.4 L231.0,225.0" fill="none" stroke="#8c7656" stroke-width="16" stroke-linecap="round" stroke-linejoin="round"/><path d="M121.5,228.2 L120.5,227.7 L119.3,227.1 L118.0,226.4 L116.6,225.7 L115.2,224.9 L113.6,224.2 L112.0,223.4 L110.4,222.7 L108.9,222.1 L107.4,221.6 L105.8,221.1 L104.1,220.5 L102.3,220.0 L100.5,219.5 L98.6,219.1 L96.7,218.6 L94.8,218.3 L93.0,217.9 L91.1,217.7 L89.2,217.5 L87.4,217.3 L85.4,217.2 L83.3,217.2 L81.2,217.2 L79.0,217.2 L76.9,217.3 L74.7,217.5 L72.7,217.6 L70.7,217.8 L68.8,218.0 L67.1,218.2 L65.4,218.4 L63.8,218.6 L62.3,218.9 L60.8,219.1 L59.5,219.4 L58.3,219.8 L57.1,220.1 L56.1,220.5 L55.2,220.8 L54.5,221.2 L53.8,221.6 L53.2,222.0 L52.5,222.4 L52.0,222.9 L51.4,223.4 L50.9,224.0 L50.4,224.5 L49.9,225.1 L49.5,225.7 L49.2,226.1 L49.0,226.5 L48.8,226.9 L48.6,227.3 L48.4,227.8 L48.3,228.2 L48.2,228.7 L48.1,229.3 L48.0,229.8 L48.0,230.5 L48.0,231.2 L48.0,231.9 L48.0,232.7 L48.0,233.3 L48.1,234.0 L48.2,234.5 L48.3,234.9 L48.4,235.1 L48.4,235.2 L48.5,235.3 L48.7,235.6 L49.0,235.9 L49.2,236.1 L49.5,236.4 L49.9,236.6 L50.4,236.9 L51.0,237.2 L51.9,237.5 L52.9,237.9 L54.2,238.3 L55.7,238.7 L57.3,239.1 L59.1,239.5 L61.0,239.8 L63.1,240.2 L65.4,240.5 L67.7,240.8 L70.2,241.0 L72.9,241.3 L75.6,241.5 L78.5,241.7 L81.6,241.9 L84.8,242.1 L88.2,242.2 L91.7,242.3 L95.2,242.4 L98.9,242.5 L102.5,242.5 L106.2,242.5 L110.0,242.5 L113.7,242.5 L117.6,242.4 L121.6,242.3 L125.7,242.3 L129.7,242.1 L133.8,242.0 L137.8,241.8 L141.8,241.6 L145.6,241.3 L149.3,241.0 L152.9,240.7 L156.6,240.3 L160.2,239.9 L163.8,239.4 L167.3,238.9 L170.7,238.4 L174.1,237.8 L177.3,237.3 L180.5,236.7 L183.5,236.1 L186.3,235.6 L189.1,235.0 L191.7,234.4 L194.2,233.8 L196.7,233.1 L199.0,232.5 L201.3,231.8 L203.5,231.2 L205.5,230.5 L207.5,229.9 L209.3,229.3 L211.0,228.7 L212.6,228.1 L214.1,227.5 L215.5,226.9 L216.7,226.3 L217.9,225.7 L219.0,225.2 L220.0,224.6 L220.8,224.2 L221.4,223.8 L221.8,223.5 L222.1,223.2 L222.5,222.8 L222.8,222.4 L223.2,222.0 L223.6,221.5 L224.0,220.9 L224.5,220.2 L225.0,219.7 L226.2,220.7 L225.8,221.3 L225.3,221.9 L224.8,222.5 L224.4,223.0 L224.1,223.5 L223.7,223.9 L223.2,224.3 L222.8,224.7 L222.3,225.1 L221.7,225.5 L220.8,226.0 L219.7,226.6 L218.6,227.2 L217.4,227.8 L216.1,228.4 L214.7,229.0 L213.2,229.6 L211.6,230.2 L209.9,230.8 L208.0,231.4 L206.0,232.1 L203.9,232.7 L201.8,233.4 L199.5,234.0 L197.1,234.7 L194.6,235.3 L192.1,235.9 L189.4,236.5 L186.6,237.1 L183.8,237.7 L180.8,238.3 L177.6,238.8 L174.3,239.4 L171.0,240.0 L167.5,240.5 L164.0,241.0 L160.4,241.5 L156.8,241.9 L153.1,242.3 L149.4,242.6 L145.7,242.9 L141.9,243.2 L137.9,243.4 L133.9,243.6 L129.8,243.7 L125.7,243.9 L121.7,243.9 L117.7,244.0 L113.8,244.1 L110.0,244.1 L106.2,244.1 L102.5,244.1 L98.8,244.1 L95.2,244.0 L91.6,243.9 L88.1,243.8 L84.7,243.7 L81.5,243.5 L78.4,243.3 L75.5,243.1 L72.7,242.9 L70.1,242.6 L67.6,242.4 L65.2,242.1 L62.9,241.7 L60.8,241.4 L58.8,241.0 L57.0,240.7 L55.3,240.3 L53.8,239.8 L52.4,239.4 L51.3,239.0 L50.4,238.7 L49.7,238.3 L49.1,238.0 L48.6,237.6 L48.2,237.3 L47.8,237.0 L47.5,236.6 L47.2,236.3 L47.0,236.0 L46.9,235.8 L46.8,235.4 L46.6,234.8 L46.5,234.2 L46.4,233.5 L46.4,232.7 L46.4,231.9 L46.4,231.1 L46.4,230.4 L46.4,229.7 L46.5,229.0 L46.6,228.4 L46.8,227.8 L46.9,227.3 L47.1,226.7 L47.3,226.2 L47.6,225.7 L47.8,225.2 L48.2,224.7 L48.7,224.1 L49.2,223.5 L49.7,222.9 L50.3,222.3 L50.9,221.7 L51.6,221.2 L52.2,220.7 L53.0,220.2 L53.7,219.8 L54.6,219.4 L55.6,219.0 L56.6,218.6 L57.8,218.2 L59.1,217.9 L60.5,217.6 L62.0,217.3 L63.5,217.0 L65.2,216.8 L66.9,216.6 L68.7,216.4 L70.6,216.2 L72.5,216.0 L74.6,215.9 L76.8,215.7 L79.0,215.6 L81.1,215.6 L83.3,215.6 L85.4,215.6 L87.5,215.7 L89.4,215.9 L91.3,216.1 L93.2,216.4 L95.1,216.7 L97.1,217.1 L99.0,217.5 L100.9,218.0 L102.7,218.5 L104.5,219.0 L106.3,219.5 L107.9,220.1 L109.5,220.6 L111.1,221.2 L112.7,222.0 L114.3,222.7 L115.9,223.5 L117.4,224.3 L118.8,225.0 L120.1,225.7 L121.2,226.3 L122.2,226.7 Z" fill="#35281b"/><path d="M127.8,215.3 L127.0,214.9 L126.0,214.3 L124.7,213.7 L123.3,212.9 L121.6,212.1 L119.9,211.2 L118.0,210.3 L116.0,209.5 L114.0,208.6 L112.1,207.9 L110.1,207.3 L108.2,206.7 L106.1,206.1 L104.1,205.6 L101.9,205.1 L99.7,204.6 L97.5,204.1 L95.2,203.7 L92.9,203.4 L90.6,203.1 L88.2,202.9 L85.8,202.8 L83.4,202.8 L81.0,202.8 L78.5,202.9 L76.2,203.0 L73.8,203.1 L71.5,203.2 L69.4,203.4 L67.3,203.6 L65.4,203.9 L63.4,204.1 L61.5,204.4 L59.7,204.7 L57.9,205.0 L56.1,205.4 L54.4,205.9 L52.7,206.4 L51.0,207.0 L49.4,207.6 L47.8,208.4 L46.3,209.2 L44.9,210.1 L43.7,211.1 L42.5,212.1 L41.4,213.1 L40.4,214.2 L39.4,215.2 L38.6,216.2 L37.8,217.3 L37.0,218.4 L36.3,219.6 L35.7,220.9 L35.2,222.1 L34.7,223.4 L34.4,224.7 L34.1,225.9 L33.9,227.2 L33.7,228.4 L33.6,229.6 L33.6,230.8 L33.6,232.1 L33.6,233.4 L33.7,234.7 L33.9,236.2 L34.1,237.6 L34.5,239.2 L35.1,240.7 L35.9,242.3 L36.8,243.7 L37.8,244.9 L38.7,246.0 L39.8,247.0 L41.0,248.0 L42.3,248.8 L43.7,249.6 L45.2,250.4 L46.8,251.0 L48.4,251.6 L50.2,252.2 L52.2,252.7 L54.2,253.1 L56.3,253.6 L58.6,254.0 L61.0,254.4 L63.5,254.7 L66.1,255.1 L68.8,255.4 L71.6,255.6 L74.5,255.9 L77.6,256.1 L80.8,256.3 L84.2,256.5 L87.7,256.6 L91.3,256.7 L94.9,256.8 L98.7,256.9 L102.4,256.9 L106.2,256.9 L110.0,256.9 L113.9,256.9 L117.9,256.8 L121.9,256.7 L126.1,256.6 L130.2,256.5 L134.4,256.4 L138.5,256.2 L142.6,256.0 L146.6,255.7 L150.6,255.4 L154.4,255.0 L158.2,254.6 L162.0,254.2 L165.7,253.7 L169.4,253.1 L173.0,252.6 L176.4,252.0 L179.8,251.5 L183.1,250.9 L186.2,250.3 L189.3,249.7 L192.2,249.0 L195.0,248.4 L197.8,247.7 L200.4,247.0 L202.9,246.3 L205.3,245.6 L207.7,244.9 L209.9,244.3 L212.0,243.6 L214.0,242.9 L216.0,242.2 L217.8,241.5 L219.6,240.8 L221.3,240.1 L222.8,239.4 L224.3,238.6 L225.7,237.9 L227.0,237.2 L228.3,236.5 L229.7,235.6 L231.0,234.6 L232.1,233.6 L233.0,232.6 L233.8,231.7 L234.5,230.9 L235.0,230.2 L235.4,229.7 L235.6,229.4 L235.8,229.3 L237.0,230.3 L236.8,230.5 L236.7,230.7 L236.3,231.2 L235.7,231.9 L235.0,232.8 L234.2,233.7 L233.2,234.8 L232.0,235.8 L230.6,236.9 L229.2,237.8 L227.8,238.6 L226.5,239.3 L225.0,240.1 L223.5,240.8 L221.9,241.5 L220.2,242.3 L218.4,243.0 L216.5,243.7 L214.6,244.4 L212.5,245.1 L210.4,245.8 L208.1,246.5 L205.8,247.2 L203.4,247.9 L200.8,248.6 L198.2,249.3 L195.4,249.9 L192.5,250.6 L189.6,251.2 L186.5,251.9 L183.4,252.4 L180.1,253.0 L176.7,253.6 L173.2,254.2 L169.6,254.7 L165.9,255.3 L162.2,255.7 L158.4,256.2 L154.5,256.6 L150.7,257.0 L146.8,257.3 L142.7,257.5 L138.6,257.8 L134.5,258.0 L130.3,258.1 L126.1,258.2 L122.0,258.3 L117.9,258.4 L113.9,258.5 L110.0,258.5 L106.2,258.5 L102.4,258.5 L98.6,258.5 L94.9,258.4 L91.2,258.3 L87.6,258.2 L84.1,258.1 L80.7,257.9 L77.5,257.7 L74.4,257.5 L71.4,257.2 L68.6,257.0 L65.9,256.7 L63.3,256.3 L60.7,256.0 L58.3,255.6 L56.0,255.2 L53.9,254.7 L51.8,254.2 L49.8,253.7 L47.9,253.1 L46.2,252.5 L44.5,251.8 L43.0,251.1 L41.5,250.2 L40.1,249.3 L38.8,248.2 L37.6,247.1 L36.5,246.0 L35.5,244.7 L34.5,243.1 L33.6,241.3 L33.0,239.6 L32.6,238.0 L32.3,236.4 L32.1,234.9 L32.0,233.4 L32.0,232.1 L32.0,230.8 L32.0,229.5 L32.1,228.3 L32.3,227.0 L32.5,225.6 L32.8,224.3 L33.2,222.9 L33.7,221.6 L34.2,220.2 L34.9,218.9 L35.7,217.6 L36.5,216.3 L37.3,215.2 L38.2,214.2 L39.2,213.1 L40.2,212.0 L41.4,210.9 L42.7,209.8 L44.0,208.8 L45.5,207.9 L47.1,207.0 L48.8,206.2 L50.5,205.5 L52.2,204.9 L53.9,204.4 L55.7,203.9 L57.5,203.5 L59.4,203.1 L61.3,202.8 L63.2,202.5 L65.2,202.3 L67.2,202.0 L69.2,201.8 L71.4,201.7 L73.7,201.5 L76.1,201.4 L78.5,201.3 L80.9,201.2 L83.4,201.2 L85.9,201.2 L88.3,201.3 L90.8,201.5 L93.1,201.8 L95.5,202.1 L97.8,202.5 L100.0,203.0 L102.3,203.5 L104.4,204.0 L106.6,204.6 L108.6,205.2 L110.6,205.8 L112.6,206.4 L114.6,207.2 L116.7,208.0 L118.7,208.9 L120.6,209.8 L122.3,210.6 L124.0,211.5 L125.5,212.2 L126.7,212.9 L127.7,213.4 L128.5,213.8 Z" fill="#35281b"/><path d="M122.2,226.7 L121.2,226.3 L120.1,225.7 L118.8,225.0 L117.4,224.3 L115.9,223.5 L114.3,222.7 L112.7,222.0 L111.1,221.2 L109.5,220.6 L107.9,220.1 L106.3,219.5 L104.5,219.0 L102.7,218.5 L100.9,218.0 L99.0,217.5 L97.1,217.1 L95.1,216.7 L93.2,216.4 L91.3,216.1 L89.4,215.9 L87.5,215.7 L85.4,215.6 L83.3,215.6 L81.1,215.6 L79.0,215.6 L76.8,215.7 L74.6,215.9 L72.5,216.0 L70.6,216.2 L68.7,216.4 L66.9,216.6 L65.2,216.8 L63.5,217.0 L62.0,217.3 L60.5,217.6 L59.1,217.9 L57.8,218.2 L56.6,218.6 L55.6,219.0 L54.6,219.4 L53.7,219.8 L53.0,220.2 L52.2,220.7 L51.6,221.2 L50.9,221.7 L50.3,222.3 L49.7,222.9 L49.2,223.5 L48.7,224.1 L48.2,224.7 L47.8,225.2 L47.6,225.7 L47.3,226.2 L47.1,226.7 L46.9,227.3 L46.8,227.8 L46.6,228.4 L46.5,229.0 L46.4,229.7 L46.4,230.4 L46.4,231.1 L46.4,231.9 L46.4,232.7 L46.4,233.5 L46.5,234.2 L46.6,234.8 L46.8,235.4 L46.9,235.8 L47.0,236.0 L47.2,236.3 L47.5,236.6 L47.8,237.0 L48.2,237.3 L48.6,237.6 L49.1,238.0 L49.7,238.3 L50.4,238.7 L51.3,239.0 L52.4,239.4 L53.8,239.8 L55.3,240.3 L57.0,240.7 L58.8,241.0 L60.8,241.4 L62.9,241.7 L65.2,242.1 L67.6,242.4 L70.1,242.6 L72.7,242.9 L75.5,243.1 L78.4,243.3 L81.5,243.5 L84.7,243.7 L88.1,243.8 L91.6,243.9 L95.2,244.0 L98.8,244.1 L102.5,244.1 L106.2,244.1 L110.0,244.1 L113.8,244.1 L117.7,244.0 L121.7,243.9 L125.7,243.9 L129.8,243.7 L133.9,243.6 L137.9,243.4 L141.9,243.2 L145.7,242.9 L149.4,242.6 L153.1,242.3 L156.8,241.9 L160.4,241.5 L164.0,241.0 L167.5,240.5 L171.0,240.0 L174.3,239.4 L177.6,238.8 L180.8,238.3 L183.8,237.7 L186.6,237.1 L189.4,236.5 L192.1,235.9 L194.6,235.3 L197.1,234.7 L199.5,234.0 L201.8,233.4 L203.9,232.7 L206.0,232.1 L208.0,231.4 L209.9,230.8 L211.6,230.2 L213.2,229.6 L214.7,229.0 L216.1,228.4 L217.4,227.8 L218.6,227.2 L219.7,226.6 L220.8,226.0 L221.7,225.5 L222.3,225.1 L222.8,224.7 L223.2,224.3 L223.7,223.9 L224.1,223.5 L224.4,223.0 L224.8,222.5 L225.3,221.9 L225.8,221.3 L226.2,220.7 L230.4,224.5 L230.1,224.8 L229.7,225.3 L229.3,225.9 L228.8,226.4 L228.3,227.1 L227.8,227.7 L227.1,228.4 L226.4,229.1 L225.5,229.7 L224.6,230.3 L223.5,230.9 L222.4,231.6 L221.1,232.2 L219.8,232.8 L218.4,233.5 L216.8,234.1 L215.2,234.8 L213.5,235.4 L211.7,236.1 L209.8,236.7 L207.7,237.4 L205.6,238.1 L203.3,238.7 L201.0,239.4 L198.5,240.1 L196.0,240.7 L193.4,241.4 L190.6,242.0 L187.8,242.6 L184.8,243.2 L181.8,243.8 L178.6,244.4 L175.3,244.9 L171.8,245.5 L168.3,246.0 L164.7,246.5 L161.1,247.0 L157.4,247.5 L153.7,247.9 L149.9,248.2 L146.1,248.5 L142.2,248.8 L138.2,249.0 L134.1,249.2 L130.0,249.3 L125.9,249.4 L121.8,249.5 L117.7,249.6 L113.8,249.7 L110.0,249.7 L106.2,249.7 L102.5,249.7 L98.8,249.7 L95.1,249.6 L91.5,249.5 L87.9,249.4 L84.5,249.3 L81.2,249.1 L78.0,248.9 L75.1,248.7 L72.2,248.5 L69.5,248.2 L66.9,247.9 L64.4,247.6 L62.1,247.3 L59.8,246.9 L57.7,246.5 L55.7,246.1 L53.9,245.7 L52.2,245.2 L50.7,244.8 L49.3,244.3 L48.1,243.8 L47.1,243.3 L46.1,242.7 L45.3,242.2 L44.5,241.6 L43.8,240.9 L43.2,240.3 L42.6,239.5 L42.2,238.8 L41.7,237.9 L41.4,237.0 L41.2,236.1 L41.0,235.1 L40.9,234.0 L40.8,233.0 L40.8,232.0 L40.8,231.0 L40.8,230.0 L40.9,229.1 L41.0,228.2 L41.1,227.3 L41.3,226.5 L41.6,225.6 L41.9,224.7 L42.2,223.9 L42.6,223.1 L43.1,222.3 L43.7,221.5 L44.3,220.7 L44.9,219.9 L45.6,219.1 L46.4,218.3 L47.2,217.5 L48.1,216.8 L49.1,216.1 L50.1,215.4 L51.2,214.8 L52.3,214.2 L53.6,213.7 L54.9,213.3 L56.3,212.8 L57.8,212.4 L59.4,212.1 L61.0,211.8 L62.7,211.5 L64.4,211.2 L66.2,211.0 L68.1,210.8 L70.0,210.6 L72.1,210.4 L74.3,210.3 L76.5,210.1 L78.8,210.0 L81.1,210.0 L83.4,210.0 L85.6,210.0 L87.8,210.1 L89.9,210.3 L92.0,210.5 L94.1,210.8 L96.2,211.2 L98.2,211.6 L100.3,212.1 L102.3,212.6 L104.2,213.1 L106.1,213.6 L108.0,214.2 L109.7,214.8 L111.5,215.4 L113.2,216.1 L115.0,216.9 L116.7,217.7 L118.4,218.5 L120.0,219.3 L121.4,220.0 L122.7,220.7 L123.8,221.3 L124.6,221.7 Z" fill="#98805a"/><path d="M124.6,221.7 L123.8,221.3 L122.7,220.7 L121.4,220.0 L120.0,219.3 L118.4,218.5 L116.7,217.7 L115.0,216.9 L113.2,216.1 L111.5,215.4 L109.7,214.8 L108.0,214.2 L106.1,213.6 L104.2,213.1 L102.3,212.6 L100.3,212.1 L98.2,211.6 L96.2,211.2 L94.1,210.8 L92.0,210.5 L89.9,210.3 L87.8,210.1 L85.6,210.0 L83.4,210.0 L81.1,210.0 L78.8,210.0 L76.5,210.1 L74.3,210.3 L72.1,210.4 L70.0,210.6 L68.1,210.8 L66.2,211.0 L64.4,211.2 L62.7,211.5 L61.0,211.8 L59.4,212.1 L57.8,212.4 L56.3,212.8 L54.9,213.3 L53.6,213.7 L52.3,214.2 L51.2,214.8 L50.1,215.4 L49.1,216.1 L48.1,216.8 L47.2,217.5 L46.4,218.3 L45.6,219.1 L44.9,219.9 L44.3,220.7 L43.7,221.5 L43.1,222.3 L42.6,223.1 L42.2,223.9 L41.9,224.7 L41.6,225.6 L41.3,226.5 L41.1,227.3 L41.0,228.2 L40.9,229.1 L40.8,230.0 L40.8,231.0 L40.8,232.0 L40.8,233.0 L40.9,234.0 L41.0,235.1 L41.2,236.1 L41.4,237.0 L41.7,237.9 L42.2,238.8 L42.6,239.5 L43.2,240.3 L43.8,240.9 L44.5,241.6 L45.3,242.2 L46.1,242.7 L47.1,243.3 L48.1,243.8 L49.3,244.3 L50.7,244.8 L52.2,245.2 L53.9,245.7 L55.7,246.1 L57.7,246.5 L59.8,246.9 L62.1,247.3 L64.4,247.6 L66.9,247.9 L69.5,248.2 L72.2,248.5 L75.1,248.7 L78.0,248.9 L81.2,249.1 L84.5,249.3 L87.9,249.4 L91.5,249.5 L95.1,249.6 L98.8,249.7 L102.5,249.7 L106.2,249.7 L110.0,249.7 L113.8,249.7 L117.7,249.6 L121.8,249.5 L125.9,249.4 L130.0,249.3 L134.1,249.2 L138.2,249.0 L142.2,248.8 L146.1,248.5 L149.9,248.2 L153.7,247.9 L157.4,247.5 L161.1,247.0 L164.7,246.5 L168.3,246.0 L171.8,245.5 L175.3,244.9 L178.6,244.4 L181.8,243.8 L184.8,243.2 L187.8,242.6 L190.6,242.0 L193.4,241.4 L196.0,240.7 L198.5,240.1 L201.0,239.4 L203.3,238.7 L205.6,238.1 L207.7,237.4 L209.8,236.7 L211.7,236.1 L213.5,235.4 L215.2,234.8 L216.8,234.1 L218.4,233.5 L219.8,232.8 L221.1,232.2 L222.4,231.6 L223.5,230.9 L224.6,230.3 L225.5,229.7 L226.4,229.1 L227.1,228.4 L227.8,227.7 L228.3,227.1 L228.8,226.4 L229.3,225.9 L229.7,225.3 L230.1,224.8 L230.4,224.5 L231.9,225.8 L231.6,226.1 L231.3,226.5 L230.9,227.1 L230.4,227.7 L229.9,228.4 L229.2,229.1 L228.5,229.8 L227.6,230.6 L226.7,231.3 L225.6,232.0 L224.5,232.7 L223.3,233.3 L222.0,234.0 L220.6,234.7 L219.2,235.3 L217.6,236.0 L216.0,236.7 L214.2,237.3 L212.3,238.0 L210.4,238.6 L208.3,239.3 L206.1,240.0 L203.9,240.6 L201.5,241.3 L199.1,242.0 L196.5,242.7 L193.8,243.3 L191.1,244.0 L188.2,244.6 L185.2,245.2 L182.1,245.8 L178.9,246.3 L175.6,246.9 L172.1,247.5 L168.6,248.0 L165.0,248.5 L161.3,249.0 L157.6,249.4 L153.9,249.8 L150.1,250.2 L146.3,250.5 L142.3,250.8 L138.3,251.0 L134.2,251.2 L130.0,251.3 L125.9,251.4 L121.8,251.5 L117.8,251.6 L113.8,251.7 L110.0,251.7 L106.2,251.7 L102.5,251.7 L98.7,251.7 L95.0,251.6 L91.4,251.5 L87.9,251.4 L84.4,251.3 L81.1,251.1 L77.9,250.9 L74.9,250.7 L72.0,250.5 L69.3,250.2 L66.7,249.9 L64.2,249.6 L61.8,249.2 L59.5,248.9 L57.3,248.5 L55.3,248.1 L53.4,247.6 L51.7,247.2 L50.1,246.7 L48.6,246.1 L47.3,245.6 L46.1,245.0 L45.1,244.4 L44.1,243.8 L43.2,243.1 L42.4,242.3 L41.7,241.6 L41.0,240.7 L40.4,239.7 L39.9,238.7 L39.5,237.6 L39.2,236.5 L39.0,235.4 L38.9,234.2 L38.8,233.1 L38.8,232.0 L38.8,230.9 L38.8,229.9 L38.9,228.9 L39.0,227.9 L39.2,226.9 L39.4,226.0 L39.7,225.0 L40.0,224.0 L40.4,223.1 L40.9,222.1 L41.4,221.2 L42.0,220.3 L42.7,219.4 L43.4,218.6 L44.2,217.7 L45.0,216.8 L45.9,216.0 L46.9,215.2 L47.9,214.4 L49.0,213.7 L50.2,213.0 L51.5,212.4 L52.9,211.9 L54.3,211.4 L55.8,210.9 L57.3,210.5 L58.9,210.1 L60.6,209.8 L62.4,209.5 L64.1,209.3 L66.0,209.0 L67.9,208.8 L69.9,208.6 L72.0,208.4 L74.1,208.3 L76.4,208.1 L78.7,208.1 L81.0,208.0 L83.4,208.0 L85.7,208.0 L87.9,208.1 L90.1,208.3 L92.3,208.5 L94.4,208.9 L96.5,209.2 L98.6,209.6 L100.7,210.1 L102.8,210.6 L104.8,211.2 L106.7,211.7 L108.6,212.3 L110.4,212.9 L112.2,213.5 L114.0,214.2 L115.8,215.0 L117.6,215.9 L119.3,216.7 L120.9,217.5 L122.3,218.3 L123.6,218.9 L124.7,219.5 L125.5,219.9 Z" fill="#5e4c36"/><path d="M125.5,219.9 L124.7,219.5 L123.6,218.9 L122.3,218.3 L120.9,217.5 L119.3,216.7 L117.6,215.9 L115.8,215.0 L114.0,214.2 L112.2,213.5 L110.4,212.9 L108.6,212.3 L106.7,211.7 L104.8,211.2 L102.8,210.6 L100.7,210.1 L98.6,209.6 L96.5,209.2 L94.4,208.9 L92.3,208.5 L90.1,208.3 L87.9,208.1 L85.7,208.0 L83.4,208.0 L81.0,208.0 L78.7,208.1 L76.4,208.1 L74.1,208.3 L72.0,208.4 L69.9,208.6 L67.9,208.8 L66.0,209.0 L64.1,209.3 L62.4,209.5 L60.6,209.8 L58.9,210.1 L57.3,210.5 L55.8,210.9 L54.3,211.4 L52.9,211.9 L51.5,212.4 L50.2,213.0 L49.0,213.7 L47.9,214.4 L46.9,215.2 L45.9,216.0 L45.0,216.8 L44.2,217.7 L43.4,218.6 L42.7,219.4 L42.0,220.3 L41.4,221.2 L40.9,222.1 L40.4,223.1 L40.0,224.0 L39.7,225.0 L39.4,226.0 L39.2,226.9 L39.0,227.9 L38.9,228.9 L38.8,229.9 L38.8,230.9 L38.8,232.0 L38.8,233.1 L38.9,234.2 L39.0,235.4 L39.2,236.5 L39.5,237.6 L39.9,238.7 L40.4,239.7 L41.0,240.7 L41.7,241.6 L42.4,242.3 L43.2,243.1 L44.1,243.8 L45.1,244.4 L46.1,245.0 L47.3,245.6 L48.6,246.1 L50.1,246.7 L51.7,247.2 L53.4,247.6 L55.3,248.1 L57.3,248.5 L59.5,248.9 L61.8,249.2 L64.2,249.6 L66.7,249.9 L69.3,250.2 L72.0,250.5 L74.9,250.7 L77.9,250.9 L81.1,251.1 L84.4,251.3 L87.9,251.4 L91.4,251.5 L95.0,251.6 L98.7,251.7 L102.5,251.7 L106.2,251.7 L110.0,251.7 L113.8,251.7 L117.8,251.6 L121.8,251.5 L125.9,251.4 L130.0,251.3 L134.2,251.2 L138.3,251.0 L142.3,250.8 L146.3,250.5 L150.1,250.2 L153.9,249.8 L157.6,249.4 L161.3,249.0 L165.0,248.5 L168.6,248.0 L172.1,247.5 L175.6,246.9 L178.9,246.3 L182.1,245.8 L185.2,245.2 L188.2,244.6 L191.1,244.0 L193.8,243.3 L196.5,242.7 L199.1,242.0 L201.5,241.3 L203.9,240.6 L206.1,240.0 L208.3,239.3 L210.4,238.6 L212.3,238.0 L214.2,237.3 L216.0,236.7 L217.6,236.0 L219.2,235.3 L220.6,234.7 L222.0,234.0 L223.3,233.3 L224.5,232.7 L225.6,232.0 L226.7,231.3 L227.6,230.6 L228.5,229.8 L229.2,229.1 L229.9,228.4 L230.4,227.7 L230.9,227.1 L231.3,226.5 L231.6,226.1 L231.9,225.8 L235.8,229.3 L235.6,229.4 L235.4,229.7 L235.0,230.2 L234.5,230.9 L233.8,231.7 L233.0,232.6 L232.1,233.6 L231.0,234.6 L229.7,235.6 L228.3,236.5 L227.0,237.2 L225.7,237.9 L224.3,238.6 L222.8,239.4 L221.3,240.1 L219.6,240.8 L217.8,241.5 L216.0,242.2 L214.0,242.9 L212.0,243.6 L209.9,244.3 L207.7,244.9 L205.3,245.6 L202.9,246.3 L200.4,247.0 L197.8,247.7 L195.0,248.4 L192.2,249.0 L189.3,249.7 L186.2,250.3 L183.1,250.9 L179.8,251.5 L176.4,252.0 L173.0,252.6 L169.4,253.1 L165.7,253.7 L162.0,254.2 L158.2,254.6 L154.4,255.0 L150.6,255.4 L146.6,255.7 L142.6,256.0 L138.5,256.2 L134.4,256.4 L130.2,256.5 L126.1,256.6 L121.9,256.7 L117.9,256.8 L113.9,256.9 L110.0,256.9 L106.2,256.9 L102.4,256.9 L98.7,256.9 L94.9,256.8 L91.3,256.7 L87.7,256.6 L84.2,256.5 L80.8,256.3 L77.6,256.1 L74.5,255.9 L71.6,255.6 L68.8,255.4 L66.1,255.1 L63.5,254.7 L61.0,254.4 L58.6,254.0 L56.3,253.6 L54.2,253.1 L52.2,252.7 L50.2,252.2 L48.4,251.6 L46.8,251.0 L45.2,250.4 L43.7,249.6 L42.3,248.8 L41.0,248.0 L39.8,247.0 L38.7,246.0 L37.8,244.9 L36.8,243.7 L35.9,242.3 L35.1,240.7 L34.5,239.2 L34.1,237.6 L33.9,236.2 L33.7,234.7 L33.6,233.4 L33.6,232.1 L33.6,230.8 L33.6,229.6 L33.7,228.4 L33.9,227.2 L34.1,225.9 L34.4,224.7 L34.7,223.4 L35.2,222.1 L35.7,220.9 L36.3,219.6 L37.0,218.4 L37.8,217.3 L38.6,216.2 L39.4,215.2 L40.4,214.2 L41.4,213.1 L42.5,212.1 L43.7,211.1 L44.9,210.1 L46.3,209.2 L47.8,208.4 L49.4,207.6 L51.0,207.0 L52.7,206.4 L54.4,205.9 L56.1,205.4 L57.9,205.0 L59.7,204.7 L61.5,204.4 L63.4,204.1 L65.4,203.9 L67.3,203.6 L69.4,203.4 L71.5,203.2 L73.8,203.1 L76.2,203.0 L78.5,202.9 L81.0,202.8 L83.4,202.8 L85.8,202.8 L88.2,202.9 L90.6,203.1 L92.9,203.4 L95.2,203.7 L97.5,204.1 L99.7,204.6 L101.9,205.1 L104.1,205.6 L106.1,206.1 L108.2,206.7 L110.1,207.3 L112.1,207.9 L114.0,208.6 L116.0,209.5 L118.0,210.3 L119.9,211.2 L121.6,212.1 L123.3,212.9 L124.7,213.7 L126.0,214.3 L127.0,214.9 L127.8,215.3 Z" fill="#a48e6a"/><path d="M122.0,227.1 L121.1,226.6 L119.9,226.0 L118.6,225.4 L117.2,224.6 L115.7,223.9 L114.1,223.1 L112.5,222.3 L110.9,221.6 L109.4,221.0 L107.8,220.4 L106.2,219.9 L104.4,219.4 L102.6,218.9 L100.8,218.4 L98.9,217.9 L97.0,217.5 L95.1,217.1 L93.1,216.8 L91.2,216.5 L89.4,216.3 L87.4,216.1 L85.4,216.0 L83.3,216.0 L81.1,216.0 L79.0,216.0 L76.8,216.1 L74.7,216.3 L72.6,216.4 L70.6,216.6 L68.7,216.8 L66.9,217.0 L65.2,217.2 L63.6,217.4 L62.0,217.7 L60.6,218.0 L59.2,218.3 L57.9,218.6 L56.8,219.0 L55.7,219.3 L54.8,219.7 L53.9,220.1 L53.2,220.5 L52.5,221.0 L51.8,221.5 L51.2,222.0 L50.6,222.6 L50.0,223.1 L49.5,223.8 L49.0,224.4 L48.5,225.0 L48.2,225.5 L47.9,225.9 L47.7,226.4 L47.5,226.9 L47.3,227.4 L47.1,227.9 L47.0,228.5 L46.9,229.1 L46.8,229.7 L46.8,230.4 L46.8,231.1 L46.8,231.9 L46.8,232.7 L46.8,233.5 L46.9,234.1 L47.0,234.7 L47.1,235.2 L47.3,235.6 L47.4,235.8 L47.5,236.0 L47.8,236.4 L48.1,236.7 L48.4,237.0 L48.8,237.3 L49.3,237.6 L49.8,237.9 L50.6,238.3 L51.5,238.7 L52.6,239.1 L53.9,239.5 L55.4,239.9 L57.0,240.3 L58.9,240.6 L60.8,241.0 L63.0,241.3 L65.2,241.7 L67.6,242.0 L70.1,242.2 L72.8,242.5 L75.5,242.7 L78.4,242.9 L81.5,243.1 L84.8,243.3 L88.1,243.4 L91.6,243.5 L95.2,243.6 L98.8,243.7 L102.5,243.7 L106.2,243.7 L110.0,243.7 L113.7,243.7 L117.7,243.6 L121.6,243.5 L125.7,243.5 L129.8,243.3 L133.8,243.2 L137.9,243.0 L141.8,242.8 L145.7,242.5 L149.4,242.2 L153.1,241.9 L156.7,241.5 L160.3,241.1 L163.9,240.6 L167.4,240.1 L170.9,239.6 L174.3,239.0 L177.5,238.5 L180.7,237.9 L183.7,237.3 L186.6,236.8 L189.3,236.2 L192.0,235.5 L194.5,234.9 L197.0,234.3 L199.4,233.6 L201.6,233.0 L203.8,232.3 L205.9,231.7 L207.9,231.0 L209.7,230.4 L211.4,229.8 L213.0,229.2 L214.5,228.6 L215.9,228.0 L217.2,227.4 L218.5,226.8 L219.6,226.3 L220.6,225.7 L221.4,225.2 L222.1,224.8 L222.5,224.4 L223.0,224.1 L223.4,223.6 L223.7,223.2 L224.1,222.7 L224.5,222.2 L224.9,221.7 L225.5,221.0 L225.9,220.5 L236.1,229.5 L235.9,229.7 L235.7,229.9 L235.3,230.5 L234.8,231.2 L234.1,232.0 L233.3,232.9 L232.3,233.9 L231.2,234.9 L229.9,235.9 L228.6,236.8 L227.2,237.6 L225.9,238.3 L224.5,239.0 L223.0,239.7 L221.4,240.4 L219.8,241.2 L218.0,241.9 L216.1,242.6 L214.2,243.3 L212.1,244.0 L210.0,244.6 L207.8,245.3 L205.5,246.0 L203.0,246.7 L200.5,247.4 L197.9,248.1 L195.1,248.8 L192.3,249.4 L189.3,250.1 L186.3,250.7 L183.2,251.3 L179.9,251.9 L176.5,252.4 L173.0,253.0 L169.4,253.5 L165.8,254.1 L162.0,254.6 L158.2,255.0 L154.4,255.4 L150.6,255.8 L146.7,256.1 L142.7,256.4 L138.6,256.6 L134.4,256.8 L130.2,256.9 L126.1,257.0 L121.9,257.1 L117.9,257.2 L113.9,257.3 L110.0,257.3 L106.2,257.3 L102.4,257.3 L98.7,257.3 L94.9,257.2 L91.2,257.1 L87.7,257.0 L84.2,256.9 L80.8,256.7 L77.6,256.5 L74.5,256.3 L71.5,256.0 L68.7,255.8 L66.0,255.5 L63.4,255.1 L60.9,254.8 L58.5,254.4 L56.3,254.0 L54.1,253.5 L52.1,253.1 L50.1,252.5 L48.3,252.0 L46.6,251.4 L45.0,250.7 L43.5,250.0 L42.1,249.2 L40.8,248.3 L39.6,247.3 L38.4,246.3 L37.5,245.2 L36.5,244.0 L35.5,242.5 L34.7,240.9 L34.2,239.3 L33.7,237.7 L33.5,236.2 L33.3,234.8 L33.2,233.4 L33.2,232.1 L33.2,230.8 L33.2,229.6 L33.3,228.4 L33.5,227.1 L33.7,225.9 L34.0,224.6 L34.3,223.3 L34.8,222.0 L35.3,220.7 L36.0,219.5 L36.7,218.2 L37.5,217.0 L38.3,216.0 L39.1,214.9 L40.1,213.9 L41.1,212.8 L42.2,211.8 L43.4,210.8 L44.7,209.8 L46.1,208.9 L47.7,208.0 L49.2,207.3 L50.9,206.6 L52.6,206.0 L54.3,205.5 L56.0,205.1 L57.8,204.7 L59.6,204.3 L61.5,204.0 L63.4,203.7 L65.3,203.5 L67.3,203.2 L69.3,203.0 L71.5,202.8 L73.8,202.7 L76.1,202.6 L78.5,202.5 L81.0,202.4 L83.4,202.4 L85.9,202.4 L88.3,202.5 L90.6,202.7 L93.0,203.0 L95.3,203.3 L97.6,203.7 L99.8,204.2 L102.0,204.7 L104.2,205.2 L106.2,205.8 L108.3,206.3 L110.2,206.9 L112.2,207.6 L114.2,208.3 L116.2,209.1 L118.2,209.9 L120.0,210.8 L121.8,211.7 L123.4,212.5 L124.9,213.3 L126.2,214.0 L127.2,214.5 L128.0,214.9 Z" fill="url(#scales)" opacity="0.55"/></g>
<path d="M88,206 L97,206 L93,219 L86,218 Z" fill="#17130e" filter="url(#b05)"/>
<g filter="url(#b05)"><path d="M114.0,183.5 L114.4,183.9 L114.9,184.5 L115.5,185.1 L116.1,185.9 L116.8,186.7 L117.6,187.5 L118.4,188.3 L119.2,189.1 L120.1,189.8 L121.0,190.5 L121.9,191.1 L122.8,191.7 L123.8,192.3 L124.8,192.8 L125.8,193.4 L126.9,193.9 L128.1,194.4 L129.3,194.8 L130.6,195.2 L132.0,195.5 L133.5,195.8 L135.0,196.0 L136.5,196.1 L138.1,196.2 L139.8,196.3 L141.6,196.3 L143.5,196.4 L145.5,196.4 L147.7,196.4 L150.0,196.5 L152.5,196.6 L155.2,196.6 L158.1,196.6 L161.1,196.7 L164.2,196.7 L167.4,196.7 L170.6,196.7 L173.8,196.8 L176.9,196.8 L180.0,196.8 L183.0,196.8 L186.1,196.9 L189.3,196.9 L192.4,196.9 L195.5,197.0 L198.6,197.0 L201.6,197.0 L204.5,197.0 L207.3,197.0 L210.0,197.0 L212.6,197.0 L215.1,196.9 L217.5,196.9 L219.9,196.8 L222.2,196.8 L224.4,196.7 L226.5,196.6 L228.4,196.4 L230.3,196.2 L232.0,196.0 L233.6,195.7 L235.0,195.4 L236.4,195.0 L237.6,194.6 L238.7,194.2 L239.7,193.7 L240.6,193.3 L241.5,192.8 L242.3,192.4 L243.0,192.0 L243.6,191.6 L244.2,191.1 L244.6,190.7 L244.9,190.2 L245.2,189.8 L245.4,189.3 L245.6,188.9 L245.7,188.5 L245.9,188.2 L246.0,188.0" fill="none" stroke="#8c7656" stroke-width="16" stroke-linecap="round" stroke-linejoin="round"/><path d="M119.8,178.0 L120.3,178.6 L120.9,179.2 L121.5,179.9 L122.1,180.6 L122.7,181.3 L123.3,182.0 L124.0,182.6 L124.5,183.1 L125.0,183.6 L125.6,183.9 L126.3,184.4 L127.1,184.9 L127.8,185.4 L128.6,185.8 L129.3,186.2 L130.1,186.6 L130.9,186.9 L131.7,187.2 L132.6,187.4 L133.6,187.7 L134.7,187.9 L135.9,188.0 L137.1,188.1 L138.5,188.2 L140.1,188.3 L141.8,188.3 L143.6,188.4 L145.7,188.4 L147.8,188.4 L150.2,188.5 L152.7,188.6 L155.4,188.6 L158.2,188.6 L161.2,188.7 L164.3,188.7 L167.5,188.7 L170.7,188.7 L173.9,188.8 L177.0,188.8 L180.1,188.8 L183.1,188.8 L186.2,188.9 L189.4,188.9 L192.5,188.9 L195.6,189.0 L198.6,189.0 L201.6,189.0 L204.5,189.0 L207.3,189.0 L209.9,189.0 L212.5,189.0 L215.0,188.9 L217.4,188.9 L219.7,188.8 L221.9,188.8 L224.0,188.7 L225.9,188.6 L227.7,188.4 L229.4,188.3 L230.8,188.1 L232.0,187.9 L233.1,187.6 L234.0,187.4 L234.9,187.1 L235.7,186.8 L236.4,186.5 L237.0,186.1 L237.7,185.8 L238.4,185.4 L238.8,185.2 L238.9,185.2 L238.6,185.4 L238.4,185.6 L238.2,185.8 L238.1,186.0 L238.1,186.0 L238.2,185.8 L238.4,185.4 L238.7,184.6 L239.1,183.9 L240.5,184.7 L240.2,185.3 L239.8,186.0 L239.7,186.4 L239.6,186.7 L239.5,186.7 L239.6,186.7 L239.6,186.6 L239.7,186.5 L239.8,186.4 L239.7,186.5 L239.1,186.8 L238.5,187.2 L237.8,187.6 L237.0,187.9 L236.3,188.3 L235.4,188.6 L234.5,188.9 L233.5,189.2 L232.3,189.4 L231.0,189.7 L229.5,189.9 L227.9,190.0 L226.0,190.2 L224.1,190.3 L222.0,190.4 L219.7,190.4 L217.4,190.5 L215.0,190.5 L212.5,190.6 L209.9,190.6 L207.3,190.6 L204.5,190.6 L201.6,190.6 L198.6,190.6 L195.6,190.6 L192.5,190.5 L189.3,190.5 L186.2,190.5 L183.1,190.4 L180.1,190.4 L177.0,190.4 L173.8,190.4 L170.7,190.3 L167.5,190.3 L164.3,190.3 L161.2,190.3 L158.2,190.2 L155.3,190.2 L152.6,190.2 L150.1,190.1 L147.8,190.0 L145.6,190.0 L143.6,190.0 L141.7,189.9 L140.0,189.9 L138.5,189.8 L137.0,189.7 L135.7,189.6 L134.5,189.4 L133.3,189.2 L132.2,189.0 L131.2,188.7 L130.3,188.4 L129.5,188.0 L128.6,187.6 L127.8,187.2 L127.0,186.8 L126.2,186.3 L125.4,185.7 L124.6,185.2 L124.1,184.8 L123.5,184.3 L122.8,183.7 L122.2,183.1 L121.5,182.4 L120.9,181.7 L120.3,181.0 L119.7,180.3 L119.1,179.6 L118.7,179.1 Z" fill="#35281b"/><path d="M109.3,187.9 L109.6,188.2 L110.1,188.7 L110.6,189.3 L111.3,190.1 L112.1,191.0 L113.0,191.9 L113.9,192.9 L115.0,193.9 L116.2,194.9 L117.4,195.8 L118.4,196.5 L119.4,197.1 L120.5,197.8 L121.7,198.5 L123.0,199.1 L124.3,199.7 L125.8,200.3 L127.3,200.9 L129.0,201.4 L130.7,201.8 L132.5,202.1 L134.2,202.3 L136.0,202.5 L137.8,202.6 L139.6,202.7 L141.5,202.7 L143.4,202.8 L145.4,202.8 L147.6,202.8 L149.9,202.9 L152.4,203.0 L155.1,203.0 L158.0,203.0 L161.1,203.1 L164.2,203.1 L167.4,203.1 L170.6,203.1 L173.8,203.2 L176.9,203.2 L179.9,203.2 L183.0,203.2 L186.1,203.3 L189.2,203.3 L192.3,203.3 L195.4,203.4 L198.5,203.4 L201.6,203.4 L204.5,203.4 L207.4,203.4 L210.1,203.4 L212.7,203.4 L215.2,203.3 L217.7,203.3 L220.1,203.2 L222.4,203.2 L224.7,203.1 L226.9,202.9 L229.0,202.8 L231.0,202.6 L233.0,202.3 L234.8,202.0 L236.6,201.6 L238.2,201.1 L239.7,200.6 L241.1,200.1 L242.4,199.6 L243.5,199.0 L244.5,198.5 L245.4,198.0 L246.3,197.5 L247.5,196.7 L248.6,195.8 L249.5,194.7 L250.3,193.7 L250.8,192.8 L251.2,192.0 L251.5,191.4 L251.6,191.1 L251.5,191.2 L251.5,191.3 L252.9,192.1 L253.0,191.9 L253.1,191.7 L253.0,192.0 L252.7,192.6 L252.2,193.5 L251.6,194.6 L250.8,195.7 L249.7,196.9 L248.4,198.0 L247.2,198.8 L246.2,199.4 L245.3,199.9 L244.2,200.4 L243.0,201.0 L241.7,201.6 L240.3,202.1 L238.7,202.7 L237.0,203.1 L235.2,203.6 L233.2,203.9 L231.2,204.2 L229.1,204.4 L227.0,204.5 L224.8,204.7 L222.5,204.8 L220.1,204.8 L217.7,204.9 L215.2,204.9 L212.7,205.0 L210.1,205.0 L207.4,205.0 L204.5,205.0 L201.6,205.0 L198.5,205.0 L195.4,205.0 L192.3,204.9 L189.2,204.9 L186.0,204.9 L183.0,204.8 L179.9,204.8 L176.9,204.8 L173.8,204.8 L170.6,204.7 L167.4,204.7 L164.2,204.7 L161.1,204.7 L158.0,204.6 L155.1,204.6 L152.4,204.6 L149.8,204.5 L147.5,204.4 L145.4,204.4 L143.4,204.4 L141.4,204.3 L139.5,204.3 L137.7,204.2 L135.9,204.1 L134.0,203.9 L132.2,203.7 L130.4,203.3 L128.6,202.9 L126.8,202.4 L125.2,201.8 L123.7,201.2 L122.3,200.6 L121.0,199.9 L119.7,199.2 L118.6,198.5 L117.5,197.8 L116.4,197.1 L115.2,196.1 L113.9,195.1 L112.8,194.1 L111.8,193.0 L110.9,192.1 L110.1,191.2 L109.4,190.4 L108.8,189.7 L108.5,189.3 L108.2,189.0 Z" fill="#35281b"/><path d="M118.7,179.1 L119.1,179.6 L119.7,180.3 L120.3,181.0 L120.9,181.7 L121.5,182.4 L122.2,183.1 L122.8,183.7 L123.5,184.3 L124.1,184.8 L124.6,185.2 L125.4,185.7 L126.2,186.3 L127.0,186.8 L127.8,187.2 L128.6,187.6 L129.5,188.0 L130.3,188.4 L131.2,188.7 L132.2,189.0 L133.3,189.2 L134.5,189.4 L135.7,189.6 L137.0,189.7 L138.5,189.8 L140.0,189.9 L141.7,189.9 L143.6,190.0 L145.6,190.0 L147.8,190.0 L150.1,190.1 L152.6,190.2 L155.3,190.2 L158.2,190.2 L161.2,190.3 L164.3,190.3 L167.5,190.3 L170.7,190.3 L173.8,190.4 L177.0,190.4 L180.1,190.4 L183.1,190.4 L186.2,190.5 L189.3,190.5 L192.5,190.5 L195.6,190.6 L198.6,190.6 L201.6,190.6 L204.5,190.6 L207.3,190.6 L209.9,190.6 L212.5,190.6 L215.0,190.5 L217.4,190.5 L219.7,190.4 L222.0,190.4 L224.1,190.3 L226.0,190.2 L227.9,190.0 L229.5,189.9 L231.0,189.7 L232.3,189.4 L233.5,189.2 L234.5,188.9 L235.4,188.6 L236.3,188.3 L237.0,187.9 L237.8,187.6 L238.5,187.2 L239.1,186.8 L239.7,186.5 L239.8,186.4 L239.7,186.5 L239.6,186.6 L239.6,186.7 L239.5,186.7 L239.6,186.7 L239.7,186.4 L239.8,186.0 L240.2,185.3 L240.5,184.7 L245.0,187.4 L244.8,187.7 L244.6,188.1 L244.5,188.4 L244.3,188.8 L244.1,189.2 L243.9,189.6 L243.7,189.9 L243.3,190.3 L242.9,190.6 L242.4,191.0 L241.7,191.4 L240.9,191.8 L240.1,192.2 L239.2,192.7 L238.2,193.1 L237.2,193.5 L236.0,193.9 L234.7,194.2 L233.3,194.5 L231.8,194.8 L230.1,195.0 L228.3,195.2 L226.4,195.4 L224.3,195.5 L222.1,195.6 L219.9,195.6 L217.5,195.7 L215.1,195.7 L212.6,195.8 L210.0,195.8 L207.3,195.8 L204.5,195.8 L201.6,195.8 L198.6,195.8 L195.5,195.8 L192.4,195.7 L189.3,195.7 L186.1,195.7 L183.0,195.6 L180.0,195.6 L177.0,195.6 L173.8,195.6 L170.6,195.5 L167.4,195.5 L164.3,195.5 L161.1,195.5 L158.1,195.4 L155.3,195.4 L152.5,195.4 L150.0,195.3 L147.7,195.2 L145.5,195.2 L143.5,195.2 L141.6,195.1 L139.9,195.1 L138.2,195.0 L136.6,194.9 L135.1,194.8 L133.6,194.6 L132.2,194.3 L130.9,194.0 L129.7,193.6 L128.5,193.2 L127.4,192.8 L126.3,192.3 L125.3,191.8 L124.4,191.2 L123.5,190.7 L122.6,190.1 L121.7,189.5 L120.8,188.9 L120.0,188.2 L119.2,187.5 L118.4,186.7 L117.7,185.9 L117.0,185.1 L116.4,184.4 L115.8,183.7 L115.3,183.1 L114.9,182.7 Z" fill="#8c7450"/><path d="M114.9,182.7 L115.3,183.1 L115.8,183.7 L116.4,184.4 L117.0,185.1 L117.7,185.9 L118.4,186.7 L119.2,187.5 L120.0,188.2 L120.8,188.9 L121.7,189.5 L122.6,190.1 L123.5,190.7 L124.4,191.2 L125.3,191.8 L126.3,192.3 L127.4,192.8 L128.5,193.2 L129.7,193.6 L130.9,194.0 L132.2,194.3 L133.6,194.6 L135.1,194.8 L136.6,194.9 L138.2,195.0 L139.9,195.1 L141.6,195.1 L143.5,195.2 L145.5,195.2 L147.7,195.2 L150.0,195.3 L152.5,195.4 L155.3,195.4 L158.1,195.4 L161.1,195.5 L164.3,195.5 L167.4,195.5 L170.6,195.5 L173.8,195.6 L177.0,195.6 L180.0,195.6 L183.0,195.6 L186.1,195.7 L189.3,195.7 L192.4,195.7 L195.5,195.8 L198.6,195.8 L201.6,195.8 L204.5,195.8 L207.3,195.8 L210.0,195.8 L212.6,195.8 L215.1,195.7 L217.5,195.7 L219.9,195.6 L222.1,195.6 L224.3,195.5 L226.4,195.4 L228.3,195.2 L230.1,195.0 L231.8,194.8 L233.3,194.5 L234.7,194.2 L236.0,193.9 L237.2,193.5 L238.2,193.1 L239.2,192.7 L240.1,192.2 L240.9,191.8 L241.7,191.4 L242.4,191.0 L242.9,190.6 L243.3,190.3 L243.7,189.9 L243.9,189.6 L244.1,189.2 L244.3,188.8 L244.5,188.4 L244.6,188.1 L244.8,187.7 L245.0,187.4 L246.3,188.2 L246.2,188.4 L246.1,188.7 L245.9,189.1 L245.8,189.5 L245.5,189.9 L245.3,190.4 L244.9,190.9 L244.4,191.4 L243.9,191.9 L243.2,192.3 L242.5,192.8 L241.7,193.2 L240.8,193.7 L239.9,194.1 L238.8,194.6 L237.7,195.0 L236.5,195.4 L235.1,195.8 L233.7,196.1 L232.1,196.4 L230.3,196.6 L228.5,196.8 L226.5,197.0 L224.4,197.1 L222.2,197.2 L219.9,197.2 L217.5,197.3 L215.1,197.3 L212.6,197.4 L210.0,197.4 L207.3,197.4 L204.5,197.4 L201.6,197.4 L198.6,197.4 L195.5,197.4 L192.4,197.3 L189.2,197.3 L186.1,197.3 L183.0,197.2 L180.0,197.2 L176.9,197.2 L173.8,197.2 L170.6,197.1 L167.4,197.1 L164.2,197.1 L161.1,197.1 L158.1,197.0 L155.2,197.0 L152.5,197.0 L150.0,196.9 L147.7,196.8 L145.5,196.8 L143.5,196.8 L141.6,196.7 L139.8,196.7 L138.1,196.6 L136.5,196.5 L134.9,196.4 L133.4,196.2 L131.9,195.9 L130.5,195.6 L129.2,195.2 L127.9,194.7 L126.7,194.3 L125.6,193.7 L124.6,193.2 L123.6,192.6 L122.6,192.0 L121.7,191.4 L120.8,190.8 L119.9,190.2 L119.0,189.4 L118.1,188.6 L117.3,187.8 L116.5,187.0 L115.8,186.2 L115.2,185.4 L114.6,184.7 L114.1,184.2 L113.7,183.8 Z" fill="#4a3a26"/><path d="M113.7,183.8 L114.1,184.2 L114.6,184.7 L115.2,185.4 L115.8,186.2 L116.5,187.0 L117.3,187.8 L118.1,188.6 L119.0,189.4 L119.9,190.2 L120.8,190.8 L121.7,191.4 L122.6,192.0 L123.6,192.6 L124.6,193.2 L125.6,193.7 L126.7,194.3 L127.9,194.7 L129.2,195.2 L130.5,195.6 L131.9,195.9 L133.4,196.2 L134.9,196.4 L136.5,196.5 L138.1,196.6 L139.8,196.7 L141.6,196.7 L143.5,196.8 L145.5,196.8 L147.7,196.8 L150.0,196.9 L152.5,197.0 L155.2,197.0 L158.1,197.0 L161.1,197.1 L164.2,197.1 L167.4,197.1 L170.6,197.1 L173.8,197.2 L176.9,197.2 L180.0,197.2 L183.0,197.2 L186.1,197.3 L189.2,197.3 L192.4,197.3 L195.5,197.4 L198.6,197.4 L201.6,197.4 L204.5,197.4 L207.3,197.4 L210.0,197.4 L212.6,197.4 L215.1,197.3 L217.5,197.3 L219.9,197.2 L222.2,197.2 L224.4,197.1 L226.5,197.0 L228.5,196.8 L230.3,196.6 L232.1,196.4 L233.7,196.1 L235.1,195.8 L236.5,195.4 L237.7,195.0 L238.8,194.6 L239.9,194.1 L240.8,193.7 L241.7,193.2 L242.5,192.8 L243.2,192.3 L243.9,191.9 L244.4,191.4 L244.9,190.9 L245.3,190.4 L245.5,189.9 L245.8,189.5 L245.9,189.1 L246.1,188.7 L246.2,188.4 L246.3,188.2 L251.5,191.3 L251.5,191.2 L251.6,191.1 L251.5,191.4 L251.2,192.0 L250.8,192.8 L250.3,193.7 L249.5,194.7 L248.6,195.8 L247.5,196.7 L246.3,197.5 L245.4,198.0 L244.5,198.5 L243.5,199.0 L242.4,199.6 L241.1,200.1 L239.7,200.6 L238.2,201.1 L236.6,201.6 L234.8,202.0 L233.0,202.3 L231.0,202.6 L229.0,202.8 L226.9,202.9 L224.7,203.1 L222.4,203.2 L220.1,203.2 L217.7,203.3 L215.2,203.3 L212.7,203.4 L210.1,203.4 L207.4,203.4 L204.5,203.4 L201.6,203.4 L198.5,203.4 L195.4,203.4 L192.3,203.3 L189.2,203.3 L186.1,203.3 L183.0,203.2 L179.9,203.2 L176.9,203.2 L173.8,203.2 L170.6,203.1 L167.4,203.1 L164.2,203.1 L161.1,203.1 L158.0,203.0 L155.1,203.0 L152.4,203.0 L149.9,202.9 L147.6,202.8 L145.4,202.8 L143.4,202.8 L141.5,202.7 L139.6,202.7 L137.8,202.6 L136.0,202.5 L134.2,202.3 L132.5,202.1 L130.7,201.8 L129.0,201.4 L127.3,200.9 L125.8,200.3 L124.3,199.7 L123.0,199.1 L121.7,198.5 L120.5,197.8 L119.4,197.1 L118.4,196.5 L117.4,195.8 L116.2,194.9 L115.0,193.9 L113.9,192.9 L113.0,191.9 L112.1,191.0 L111.3,190.1 L110.6,189.3 L110.1,188.7 L109.6,188.2 L109.3,187.9 Z" fill="#bca882"/><path d="M119.0,178.9 L119.4,179.4 L120.0,180.0 L120.6,180.7 L121.2,181.4 L121.8,182.1 L122.5,182.8 L123.1,183.4 L123.7,184.0 L124.3,184.5 L124.9,184.9 L125.6,185.4 L126.4,185.9 L127.2,186.4 L128.0,186.9 L128.8,187.3 L129.6,187.7 L130.5,188.0 L131.4,188.3 L132.3,188.6 L133.4,188.8 L134.5,189.0 L135.7,189.2 L137.1,189.3 L138.5,189.4 L140.0,189.5 L141.8,189.5 L143.6,189.6 L145.6,189.6 L147.8,189.6 L150.2,189.7 L152.7,189.8 L155.3,189.8 L158.2,189.8 L161.2,189.9 L164.3,189.9 L167.5,189.9 L170.7,189.9 L173.8,190.0 L177.0,190.0 L180.1,190.0 L183.1,190.0 L186.2,190.1 L189.3,190.1 L192.5,190.1 L195.6,190.2 L198.6,190.2 L201.6,190.2 L204.5,190.2 L207.3,190.2 L209.9,190.2 L212.5,190.2 L215.0,190.1 L217.4,190.1 L219.7,190.0 L221.9,190.0 L224.1,189.9 L226.0,189.8 L227.8,189.6 L229.5,189.5 L231.0,189.3 L232.2,189.1 L233.4,188.8 L234.4,188.5 L235.3,188.2 L236.1,187.9 L236.9,187.6 L237.6,187.2 L238.3,186.9 L238.9,186.5 L239.5,186.2 L239.6,186.1 L239.4,186.2 L239.3,186.4 L239.2,186.5 L239.2,186.5 L239.2,186.5 L239.3,186.3 L239.5,185.9 L239.8,185.1 L240.2,184.5 L251.8,191.5 L251.9,191.3 L252.0,191.2 L251.8,191.5 L251.6,192.1 L251.2,193.0 L250.6,193.9 L249.8,195.0 L248.9,196.0 L247.7,197.0 L246.5,197.8 L245.6,198.3 L244.7,198.8 L243.7,199.4 L242.5,199.9 L241.3,200.5 L239.9,201.0 L238.3,201.5 L236.7,202.0 L234.9,202.4 L233.0,202.7 L231.1,203.0 L229.0,203.2 L226.9,203.3 L224.7,203.5 L222.4,203.6 L220.1,203.6 L217.7,203.7 L215.2,203.7 L212.7,203.8 L210.1,203.8 L207.4,203.8 L204.5,203.8 L201.6,203.8 L198.5,203.8 L195.4,203.8 L192.3,203.7 L189.2,203.7 L186.0,203.7 L183.0,203.6 L179.9,203.6 L176.9,203.6 L173.8,203.6 L170.6,203.5 L167.4,203.5 L164.2,203.5 L161.1,203.5 L158.0,203.4 L155.1,203.4 L152.4,203.4 L149.8,203.3 L147.5,203.2 L145.4,203.2 L143.4,203.2 L141.4,203.1 L139.6,203.1 L137.8,203.0 L136.0,202.9 L134.2,202.7 L132.4,202.5 L130.6,202.2 L128.9,201.7 L127.2,201.3 L125.6,200.7 L124.2,200.1 L122.8,199.5 L121.5,198.8 L120.3,198.1 L119.2,197.5 L118.2,196.8 L117.1,196.1 L115.9,195.2 L114.7,194.2 L113.6,193.2 L112.7,192.2 L111.8,191.3 L111.0,190.4 L110.3,189.6 L109.8,188.9 L109.4,188.5 L109.0,188.1 Z" fill="url(#scales)" opacity="0.55"/></g>
<g filter="url(#b05)"><path d="M74.0,149.0 L74.6,149.2 L75.4,149.4 L76.3,149.7 L77.3,150.0 L78.4,150.4 L79.5,150.8 L80.7,151.2 L81.8,151.6 L83.0,152.0 L84.0,152.5 L85.0,153.0 L86.0,153.5 L87.1,154.1 L88.1,154.6 L89.1,155.2 L90.1,155.8 L91.1,156.5 L92.1,157.1 L93.1,157.8 L94.0,158.5 L94.9,159.2 L95.8,160.0 L96.6,160.7 L97.4,161.5 L98.2,162.3 L99.0,163.1 L99.8,164.0 L100.6,164.8 L101.3,165.7 L102.0,166.5 L102.7,167.4 L103.3,168.3 L104.0,169.2 L104.6,170.1 L105.2,171.0 L105.8,172.0 L106.3,172.9 L106.9,173.8 L107.4,174.7 L108.0,175.5 L108.5,176.3 L109.1,177.1 L109.6,177.9 L110.1,178.7 L110.6,179.5 L111.1,180.3 L111.6,181.0 L112.1,181.7 L112.5,182.4 L113.0,183.0 L113.5,183.6 L113.9,184.2 L114.4,184.8 L114.9,185.4 L115.3,186.0 L115.7,186.5 L116.1,186.9 L116.5,187.4 L116.8,187.7 L117.0,188.0" fill="none" stroke="#8c7656" stroke-width="12.5" stroke-linecap="round" stroke-linejoin="round"/><path d="M76.0,143.1 L76.5,143.2 L77.2,143.5 L78.1,143.7 L79.1,144.1 L80.3,144.4 L81.5,144.8 L82.8,145.3 L84.1,145.8 L85.4,146.3 L86.6,146.8 L87.8,147.4 L88.9,148.0 L90.0,148.6 L91.2,149.2 L92.3,149.8 L93.4,150.5 L94.6,151.2 L95.7,152.0 L96.8,152.8 L97.8,153.6 L98.9,154.4 L99.9,155.3 L100.9,156.1 L101.8,157.0 L102.7,157.9 L103.6,158.8 L104.4,159.8 L105.3,160.7 L106.1,161.6 L106.8,162.6 L107.7,163.6 L108.4,164.6 L109.2,165.7 L109.8,166.7 L110.5,167.7 L111.1,168.7 L111.6,169.6 L112.2,170.5 L112.7,171.3 L113.2,172.1 L113.8,172.9 L114.3,173.7 L114.8,174.5 L115.4,175.3 L115.9,176.1 L116.3,176.8 L116.8,177.5 L117.2,178.2 L117.7,178.8 L118.1,179.3 L118.5,179.9 L118.9,180.4 L119.3,181.0 L119.7,181.5 L120.1,182.0 L120.5,182.5 L120.9,182.9 L121.3,183.4 L121.6,183.7 L121.8,184.0 L120.9,184.8 L120.6,184.5 L120.3,184.2 L120.0,183.7 L119.6,183.3 L119.2,182.8 L118.7,182.3 L118.3,181.7 L117.9,181.2 L117.5,180.6 L117.1,180.1 L116.6,179.5 L116.2,178.9 L115.8,178.2 L115.3,177.5 L114.8,176.8 L114.3,176.0 L113.8,175.2 L113.3,174.4 L112.7,173.6 L112.2,172.8 L111.7,172.0 L111.1,171.1 L110.6,170.2 L110.0,169.3 L109.4,168.4 L108.8,167.4 L108.1,166.4 L107.4,165.4 L106.7,164.3 L105.9,163.3 L105.1,162.4 L104.3,161.5 L103.5,160.6 L102.7,159.7 L101.8,158.8 L100.9,157.9 L100.0,157.0 L99.1,156.2 L98.1,155.4 L97.1,154.6 L96.0,153.8 L95.0,153.0 L93.9,152.3 L92.8,151.6 L91.7,150.9 L90.6,150.3 L89.4,149.7 L88.3,149.1 L87.2,148.5 L86.1,148.0 L84.9,147.4 L83.6,146.9 L82.4,146.4 L81.1,146.0 L79.9,145.6 L78.8,145.3 L77.7,144.9 L76.8,144.7 L76.1,144.4 L75.6,144.3 Z" fill="#35281b"/><path d="M72.4,153.7 L73.1,154.0 L73.9,154.2 L74.8,154.5 L75.8,154.8 L76.8,155.1 L77.9,155.5 L79.0,155.9 L80.0,156.2 L81.0,156.6 L81.9,157.0 L82.8,157.5 L83.7,157.9 L84.7,158.5 L85.6,159.0 L86.6,159.5 L87.5,160.1 L88.4,160.7 L89.3,161.2 L90.1,161.8 L90.9,162.4 L91.7,163.1 L92.5,163.7 L93.2,164.4 L94.0,165.1 L94.7,165.8 L95.4,166.6 L96.1,167.3 L96.8,168.1 L97.5,168.9 L98.1,169.7 L98.7,170.4 L99.3,171.2 L99.8,172.0 L100.4,172.8 L101.0,173.7 L101.5,174.6 L102.1,175.5 L102.7,176.4 L103.2,177.4 L103.8,178.2 L104.4,179.1 L104.9,179.9 L105.4,180.7 L105.9,181.5 L106.4,182.2 L107.0,183.0 L107.5,183.8 L108.0,184.5 L108.4,185.2 L108.9,185.9 L109.5,186.6 L110.0,187.3 L110.5,187.9 L111.0,188.6 L111.5,189.1 L111.9,189.7 L112.3,190.2 L112.6,190.6 L112.9,190.9 L113.1,191.2 L112.2,192.0 L111.9,191.7 L111.7,191.4 L111.3,191.0 L110.9,190.5 L110.5,189.9 L110.0,189.4 L109.5,188.7 L109.0,188.1 L108.5,187.4 L107.9,186.7 L107.4,185.9 L106.9,185.2 L106.4,184.5 L105.9,183.7 L105.4,182.9 L104.9,182.1 L104.4,181.4 L103.9,180.6 L103.3,179.8 L102.8,178.9 L102.2,178.0 L101.6,177.1 L101.0,176.2 L100.5,175.3 L99.9,174.4 L99.4,173.5 L98.8,172.7 L98.3,171.9 L97.7,171.2 L97.2,170.4 L96.5,169.7 L95.9,168.9 L95.2,168.2 L94.5,167.4 L93.8,166.7 L93.1,166.0 L92.4,165.3 L91.6,164.7 L90.9,164.0 L90.2,163.4 L89.4,162.9 L88.6,162.3 L87.7,161.7 L86.8,161.1 L85.9,160.6 L85.0,160.1 L84.1,159.6 L83.2,159.1 L82.2,158.6 L81.4,158.2 L80.5,157.8 L79.6,157.4 L78.6,157.0 L77.5,156.7 L76.5,156.3 L75.4,156.0 L74.4,155.7 L73.5,155.4 L72.7,155.1 L72.0,154.9 Z" fill="#35281b"/><path d="M75.6,144.3 L76.1,144.4 L76.8,144.7 L77.7,144.9 L78.8,145.3 L79.9,145.6 L81.1,146.0 L82.4,146.4 L83.6,146.9 L84.9,147.4 L86.1,148.0 L87.2,148.5 L88.3,149.1 L89.4,149.7 L90.6,150.3 L91.7,150.9 L92.8,151.6 L93.9,152.3 L95.0,153.0 L96.0,153.8 L97.1,154.6 L98.1,155.4 L99.1,156.2 L100.0,157.0 L100.9,157.9 L101.8,158.8 L102.7,159.7 L103.5,160.6 L104.3,161.5 L105.1,162.4 L105.9,163.3 L106.7,164.3 L107.4,165.4 L108.1,166.4 L108.8,167.4 L109.4,168.4 L110.0,169.3 L110.6,170.2 L111.1,171.1 L111.7,172.0 L112.2,172.8 L112.7,173.6 L113.3,174.4 L113.8,175.2 L114.3,176.0 L114.8,176.8 L115.3,177.5 L115.8,178.2 L116.2,178.9 L116.6,179.5 L117.1,180.1 L117.5,180.6 L117.9,181.2 L118.3,181.7 L118.7,182.3 L119.2,182.8 L119.6,183.3 L120.0,183.7 L120.3,184.2 L120.6,184.5 L120.9,184.8 L117.7,187.4 L117.5,187.1 L117.2,186.8 L116.8,186.3 L116.5,185.9 L116.0,185.4 L115.6,184.8 L115.1,184.3 L114.7,183.7 L114.2,183.1 L113.8,182.5 L113.3,181.8 L112.9,181.2 L112.4,180.5 L111.9,179.7 L111.4,179.0 L110.9,178.2 L110.4,177.4 L109.9,176.6 L109.3,175.8 L108.8,175.0 L108.2,174.1 L107.7,173.3 L107.1,172.4 L106.6,171.5 L106.0,170.5 L105.4,169.6 L104.8,168.6 L104.1,167.7 L103.4,166.8 L102.7,165.9 L102.0,165.0 L101.3,164.2 L100.5,163.3 L99.7,162.5 L98.9,161.7 L98.1,160.8 L97.2,160.0 L96.4,159.3 L95.5,158.5 L94.6,157.8 L93.6,157.1 L92.7,156.4 L91.7,155.7 L90.6,155.0 L89.6,154.4 L88.6,153.8 L87.5,153.2 L86.5,152.7 L85.4,152.1 L84.4,151.7 L83.3,151.2 L82.2,150.7 L81.0,150.3 L79.8,149.9 L78.7,149.5 L77.6,149.1 L76.5,148.8 L75.6,148.5 L74.9,148.3 L74.3,148.1 Z" fill="#8c7450"/><path d="M74.3,148.1 L74.9,148.3 L75.6,148.5 L76.5,148.8 L77.6,149.1 L78.7,149.5 L79.8,149.9 L81.0,150.3 L82.2,150.7 L83.3,151.2 L84.4,151.7 L85.4,152.1 L86.5,152.7 L87.5,153.2 L88.6,153.8 L89.6,154.4 L90.6,155.0 L91.7,155.7 L92.7,156.4 L93.6,157.1 L94.6,157.8 L95.5,158.5 L96.4,159.3 L97.2,160.0 L98.1,160.8 L98.9,161.7 L99.7,162.5 L100.5,163.3 L101.3,164.2 L102.0,165.0 L102.7,165.9 L103.4,166.8 L104.1,167.7 L104.8,168.6 L105.4,169.6 L106.0,170.5 L106.6,171.5 L107.1,172.4 L107.7,173.3 L108.2,174.1 L108.8,175.0 L109.3,175.8 L109.9,176.6 L110.4,177.4 L110.9,178.2 L111.4,179.0 L111.9,179.7 L112.4,180.5 L112.9,181.2 L113.3,181.8 L113.8,182.5 L114.2,183.1 L114.7,183.7 L115.1,184.3 L115.6,184.8 L116.0,185.4 L116.5,185.9 L116.8,186.3 L117.2,186.8 L117.5,187.1 L117.7,187.4 L116.8,188.2 L116.5,187.9 L116.2,187.6 L115.9,187.1 L115.5,186.7 L115.1,186.2 L114.6,185.6 L114.2,185.0 L113.7,184.4 L113.2,183.8 L112.7,183.2 L112.3,182.5 L111.8,181.9 L111.3,181.2 L110.9,180.4 L110.4,179.7 L109.9,178.9 L109.3,178.1 L108.8,177.3 L108.3,176.5 L107.7,175.7 L107.2,174.8 L106.6,173.9 L106.1,173.0 L105.5,172.1 L104.9,171.2 L104.3,170.3 L103.7,169.3 L103.1,168.4 L102.4,167.6 L101.8,166.7 L101.1,165.9 L100.3,165.0 L99.6,164.2 L98.8,163.3 L98.0,162.5 L97.2,161.7 L96.4,161.0 L95.6,160.2 L94.7,159.5 L93.8,158.7 L92.9,158.1 L92.0,157.4 L91.0,156.7 L90.0,156.1 L89.0,155.5 L87.9,154.9 L86.9,154.3 L85.9,153.8 L84.9,153.3 L83.9,152.8 L82.8,152.3 L81.7,151.9 L80.6,151.5 L79.4,151.0 L78.3,150.7 L77.2,150.3 L76.2,150.0 L75.3,149.7 L74.5,149.5 L73.9,149.3 Z" fill="#4a3a26"/><path d="M73.9,149.3 L74.5,149.5 L75.3,149.7 L76.2,150.0 L77.2,150.3 L78.3,150.7 L79.4,151.0 L80.6,151.5 L81.7,151.9 L82.8,152.3 L83.9,152.8 L84.9,153.3 L85.9,153.8 L86.9,154.3 L87.9,154.9 L89.0,155.5 L90.0,156.1 L91.0,156.7 L92.0,157.4 L92.9,158.1 L93.8,158.7 L94.7,159.5 L95.6,160.2 L96.4,161.0 L97.2,161.7 L98.0,162.5 L98.8,163.3 L99.6,164.2 L100.3,165.0 L101.1,165.9 L101.8,166.7 L102.4,167.6 L103.1,168.4 L103.7,169.3 L104.3,170.3 L104.9,171.2 L105.5,172.1 L106.1,173.0 L106.6,173.9 L107.2,174.8 L107.7,175.7 L108.3,176.5 L108.8,177.3 L109.3,178.1 L109.9,178.9 L110.4,179.7 L110.9,180.4 L111.3,181.2 L111.8,181.9 L112.3,182.5 L112.7,183.2 L113.2,183.8 L113.7,184.4 L114.2,185.0 L114.6,185.6 L115.1,186.2 L115.5,186.7 L115.9,187.1 L116.2,187.6 L116.5,187.9 L116.8,188.2 L113.1,191.2 L112.9,190.9 L112.6,190.6 L112.3,190.2 L111.9,189.7 L111.5,189.1 L111.0,188.6 L110.5,187.9 L110.0,187.3 L109.5,186.6 L108.9,185.9 L108.4,185.2 L108.0,184.5 L107.5,183.8 L107.0,183.0 L106.4,182.2 L105.9,181.5 L105.4,180.7 L104.9,179.9 L104.4,179.1 L103.8,178.2 L103.2,177.4 L102.7,176.4 L102.1,175.5 L101.5,174.6 L101.0,173.7 L100.4,172.8 L99.8,172.0 L99.3,171.2 L98.7,170.4 L98.1,169.7 L97.5,168.9 L96.8,168.1 L96.1,167.3 L95.4,166.6 L94.7,165.8 L94.0,165.1 L93.2,164.4 L92.5,163.7 L91.7,163.1 L90.9,162.4 L90.1,161.8 L89.3,161.2 L88.4,160.7 L87.5,160.1 L86.6,159.5 L85.6,159.0 L84.7,158.5 L83.7,157.9 L82.8,157.5 L81.9,157.0 L81.0,156.6 L80.0,156.2 L79.0,155.9 L77.9,155.5 L76.8,155.1 L75.8,154.8 L74.8,154.5 L73.9,154.2 L73.1,154.0 L72.4,153.7 Z" fill="#c2ae88"/><path d="M75.7,144.0 L76.2,144.1 L76.9,144.4 L77.8,144.6 L78.9,145.0 L80.0,145.3 L81.2,145.7 L82.5,146.2 L83.8,146.6 L85.0,147.1 L86.2,147.7 L87.4,148.2 L88.5,148.8 L89.6,149.4 L90.7,150.0 L91.8,150.6 L92.9,151.3 L94.1,152.0 L95.1,152.8 L96.2,153.5 L97.3,154.3 L98.3,155.1 L99.3,156.0 L100.2,156.8 L101.1,157.7 L102.0,158.6 L102.9,159.5 L103.7,160.4 L104.6,161.3 L105.3,162.2 L106.1,163.1 L106.9,164.1 L107.7,165.2 L108.4,166.2 L109.0,167.2 L109.7,168.2 L110.3,169.2 L110.9,170.1 L111.4,171.0 L111.9,171.8 L112.4,172.6 L113.0,173.4 L113.5,174.2 L114.1,175.0 L114.6,175.8 L115.1,176.6 L115.6,177.3 L116.0,178.0 L116.5,178.7 L116.9,179.3 L117.3,179.9 L117.7,180.4 L118.1,181.0 L118.6,181.5 L119.0,182.1 L119.4,182.6 L119.8,183.1 L120.2,183.5 L120.5,184.0 L120.9,184.3 L121.1,184.6 L112.9,191.4 L112.7,191.1 L112.4,190.8 L112.1,190.4 L111.7,189.9 L111.2,189.3 L110.7,188.8 L110.2,188.1 L109.7,187.5 L109.2,186.8 L108.7,186.1 L108.2,185.4 L107.7,184.7 L107.2,183.9 L106.7,183.2 L106.2,182.4 L105.7,181.6 L105.2,180.8 L104.6,180.0 L104.1,179.2 L103.6,178.4 L103.0,177.5 L102.4,176.6 L101.8,175.7 L101.3,174.8 L100.7,173.9 L100.1,173.0 L99.6,172.2 L99.0,171.4 L98.5,170.6 L97.9,169.9 L97.2,169.1 L96.6,168.3 L95.9,167.5 L95.2,166.8 L94.5,166.0 L93.7,165.3 L93.0,164.6 L92.3,164.0 L91.5,163.3 L90.7,162.7 L89.9,162.1 L89.1,161.5 L88.2,160.9 L87.3,160.3 L86.4,159.8 L85.5,159.2 L84.5,158.7 L83.6,158.2 L82.6,157.7 L81.8,157.3 L80.9,156.9 L79.9,156.5 L78.9,156.2 L77.8,155.8 L76.7,155.4 L75.7,155.1 L74.7,154.8 L73.8,154.5 L73.0,154.3 L72.3,154.0 Z" fill="url(#scales)" opacity="0.55"/></g>
<g filter="url(#b05)">
<path d="M53.5,143.6 C54,141.5 57,141.2 62,141.4 C70,141.8 78,143.5 86,147 C92,149.5 96,152 98,154 L97,164 C90,162 84,160.5 78,159 C70,157 62,152 57,148.5 C55,147 53.5,145.5 53.5,143.6 Z" fill="#2a2218"/>
<path d="M55,145.2 C60,146.8 66,148.5 72,150 C80,152.2 88,155.2 97,158.7" fill="none" stroke="#d2c8b0" stroke-width="3.4"/>
<circle cx="57.5" cy="147.0" r="0.8" fill="#3a3024" opacity="0.6"/>
<circle cx="61.7" cy="148.4" r="0.8" fill="#3a3024" opacity="0.6"/>
<circle cx="66.3" cy="148.9" r="0.8" fill="#3a3024" opacity="0.6"/>
<circle cx="69.0" cy="150.9" r="0.8" fill="#3a3024" opacity="0.6"/>
<circle cx="73.5" cy="151.3" r="0.8" fill="#3a3024" opacity="0.6"/>
<circle cx="79.0" cy="153.3" r="0.8" fill="#3a3024" opacity="0.6"/>
<circle cx="82.7" cy="154.5" r="0.8" fill="#3a3024" opacity="0.6"/>
<circle cx="86.3" cy="155.0" r="0.8" fill="#3a3024" opacity="0.6"/>
<circle cx="90.3" cy="157.4" r="0.8" fill="#3a3024" opacity="0.6"/>
<circle cx="94.0" cy="158.3" r="0.8" fill="#3a3024" opacity="0.6"/>
<ellipse cx="54.5" cy="143.8" rx="1.8" ry="1.5" fill="#c8b070"/>
<ellipse cx="70" cy="144.8" rx="3" ry="1.2" fill="#a89470"/>
</g>
<!-- grass blades -->
<path d="M251,219 L247,232" stroke="#6a9a30" stroke-width="1.5" filter="url(#b05)"/>
<path d="M170,244 L172,256" stroke="#6a9a30" stroke-width="1.5" filter="url(#b05)"/>
<!-- tail tip -->
<path d="M30,251 L41,246.5" stroke="#b07840" stroke-width="1.8"/>
</g>

</g>
<!-- photo C -->
<g id="photoC">
<rect x="28.6" y="258" width="229.9" height="119" fill="#5a4535"/>
<g clip-path="url(#clipC)">
<rect x="28.6" y="258" width="229.9" height="119" fill="url(#bgC)"/>
<g filter="url(#b8)">
<rect x="20" y="250" width="24" height="130" fill="#41352e"/>
<ellipse cx="135" cy="372" rx="40" ry="16" fill="#7e6a5c"/>
<ellipse cx="72" cy="340" rx="26" ry="30" fill="#66584c"/>
<ellipse cx="232" cy="362" rx="40" ry="22" fill="#5a6a3c"/>
<ellipse cx="200" cy="262" rx="70" ry="9" fill="#6e6c5a"/>
<ellipse cx="254" cy="300" rx="12" ry="35" fill="#5e6c3e"/>
</g>
<g filter="url(#b1)">
<path d="M17.5,221.9 L19.3,222.8 L21.7,224.1 L24.6,225.6 L27.8,227.3 L31.2,229.1 L34.8,231.0 L38.3,232.9 L41.8,234.7 L45.0,236.5 L47.8,238.0 L50.3,239.5 L52.7,240.8 L54.9,242.1 L57.0,243.4 L59.0,244.6 L60.9,245.7 L62.7,246.9 L64.6,248.0 L66.4,249.2 L68.5,250.4 L70.7,251.8 L72.9,253.2 L75.0,254.7 L77.0,256.0 L78.9,257.3 L80.7,258.5 L82.4,259.6 L84.0,260.5 L85.4,261.3 L86.8,262.0 L88.2,262.6 L89.7,263.2 L91.2,263.8 L92.8,264.3 L94.4,264.8 L96.0,265.2 L97.6,265.7 L99.4,266.0 L101.2,266.4 L102.9,266.8 L104.5,267.0 L106.1,267.3 L107.8,267.5 L109.6,267.6 L111.5,267.8 L113.4,267.9 L115.4,268.0 L117.5,268.1 L119.7,268.2 L121.8,268.3 L123.8,268.4 L125.7,268.5 L127.7,268.5 L129.7,268.6 L131.8,268.6 L134.1,268.6 L136.4,268.7 L138.9,268.7 L141.5,268.9 L144.2,269.0 L146.8,269.2 L149.5,269.5 L152.2,269.7 L155.0,270.0 L157.8,270.3 L160.7,270.6 L163.6,271.0 L166.6,271.3 L169.5,271.8 L172.4,272.2 L175.3,272.6 L178.2,273.1 L181.2,273.6 L184.2,274.1 L187.3,274.7 L190.3,275.3 L193.4,275.9 L196.4,276.6 L199.4,277.3 L202.3,278.1 L205.1,278.9 L207.8,279.7 L210.4,280.6 L213.1,281.5 L215.6,282.5 L218.1,283.5 L220.6,284.5 L223.0,285.6 L225.3,286.7 L227.6,287.9 L229.9,289.2 L232.1,290.6 L234.2,292.0 L236.2,293.4 L238.1,294.9 L239.9,296.3 L241.6,297.9 L243.2,299.4 L244.7,301.0 L246.2,302.6 L247.6,304.4 L249.0,306.3 L250.2,308.3 L251.3,310.2 L252.2,312.3 L253.0,314.3 L253.7,316.3 L254.2,318.3 L254.6,320.4 L254.9,322.5 L255.1,324.8 L255.0,327.2 L254.7,329.5 L254.3,331.8 L253.6,334.0 L252.8,336.2 L251.8,338.3 L250.5,340.4 L249.0,342.4 L247.0,344.6 L244.3,346.8 L241.7,348.3 L239.5,349.4 L237.5,350.2 L235.7,350.8 L234.2,351.3 L232.9,351.6 L231.9,351.9 L231.4,352.0 L231.2,352.1 L220.8,321.9 L221.8,321.5 L223.1,321.2 L224.1,320.9 L225.1,320.6 L225.9,320.3 L226.6,320.1 L226.9,320.0 L226.8,320.0 L226.1,320.5 L225.0,321.4 L224.2,322.2 L223.8,322.7 L223.6,323.2 L223.4,323.5 L223.3,323.9 L223.2,324.2 L223.1,324.5 L223.1,324.8 L223.1,325.2 L223.1,325.5 L223.1,325.6 L223.1,325.5 L223.0,325.4 L223.0,325.2 L222.9,325.0 L222.8,324.7 L222.6,324.5 L222.4,324.1 L222.2,323.8 L221.8,323.4 L221.3,322.8 L220.6,322.1 L219.9,321.4 L219.0,320.6 L218.1,319.8 L217.1,319.1 L216.0,318.3 L214.8,317.5 L213.6,316.8 L212.4,316.1 L211.0,315.3 L209.4,314.6 L207.8,313.8 L206.0,313.1 L204.1,312.3 L202.2,311.6 L200.2,310.9 L198.1,310.2 L195.9,309.5 L193.7,308.9 L191.5,308.3 L189.1,307.7 L186.6,307.2 L184.0,306.7 L181.3,306.1 L178.6,305.6 L175.8,305.1 L173.1,304.7 L170.3,304.2 L167.6,303.8 L165.0,303.4 L162.3,303.1 L159.7,302.7 L157.0,302.4 L154.4,302.1 L151.8,301.8 L149.2,301.6 L146.7,301.4 L144.2,301.1 L141.8,301.0 L139.7,300.8 L137.6,300.7 L135.6,300.6 L133.5,300.6 L131.4,300.6 L129.3,300.5 L127.1,300.5 L124.8,300.5 L122.5,300.4 L120.2,300.3 L118.0,300.2 L115.9,300.1 L113.8,300.0 L111.6,299.8 L109.3,299.7 L107.0,299.5 L104.6,299.3 L102.1,299.0 L99.6,298.7 L97.1,298.2 L94.8,297.8 L92.5,297.3 L90.2,296.8 L87.9,296.2 L85.5,295.5 L83.1,294.8 L80.7,294.0 L78.2,293.1 L75.8,292.1 L73.2,291.0 L70.6,289.7 L68.0,288.3 L65.6,286.8 L63.3,285.4 L61.1,283.9 L59.0,282.5 L57.0,281.2 L55.1,279.9 L53.3,278.7 L51.5,277.6 L49.6,276.4 L47.7,275.2 L45.9,274.1 L44.1,273.0 L42.3,271.9 L40.5,270.8 L38.6,269.6 L36.6,268.5 L34.5,267.3 L32.2,266.0 L29.6,264.5 L26.6,262.9 L23.2,261.1 L19.8,259.2 L16.3,257.4 L12.9,255.6 L9.7,253.9 L6.8,252.4 L4.4,251.1 L2.5,250.1 Z" fill="#3a281c"/>
<path d="M5.8,244.0 L7.6,244.9 L10.0,246.2 L12.9,247.7 L16.1,249.4 L19.5,251.2 L23.1,253.1 L26.5,254.9 L29.9,256.7 L32.9,258.4 L35.6,259.9 L37.9,261.2 L40.1,262.4 L42.1,263.6 L44.1,264.8 L45.9,265.9 L47.8,267.0 L49.6,268.1 L51.4,269.3 L53.3,270.5 L55.2,271.6 L57.1,272.8 L59.0,274.1 L61.0,275.4 L63.0,276.7 L65.0,278.1 L67.1,279.5 L69.3,280.9 L71.5,282.2 L73.8,283.5 L76.2,284.7 L78.5,285.7 L80.8,286.6 L83.0,287.4 L85.2,288.1 L87.4,288.8 L89.6,289.4 L91.8,290.0 L94.0,290.5 L96.2,290.9 L98.4,291.4 L100.7,291.7 L103.0,292.1 L105.3,292.3 L107.5,292.5 L109.8,292.7 L112.0,292.8 L114.1,293.0 L116.3,293.1 L118.4,293.2 L120.5,293.3 L122.8,293.4 L125.0,293.5 L127.2,293.5 L129.4,293.4 L131.5,293.3 L133.6,293.0 L135.8,292.8 L137.9,292.5 L140.2,292.2 L142.5,291.9 L145.0,291.6 L147.5,291.3 L150.2,290.9 L152.9,290.6 L155.7,290.3 L158.5,289.9 L161.3,289.6 L164.2,289.2 L167.0,288.9 L169.9,288.6 L172.8,288.3 L175.8,288.0 L178.8,287.8 L181.8,287.6 L184.9,287.4 L187.9,287.3 L190.9,287.2 L193.9,287.2 L196.8,287.3 L199.7,287.4 L202.5,287.6 L205.2,287.9 L207.8,288.2 L210.5,288.7 L213.0,289.2 L215.5,289.8 L218.0,290.5 L220.3,291.3 L222.6,292.2 L224.8,293.2 L226.8,294.4 L228.8,295.6 L230.8,296.9 L232.6,298.2 L234.3,299.5 L235.9,300.9 L237.5,302.3 L238.9,303.7 L240.3,305.1 L241.6,306.5 L242.8,308.0 L244.0,309.7 L245.0,311.3 L245.9,313.0 L246.7,314.6 L247.4,316.3 L248.0,318.0 L248.4,319.7 L248.7,321.3 L249.0,323.1 L249.1,324.9 L249.0,326.7 L248.8,328.6 L248.4,330.4 L247.9,332.1 L247.3,333.8 L246.5,335.5 L245.5,337.1 L244.4,338.6 L242.9,340.3 L240.9,341.8 L238.9,343.0 L237.1,343.9 L235.4,344.5 L233.9,345.1 L232.5,345.5 L231.2,345.9 L230.2,346.1 L229.6,346.3 L229.3,346.5" fill="none" stroke="url(#spots)" stroke-width="11" stroke-linejoin="round" opacity="0.75"/>
<path d="M5.8,244.0 L7.6,244.9 L10.0,246.2 L12.9,247.7 L16.1,249.4 L19.5,251.2 L23.1,253.1 L26.5,254.9 L29.9,256.7 L32.9,258.4 L35.6,259.9 L37.9,261.2 L40.1,262.4 L42.1,263.6 L44.1,264.8 L45.9,265.9 L47.8,267.0 L49.6,268.1 L51.4,269.3 L53.3,270.5 L55.2,271.6 L57.1,272.8 L59.0,274.1 L61.0,275.4 L63.0,276.7 L65.0,278.1 L67.1,279.5 L69.3,280.9 L71.5,282.2 L73.8,283.5 L76.2,284.7 L78.5,285.7 L80.8,286.6 L83.0,287.4 L85.2,288.1 L87.4,288.8 L89.6,289.4 L91.8,290.0 L94.0,290.5 L96.2,290.9 L98.4,291.4 L100.7,291.7 L103.0,292.1 L105.3,292.3 L107.5,292.5 L109.8,292.7 L112.0,292.8 L114.1,293.0 L116.3,293.1 L118.4,293.2 L120.5,293.3 L122.8,293.4 L125.0,293.5 L127.2,293.5 L129.4,293.4 L131.5,293.3 L133.6,293.0 L135.8,292.8 L137.9,292.5 L140.2,292.2 L142.5,291.9 L145.0,291.6 L147.5,291.3 L150.2,290.9 L152.9,290.6 L155.7,290.3 L158.5,289.9 L161.3,289.6 L164.2,289.2 L167.0,288.9 L169.9,288.6 L172.8,288.3 L175.8,288.0 L178.8,287.8 L181.8,287.6 L184.9,287.4 L187.9,287.3 L190.9,287.2 L193.9,287.2 L196.8,287.3 L199.7,287.4 L202.5,287.6 L205.2,287.9 L207.8,288.2 L210.5,288.7 L213.0,289.2 L215.5,289.8 L218.0,290.5 L220.3,291.3 L222.6,292.2 L224.8,293.2 L226.8,294.4 L228.8,295.6 L230.8,296.9 L232.6,298.2 L234.3,299.5 L235.9,300.9 L237.5,302.3 L238.9,303.7 L240.3,305.1 L241.6,306.5 L242.8,308.0 L244.0,309.7 L245.0,311.3 L245.9,313.0 L246.7,314.6 L247.4,316.3 L248.0,318.0 L248.4,319.7 L248.7,321.3 L249.0,323.1 L249.1,324.9 L249.0,326.7 L248.8,328.6 L248.4,330.4 L247.9,332.1 L247.3,333.8 L246.5,335.5 L245.5,337.1 L244.4,338.6 L242.9,340.3 L240.9,341.8 L238.9,343.0 L237.1,343.9 L235.4,344.5 L233.9,345.1 L232.5,345.5 L231.2,345.9 L230.2,346.1 L229.6,346.3 L229.3,346.5" fill="none" stroke="url(#spots2)" stroke-width="11" stroke-linejoin="round" opacity="0.6"/>
<path d="M12.8,230.7 L14.6,231.7 L17.0,232.9 L19.9,234.4 L23.1,236.1 L26.6,237.9 L30.1,239.8 L33.6,241.7 L37.0,243.5 L40.2,245.2 L42.9,246.8 L45.4,248.1 L47.7,249.5 L49.8,250.7 L51.8,251.9 L53.7,253.1 L55.6,254.2 L57.5,255.4 L59.3,256.5 L61.2,257.7 L63.2,258.9 L65.2,260.2 L67.3,261.6 L69.4,262.9 L71.4,264.3 L73.3,265.6 L75.3,266.9 L77.1,268.1 L79.0,269.2 L80.8,270.2 L82.5,271.1 L84.3,271.9 L86.1,272.6 L87.9,273.2 L89.8,273.9 L91.6,274.4 L93.4,274.9 L95.3,275.4 L97.2,275.8 L99.2,276.2 L101.1,276.6 L103.0,276.9 L104.9,277.2 L106.8,277.4 L108.8,277.6 L110.8,277.7 L112.8,277.9 L114.9,278.0 L117.0,278.1 L119.2,278.2 L121.3,278.3 L123.4,278.4 L125.4,278.5 L127.5,278.5 L129.6,278.6 L131.7,278.7 L133.9,278.8 L136.2,278.9 L138.5,279.1 L140.9,279.3 L143.4,279.6 L145.9,279.9 L148.5,280.3 L151.2,280.6 L153.9,281.1 L156.6,281.5 L159.4,282.0 L162.2,282.5 L165.0,283.1 L167.8,283.7 L170.6,284.3 L173.3,284.9 L176.2,285.5 L179.1,286.2 L181.9,286.9 L184.8,287.6 L187.7,288.4 L190.5,289.1 L193.3,289.9 L196.0,290.8 L198.5,291.6 L201.0,292.5 L203.4,293.4 L205.8,294.3 L208.1,295.2 L210.3,296.2 L212.5,297.1 L214.6,298.1 L216.7,299.1 L218.6,300.1 L220.5,301.1 L222.3,302.1 L224.0,303.2 L225.6,304.3 L227.2,305.4 L228.7,306.6 L230.1,307.7 L231.4,308.9 L232.6,310.0 L233.7,311.2 L234.8,312.3 L235.7,313.5 L236.5,314.7 L237.3,315.9 L237.9,317.0 L238.5,318.2 L238.9,319.4 L239.3,320.6 L239.6,321.7 L239.9,322.8 L240.0,323.9 L240.1,325.0 L240.0,326.1 L239.9,327.2 L239.7,328.2 L239.4,329.3 L239.0,330.3 L238.5,331.2 L238.0,332.1 L237.4,332.9 L236.7,333.7 L235.8,334.4 L234.8,335.1 L233.6,335.6 L232.4,336.1 L231.1,336.5 L229.9,336.9 L228.8,337.2 L227.7,337.5 L226.9,337.7 L226.3,337.9" fill="none" stroke="#d8ccb8" stroke-width="9" stroke-linejoin="round"/>
<path d="M12.8,230.7 L14.6,231.7 L17.0,232.9 L19.9,234.4 L23.1,236.1 L26.6,237.9 L30.1,239.8 L33.6,241.7 L37.0,243.5 L40.2,245.2 L42.9,246.8 L45.4,248.1 L47.7,249.5 L49.8,250.7 L51.8,251.9 L53.7,253.1 L55.6,254.2 L57.5,255.4 L59.3,256.5 L61.2,257.7 L63.2,258.9 L65.2,260.2 L67.3,261.6 L69.4,262.9 L71.4,264.3 L73.3,265.6 L75.3,266.9 L77.1,268.1 L79.0,269.2 L80.8,270.2 L82.5,271.1 L84.3,271.9 L86.1,272.6 L87.9,273.2 L89.8,273.9 L91.6,274.4 L93.4,274.9 L95.3,275.4 L97.2,275.8 L99.2,276.2 L101.1,276.6 L103.0,276.9 L104.9,277.2 L106.8,277.4 L108.8,277.6 L110.8,277.7 L112.8,277.9 L114.9,278.0 L117.0,278.1 L119.2,278.2 L121.3,278.3 L123.4,278.4 L125.4,278.5 L127.5,278.5 L129.6,278.6 L131.7,278.7 L133.9,278.8 L136.2,278.9 L138.5,279.1 L140.9,279.3 L143.4,279.6 L145.9,279.9 L148.5,280.3 L151.2,280.6 L153.9,281.1 L156.6,281.5 L159.4,282.0 L162.2,282.5 L165.0,283.1 L167.8,283.7 L170.6,284.3 L173.3,284.9 L176.2,285.5 L179.1,286.2 L181.9,286.9 L184.8,287.6 L187.7,288.4 L190.5,289.1 L193.3,289.9 L196.0,290.8 L198.5,291.6 L201.0,292.5 L203.4,293.4 L205.8,294.3 L208.1,295.2 L210.3,296.2 L212.5,297.1 L214.6,298.1 L216.7,299.1 L218.6,300.1 L220.5,301.1 L222.3,302.1 L224.0,303.2 L225.6,304.3 L227.2,305.4 L228.7,306.6 L230.1,307.7 L231.4,308.9 L232.6,310.0 L233.7,311.2 L234.8,312.3 L235.7,313.5 L236.5,314.7 L237.3,315.9 L237.9,317.0 L238.5,318.2 L238.9,319.4 L239.3,320.6 L239.6,321.7 L239.9,322.8 L240.0,323.9 L240.1,325.0 L240.0,326.1 L239.9,327.2 L239.7,328.2 L239.4,329.3 L239.0,330.3 L238.5,331.2 L238.0,332.1 L237.4,332.9 L236.7,333.7 L235.8,334.4 L234.8,335.1 L233.6,335.6 L232.4,336.1 L231.1,336.5 L229.9,336.9 L228.8,337.2 L227.7,337.5 L226.9,337.7 L226.3,337.9" fill="none" stroke="url(#spotsW)" stroke-width="7" stroke-linejoin="round" opacity="0.6"/>
<path d="M10.0,236.0 L11.8,237.0 L14.2,238.2 L17.1,239.8 L20.3,241.4 L23.8,243.2 L27.3,245.1 L30.8,247.0 L34.2,248.8 L37.3,250.5 L40.0,252.0 L42.4,253.4 L44.6,254.6 L46.7,255.9 L48.7,257.1 L50.6,258.2 L52.5,259.4 L54.3,260.5 L56.2,261.6 L58.0,262.8 L60.0,264.0 L62.0,265.3 L64.0,266.6 L66.0,267.9 L68.0,269.3 L70.0,270.6 L72.0,271.9 L74.0,273.2 L76.0,274.4 L78.0,275.5 L80.0,276.5 L82.0,277.4 L84.0,278.2 L86.0,278.9 L88.0,279.6 L89.9,280.2 L91.9,280.7 L93.9,281.2 L95.9,281.7 L98.0,282.1 L100.0,282.5 L102.1,282.9 L104.1,283.1 L106.2,283.4 L108.3,283.6 L110.4,283.7 L112.5,283.9 L114.6,284.0 L116.7,284.1 L118.9,284.2 L121.0,284.3 L123.1,284.4 L125.3,284.5 L127.4,284.5 L129.5,284.6 L131.6,284.7 L133.8,284.7 L136.0,284.9 L138.3,285.0 L140.6,285.2 L143.0,285.5 L145.4,285.8 L148.0,286.1 L150.6,286.5 L153.3,286.9 L156.0,287.4 L158.7,287.8 L161.5,288.3 L164.2,288.8 L167.0,289.4 L169.7,290.0 L172.4,290.6 L175.3,291.2 L178.1,291.8 L180.9,292.5 L183.8,293.2 L186.6,293.9 L189.3,294.7 L192.0,295.4 L194.6,296.2 L197.0,297.0 L199.4,297.8 L201.7,298.7 L204.0,299.5 L206.2,300.4 L208.4,301.3 L210.4,302.3 L212.4,303.2 L214.3,304.1 L216.1,305.0 L217.9,305.9 L219.5,306.9 L221.0,307.8 L222.5,308.8 L223.9,309.8 L225.3,310.9 L226.5,311.9 L227.7,312.9 L228.7,314.0 L229.7,315.0 L230.6,315.9 L231.3,316.8 L232.0,317.7 L232.5,318.6 L233.0,319.5 L233.4,320.4 L233.8,321.3 L234.1,322.1 L234.3,322.9 L234.4,323.7 L234.5,324.4 L234.6,325.1 L234.5,325.7 L234.5,326.3 L234.3,326.9 L234.2,327.5 L234.0,328.1 L233.7,328.6 L233.4,329.1 L233.1,329.5 L232.9,329.7 L232.7,329.9 L232.2,330.2 L231.4,330.6 L230.5,330.9 L229.4,331.3 L228.3,331.6 L227.3,331.9 L226.2,332.2 L225.3,332.5 L224.5,332.7" fill="none" stroke="#6a4830" stroke-width="2.4" stroke-linejoin="round"/>
<path d="M8.8,238.2 L10.7,239.2 L13.1,240.5 L15.9,242.0 L19.2,243.7 L22.6,245.5 L26.1,247.3 L29.6,249.2 L33.0,251.0 L36.1,252.7 L38.8,254.2 L41.2,255.5 L43.4,256.8 L45.5,258.0 L47.4,259.2 L49.3,260.4 L51.2,261.5 L53.0,262.6 L54.8,263.8 L56.7,264.9 L58.7,266.1 L60.6,267.4 L62.6,268.7 L64.6,270.0 L66.6,271.3 L68.6,272.7 L70.6,274.0 L72.7,275.3 L74.8,276.6 L76.8,277.7 L78.9,278.8 L81.0,279.7 L83.1,280.5 L85.1,281.3 L87.2,282.0 L89.2,282.6 L91.3,283.1 L93.3,283.6 L95.4,284.1 L97.5,284.5 L99.5,285.0 L101.7,285.3 L103.8,285.6 L105.9,285.9 L108.1,286.1 L110.2,286.2 L112.3,286.4 L114.5,286.5 L116.6,286.6 L118.7,286.7 L120.9,286.8 L123.0,286.9 L125.2,287.0 L127.3,287.0 L129.5,287.1 L131.6,287.2 L133.7,287.3 L135.9,287.4 L138.1,287.6 L140.4,287.8 L142.8,288.1 L145.2,288.4 L147.8,288.8 L150.4,289.2 L153.0,289.6 L155.7,290.1 L158.4,290.6 L161.1,291.1 L163.9,291.7 L166.6,292.3 L169.3,292.9 L172.0,293.5 L174.8,294.2 L177.6,294.9 L180.4,295.6 L183.2,296.3 L186.0,297.0 L188.7,297.8 L191.3,298.6 L193.8,299.4 L196.1,300.2 L198.4,301.0 L200.7,301.9 L202.9,302.8 L205.1,303.6 L207.1,304.5 L209.1,305.4 L211.0,306.4 L212.9,307.3 L214.6,308.1 L216.2,309.0 L217.7,309.9 L219.1,310.8 L220.5,311.7 L221.8,312.6 L223.1,313.6 L224.2,314.5 L225.3,315.5 L226.3,316.4 L227.2,317.4 L227.9,318.2 L228.5,319.0 L229.1,319.7 L229.5,320.4 L229.9,321.1 L230.2,321.8 L230.5,322.5 L230.7,323.1 L230.9,323.7 L231.0,324.3 L231.0,324.8 L231.1,325.1 L231.0,325.4 L231.0,325.8 L230.9,326.1 L230.8,326.4 L230.7,326.7 L230.6,326.9 L230.5,327.1 L230.4,327.3 L230.5,327.2 L230.7,327.0 L230.6,327.1 L230.1,327.3 L229.3,327.6 L228.4,327.9 L227.3,328.3 L226.3,328.6 L225.3,328.8 L224.2,329.2 L223.4,329.4" fill="none" stroke="#cdb9a0" stroke-width="3.5" stroke-linejoin="round" opacity="0.9"/>
<path d="M16.5,223.8 L18.3,224.8 L20.7,226.0 L23.5,227.5 L26.8,229.2 L30.2,231.1 L33.8,232.9 L37.3,234.8 L40.7,236.7 L43.9,238.4 L46.7,240.0 L49.2,241.4 L51.6,242.7 L53.8,244.0 L55.8,245.2 L57.8,246.4 L59.7,247.6 L61.6,248.8 L63.4,249.9 L65.3,251.1 L67.3,252.3 L69.5,253.7 L71.6,255.1 L73.7,256.5 L75.7,257.8 L77.7,259.1 L79.5,260.4 L81.2,261.5 L82.9,262.4 L84.4,263.3 L85.9,264.0 L87.4,264.7 L88.9,265.3 L90.5,265.9 L92.1,266.4 L93.8,266.9 L95.4,267.4 L97.1,267.8 L98.9,268.2 L100.7,268.6 L102.5,268.9 L104.2,269.2 L105.9,269.5 L107.6,269.7 L109.4,269.8 L111.3,270.0 L113.3,270.1 L115.3,270.2 L117.4,270.3 L119.6,270.4 L121.7,270.5 L123.7,270.6 L125.6,270.7 L127.6,270.7 L129.7,270.8 L131.8,270.8 L134.0,270.8 L136.4,270.9 L138.8,270.9 L141.4,271.1 L144.0,271.2 L146.6,271.4 L149.3,271.7 L152.0,271.9 L154.8,272.2 L157.6,272.5 L160.5,272.8 L163.4,273.1 L166.3,273.5 L169.2,273.9 L172.1,274.4 L174.9,274.8" fill="none" stroke="#5a465c" stroke-width="3.4" stroke-linejoin="round"/>
<path d="M137.7,297.5 L139.9,297.6 L142.1,297.8 L144.5,298.0 L146.9,298.2 L149.5,298.4 L152.1,298.6 L154.7,298.9 L157.4,299.2 L160.1,299.5 L162.8,299.9 L165.4,300.3 L168.1,300.7 L170.8,301.1 L173.6,301.5 L176.4,302.0 L179.2,302.5 L181.9,303.0 L184.7,303.5 L187.3,304.1 L189.9,304.6 L192.3,305.2 L194.6,305.8 L196.8,306.5 L199.0,307.2 L201.2,307.9 L203.3,308.6 L205.3,309.4 L207.2,310.1 L209.0,310.9 L210.8,311.7 L212.4,312.5 L213.9,313.2 L215.3,314.0 L216.6,314.8 L217.8,315.6 L219.0,316.5 L220.1,317.3 L221.1,318.2 L222.0,319.0 L222.9,319.8 L223.7,320.6 L224.3,321.3 L224.7,321.9 L225.1,322.4 L225.4,322.8 L225.6,323.3 L225.8,323.7 L226.0,324.1 L226.1,324.5 L226.2,324.8 L226.2,325.1 L226.3,325.2 L226.3,325.2 L226.3,325.1 L226.3,325.0 L226.3,325.0 L226.3,324.9 L226.3,324.8 L226.4,324.7 L226.5,324.5 L226.7,324.2 L227.2,323.7 L228.0,323.1 L228.3,322.9 L228.2,322.9 L227.6,323.1 L226.9,323.4 L226.0,323.7 L225.0,323.9 L223.9,324.2 L222.8,324.6 L221.8,324.9" fill="none" stroke="#56425a" stroke-width="3.4" stroke-linejoin="round"/>
</g>
<g filter="url(#b05)">
<path d="M85.1,315.8 L85.4,314.8 L85.8,313.6 L86.2,312.6 L86.7,311.6 L87.3,310.8 L87.8,309.9 L88.5,309.2 L89.2,308.5 L90.0,307.8 L90.8,307.2 L91.7,306.6 L92.5,306.1 L93.4,305.7 L94.3,305.3 L95.2,304.9 L96.2,304.6 L97.2,304.3 L98.4,304.0 L99.6,303.9 L101.0,303.8 L102.4,303.9 L104.1,303.9 L105.9,304.0 L107.8,304.1 L109.8,304.2 L112.0,304.3 L114.2,304.4 L116.5,304.5 L118.9,304.7 L121.3,304.9 L123.6,305.0 L126.0,305.2 L128.5,305.4 L131.1,305.7 L133.7,305.9 L136.4,306.2 L139.1,306.5 L141.8,306.8 L144.6,307.1 L147.3,307.5 L150.1,307.9 L152.8,308.4 L155.4,308.9 L158.1,309.4 L160.6,309.9 L163.2,310.5 L165.7,311.0 L168.2,311.5 L170.6,312.0 L173.1,312.5 L175.6,313.0 L178.1,313.5 L180.7,314.0 L183.2,314.5 L185.6,315.0 L188.1,315.5 L190.5,316.0 L192.9,316.4 L195.3,316.8 L197.6,317.2 L200.1,317.6 L202.7,318.0 L205.3,318.5 L207.8,318.8 L210.3,319.2 L212.8,319.5 L215.1,319.8 L217.3,320.1 L219.2,320.2 L221.0,320.4 L222.7,320.4 L224.2,320.5 L225.6,320.5 L226.9,320.4 L228.0,320.4 L229.0,320.3 L229.8,320.2 L230.6,320.0 L231.3,319.9 L231.7,320.0 L231.8,320.3 L232.1,320.7 L232.7,321.1 L233.7,321.5 L235.0,322.0 L236.6,322.5 L238.4,323.2 L240.3,324.1 L242.6,325.4 L245.1,327.7 L245.7,328.5 L244.4,328.0 L243.2,327.9 L242.0,327.9 L240.8,328.2 L239.6,328.4 L238.4,328.8 L237.3,329.1 L236.3,329.4 L235.4,329.6 L234.5,329.7 L233.5,329.9 L232.4,330.1 L231.2,330.3 L229.9,330.5 L228.6,330.6 L227.2,330.7 L225.6,330.7 L224.0,330.7 L222.2,330.6 L220.4,330.5 L218.3,330.4 L216.2,330.2 L213.8,329.9 L211.4,329.6 L208.9,329.2 L206.3,328.8 L203.7,328.4 L201.0,328.0 L198.4,327.6 L195.9,327.2 L193.5,326.7 L191.0,326.3 L188.5,325.8 L186.1,325.3 L183.6,324.8 L181.1,324.3 L178.6,323.8 L176.1,323.3 L173.6,322.7 L171.1,322.2 L168.6,321.7 L166.1,321.2 L163.6,320.7 L161.1,320.2 L158.6,319.6 L156.1,319.1 L153.5,318.6 L151.0,318.1 L148.4,317.7 L145.8,317.3 L143.2,316.9 L140.6,316.5 L138.0,316.2 L135.3,315.9 L132.7,315.7 L130.1,315.4 L127.6,315.2 L125.1,315.0 L122.8,314.8 L120.4,314.6 L118.2,314.4 L115.9,314.2 L113.6,314.1 L111.4,314.0 L109.3,313.9 L107.3,313.8 L105.4,313.7 L103.6,313.6 L101.9,313.5 L100.3,313.4 L98.9,313.4 L97.7,313.4 L96.5,313.4 L95.4,313.4 L94.5,313.5 L93.6,313.6 L92.7,313.7 L91.9,313.8 L91.1,313.9 L90.3,314.1 L89.5,314.3 L88.8,314.5 L88.2,314.7 L87.6,314.9 L87.0,315.2 L86.5,315.5 L86.1,315.8 L85.7,316.2 L85.3,316.6 L85.0,316.9 Z" fill="#8a6a4e"/>
<path d="M85.1,315.8 L85.4,314.8 L85.8,313.6 L86.2,312.6 L86.7,311.6 L87.3,310.8 L87.8,309.9 L88.5,309.2 L89.2,308.5 L90.0,307.8 L90.8,307.2 L91.7,306.6 L92.5,306.1 L93.4,305.7 L94.3,305.3 L95.2,304.9 L96.2,304.6 L97.2,304.3 L98.4,304.0 L99.6,303.9 L101.0,303.8 L102.4,303.9 L104.1,303.9 L105.9,304.0 L107.8,304.1 L109.8,304.2 L112.0,304.3 L114.2,304.4 L116.5,304.5 L118.9,304.7 L121.3,304.9 L123.6,305.0 L126.0,305.2 L128.5,305.4 L131.1,305.7 L133.7,305.9 L136.4,306.2 L139.1,306.5 L141.8,306.8 L144.6,307.1 L147.3,307.5 L150.1,307.9 L152.8,308.4 L155.4,308.9 L158.1,309.4 L160.6,309.9 L163.2,310.5 L165.7,311.0 L168.2,311.5 L170.6,312.0 L173.1,312.5 L175.6,313.0 L178.1,313.5 L180.7,314.0 L183.2,314.5 L185.6,315.0 L188.1,315.5 L190.5,316.0 L192.9,316.4 L195.3,316.8 L197.6,317.2 L200.1,317.6 L202.7,318.0 L205.3,318.5 L207.8,318.8 L210.3,319.2 L212.8,319.5 L215.1,319.8 L217.3,320.1 L219.2,320.2 L221.0,320.4 L222.7,320.4 L224.2,320.5 L225.6,320.5 L226.9,320.4 L228.0,320.4 L229.0,320.3 L229.8,320.2 L230.6,320.0 L231.3,319.9 L231.7,320.0 L231.8,320.3 L232.1,320.7 L232.7,321.1 L233.7,321.5 L235.0,322.0 L236.6,322.5 L238.4,323.2 L240.3,324.1 L242.6,325.4 L245.1,327.7 L245.7,328.5 L244.4,328.0 L243.2,327.9 L242.0,327.9 L240.8,328.2 L239.6,328.4 L238.4,328.8 L237.3,329.1 L236.3,329.4 L235.4,329.6 L234.5,329.7 L233.5,329.9 L232.4,330.1 L231.2,330.3 L229.9,330.5 L228.6,330.6 L227.2,330.7 L225.6,330.7 L224.0,330.7 L222.2,330.6 L220.4,330.5 L218.3,330.4 L216.2,330.2 L213.8,329.9 L211.4,329.6 L208.9,329.2 L206.3,328.8 L203.7,328.4 L201.0,328.0 L198.4,327.6 L195.9,327.2 L193.5,326.7 L191.0,326.3 L188.5,325.8 L186.1,325.3 L183.6,324.8 L181.1,324.3 L178.6,323.8 L176.1,323.3 L173.6,322.7 L171.1,322.2 L168.6,321.7 L166.1,321.2 L163.6,320.7 L161.1,320.2 L158.6,319.6 L156.1,319.1 L153.5,318.6 L151.0,318.1 L148.4,317.7 L145.8,317.3 L143.2,316.9 L140.6,316.5 L138.0,316.2 L135.3,315.9 L132.7,315.7 L130.1,315.4 L127.6,315.2 L125.1,315.0 L122.8,314.8 L120.4,314.6 L118.2,314.4 L115.9,314.2 L113.6,314.1 L111.4,314.0 L109.3,313.9 L107.3,313.8 L105.4,313.7 L103.6,313.6 L101.9,313.5 L100.3,313.4 L98.9,313.4 L97.7,313.4 L96.5,313.4 L95.4,313.4 L94.5,313.5 L93.6,313.6 L92.7,313.7 L91.9,313.8 L91.1,313.9 L90.3,314.1 L89.5,314.3 L88.8,314.5 L88.2,314.7 L87.6,314.9 L87.0,315.2 L86.5,315.5 L86.1,315.8 L85.7,316.2 L85.3,316.6 L85.0,316.9 Z" fill="url(#spots)" opacity="0.45"/>
<path d="M85.1,315.8 L85.4,315.0 L85.8,313.8 L86.2,312.8 L86.7,311.9 L87.2,311.1 L87.8,310.3 L88.5,309.6 L89.2,308.9 L89.9,308.3 L90.7,307.7 L91.6,307.2 L92.5,306.7 L93.3,306.3 L94.2,305.9 L95.2,305.6 L96.1,305.2 L97.2,305.0 L98.3,304.8 L99.6,304.6 L100.9,304.6 L102.4,304.6 L104.0,304.7 L105.8,304.8 L107.7,304.8 L109.8,304.9 L111.9,305.0 L114.2,305.1 L116.5,305.3 L118.8,305.4 L121.2,305.6 L123.5,305.8 L125.9,306.0 L128.4,306.2 L131.0,306.4 L133.6,306.7 L136.3,306.9 L139.0,307.2 L141.7,307.5 L144.5,307.9 L147.2,308.3 L149.9,308.7 L152.6,309.2 L155.3,309.6 L157.9,310.2 L160.5,310.7 L163.0,311.2 L165.5,311.7 L168.0,312.2 L170.5,312.7 L172.9,313.2 L175.4,313.7 L178.0,314.2 L180.5,314.7 L183.0,315.3 L185.5,315.8 L187.9,316.2 L190.3,316.7 L192.7,317.2 L195.1,317.6 L197.5,318.0 L200.0,318.4 L202.6,318.8 L205.1,319.2 L207.7,319.6 L210.2,320.0 L212.7,320.3 L215.0,320.6 L217.2,320.8 L219.2,321.0 L221.0,321.1 L222.6,321.2 L224.2,321.3 L225.6,321.3 L226.9,321.2 L228.0,321.2 L229.0,321.1 L229.9,320.9 L230.7,320.8 L231.4,320.7 L231.9,320.7 L232.1,321.0 L232.4,321.4 L233.1,321.7 L234.1,322.1 L235.4,322.5 L236.9,322.9 L238.6,323.5 L240.6,324.4 L242.7,325.6 L245.2,327.7 L245.4,328.1 L243.4,326.6 L241.7,325.8 L240.0,325.4 L238.5,325.1 L237.1,325.0 L235.9,324.9 L234.8,324.8 L234.0,324.7 L233.4,324.6 L233.0,324.5 L232.3,324.5 L231.4,324.7 L230.5,324.9 L229.4,325.0 L228.3,325.1 L227.0,325.2 L225.6,325.2 L224.1,325.2 L222.5,325.1 L220.7,325.1 L218.8,324.9 L216.8,324.7 L214.5,324.5 L212.1,324.2 L209.7,323.8 L207.1,323.5 L204.5,323.1 L201.9,322.6 L199.3,322.2 L196.8,321.8 L194.4,321.4 L192.0,321.0 L189.6,320.5 L187.2,320.0 L184.7,319.5 L182.2,319.0 L179.7,318.5 L177.2,318.0 L174.7,317.5 L172.1,317.0 L169.7,316.5 L167.2,316.0 L164.7,315.5 L162.2,314.9 L159.7,314.4 L157.1,313.9 L154.6,313.4 L151.9,312.9 L149.3,312.4 L146.6,312.0 L143.9,311.6 L141.3,311.3 L138.6,311.0 L135.9,310.7 L133.3,310.4 L130.6,310.2 L128.1,309.9 L125.6,309.7 L123.2,309.5 L120.9,309.3 L118.6,309.2 L116.2,309.0 L114.0,308.9 L111.7,308.8 L109.6,308.7 L107.6,308.6 L105.6,308.5 L103.8,308.4 L102.2,308.3 L100.7,308.3 L99.3,308.3 L98.0,308.4 L96.9,308.5 L95.8,308.7 L94.9,308.9 L93.9,309.1 L93.1,309.4 L92.2,309.7 L91.4,310.0 L90.6,310.4 L89.8,310.8 L89.0,311.2 L88.3,311.7 L87.7,312.3 L87.1,312.8 L86.6,313.4 L86.2,314.1 L85.7,314.8 L85.4,315.6 L85.1,316.3 Z" fill="#a88c70" opacity="0.7"/>
<path d="M85.0,316.8 L85.3,316.5 L85.7,316.0 L86.1,315.7 L86.5,315.3 L87.0,315.0 L87.6,314.7 L88.2,314.4 L88.8,314.2 L89.5,314.0 L90.3,313.8 L91.1,313.6 L91.9,313.4 L92.7,313.3 L93.6,313.2 L94.5,313.1 L95.5,313.0 L96.5,313.0 L97.7,312.9 L99.0,312.9 L100.4,313.0 L101.9,313.1 L103.6,313.1 L105.4,313.2 L107.3,313.3 L109.4,313.4 L111.5,313.5 L113.7,313.6 L115.9,313.8 L118.2,313.9 L120.5,314.1 L122.8,314.3 L125.2,314.5 L127.7,314.7 L130.2,315.0 L132.8,315.2 L135.4,315.5 L138.0,315.8 L140.6,316.1 L143.3,316.4 L145.9,316.8 L148.5,317.2 L151.0,317.7 L153.6,318.2 L156.2,318.7 L158.7,319.2 L161.2,319.7 L163.7,320.2 L166.2,320.8 L168.7,321.3 L171.2,321.8 L173.7,322.3 L176.2,322.8 L178.7,323.3 L181.2,323.8 L183.7,324.4 L186.2,324.9 L188.6,325.4 L191.1,325.8 L193.5,326.3 L196.0,326.7 L198.5,327.1 L201.1,327.5 L203.7,328.0 L206.3,328.4 L208.9,328.8 L211.5,329.1 L213.9,329.4 L216.2,329.7 L218.4,329.9 L220.4,330.1 L222.2,330.2 L224.0,330.2 L225.6,330.2 L227.2,330.2 L228.6,330.1 L229.9,330.0 L231.1,329.9 L232.3,329.7 L233.4,329.5 L234.4,329.3 L235.2,329.1 L236.1,329.0 L237.1,328.7 L238.2,328.4 L239.4,328.2 L240.6,327.9 L241.8,327.7 L243.1,327.7 L244.3,327.9 L245.7,328.5 L246.2,329.3 L246.1,330.3 L245.7,331.2 L245.1,332.1 L244.4,333.1 L243.5,334.1 L242.5,335.1 L241.3,336.1 L240.0,337.0 L238.5,337.7 L236.9,338.3 L235.4,338.7 L233.9,339.0 L232.4,339.3 L230.8,339.4 L229.1,339.6 L227.4,339.6 L225.7,339.6 L223.8,339.6 L221.8,339.6 L219.8,339.4 L217.6,339.3 L215.2,339.0 L212.7,338.7 L210.2,338.4 L207.6,338.0 L204.9,337.6 L202.2,337.2 L199.6,336.7 L197.0,336.3 L194.4,335.9 L191.9,335.4 L189.4,334.9 L186.8,334.4 L184.3,333.9 L181.8,333.4 L179.3,332.9 L176.8,332.4 L174.3,331.8 L171.8,331.3 L169.3,330.8 L166.8,330.3 L164.3,329.8 L161.8,329.2 L159.3,328.7 L156.8,328.1 L154.3,327.6 L151.9,327.1 L149.4,326.6 L146.9,326.2 L144.5,325.8 L142.0,325.4 L139.5,325.1 L137.0,324.8 L134.4,324.5 L131.9,324.2 L129.3,324.0 L126.8,323.7 L124.4,323.5 L122.0,323.3 L119.7,323.1 L117.5,322.9 L115.3,322.7 L113.1,322.6 L111.0,322.5 L108.9,322.4 L106.9,322.3 L104.9,322.2 L103.1,322.1 L101.4,322.0 L99.8,321.9 L98.3,321.7 L97.0,321.6 L95.9,321.4 L94.8,321.2 L93.8,321.1 L92.9,320.9 L92.1,320.7 L91.3,320.5 L90.6,320.3 L89.8,320.1 L89.1,319.9 L88.5,319.7 L87.9,319.5 L87.3,319.3 L86.8,319.1 L86.3,318.9 L85.9,318.7 L85.6,318.4 L85.2,318.1 L85.0,317.9 Z" fill="#553520"/>
<path d="M85.0,316.8 L85.3,316.5 L85.7,316.0 L86.1,315.7 L86.5,315.3 L87.0,315.0 L87.6,314.7 L88.2,314.4 L88.8,314.2 L89.5,314.0 L90.3,313.8 L91.1,313.6 L91.9,313.4 L92.7,313.3 L93.6,313.2 L94.5,313.1 L95.5,313.0 L96.5,313.0 L97.7,312.9 L99.0,312.9 L100.4,313.0 L101.9,313.1 L103.6,313.1 L105.4,313.2 L107.3,313.3 L109.4,313.4 L111.5,313.5 L113.7,313.6 L115.9,313.8 L118.2,313.9 L120.5,314.1 L122.8,314.3 L125.2,314.5 L127.7,314.7 L130.2,315.0 L132.8,315.2 L135.4,315.5 L138.0,315.8 L140.6,316.1 L143.3,316.4 L145.9,316.8 L148.5,317.2 L151.0,317.7 L153.6,318.2 L156.2,318.7 L158.7,319.2 L161.2,319.7 L163.7,320.2 L166.2,320.8 L168.7,321.3 L171.2,321.8 L173.7,322.3 L176.2,322.8 L178.7,323.3 L181.2,323.8 L183.7,324.4 L186.2,324.9 L188.6,325.4 L191.1,325.8 L193.5,326.3 L196.0,326.7 L198.5,327.1 L201.1,327.5 L203.7,328.0 L206.3,328.4 L208.9,328.8 L211.5,329.1 L213.9,329.4 L216.2,329.7 L218.4,329.9 L220.4,330.1 L222.2,330.2 L224.0,330.2 L225.6,330.2 L227.2,330.2 L228.6,330.1 L229.9,330.0 L231.1,329.9 L232.3,329.7 L233.4,329.5 L234.4,329.3 L235.2,329.1 L236.1,329.0 L237.1,328.7 L238.2,328.4 L239.4,328.2 L240.6,327.9 L241.8,327.7 L243.1,327.7 L244.3,327.9 L245.7,328.5 L246.2,329.3 L246.1,330.3 L245.7,331.2 L245.1,332.1 L244.4,333.1 L243.5,334.1 L242.5,335.1 L241.3,336.1 L240.0,337.0 L238.5,337.7 L236.9,338.3 L235.4,338.7 L233.9,339.0 L232.4,339.3 L230.8,339.4 L229.1,339.6 L227.4,339.6 L225.7,339.6 L223.8,339.6 L221.8,339.6 L219.8,339.4 L217.6,339.3 L215.2,339.0 L212.7,338.7 L210.2,338.4 L207.6,338.0 L204.9,337.6 L202.2,337.2 L199.6,336.7 L197.0,336.3 L194.4,335.9 L191.9,335.4 L189.4,334.9 L186.8,334.4 L184.3,333.9 L181.8,333.4 L179.3,332.9 L176.8,332.4 L174.3,331.8 L171.8,331.3 L169.3,330.8 L166.8,330.3 L164.3,329.8 L161.8,329.2 L159.3,328.7 L156.8,328.1 L154.3,327.6 L151.9,327.1 L149.4,326.6 L146.9,326.2 L144.5,325.8 L142.0,325.4 L139.5,325.1 L137.0,324.8 L134.4,324.5 L131.9,324.2 L129.3,324.0 L126.8,323.7 L124.4,323.5 L122.0,323.3 L119.7,323.1 L117.5,322.9 L115.3,322.7 L113.1,322.6 L111.0,322.5 L108.9,322.4 L106.9,322.3 L104.9,322.2 L103.1,322.1 L101.4,322.0 L99.8,321.9 L98.3,321.7 L97.0,321.6 L95.9,321.4 L94.8,321.2 L93.8,321.1 L92.9,320.9 L92.1,320.7 L91.3,320.5 L90.6,320.3 L89.8,320.1 L89.1,319.9 L88.5,319.7 L87.9,319.5 L87.3,319.3 L86.8,319.1 L86.3,318.9 L85.9,318.7 L85.6,318.4 L85.2,318.1 L85.0,317.9 Z" fill="url(#spots)" opacity="0.35"/>
<path d="M85.0,317.8 L85.2,318.1 L85.6,318.3 L85.9,318.6 L86.3,318.8 L86.8,319.0 L87.3,319.2 L87.9,319.4 L88.5,319.6 L89.1,319.7 L89.8,319.9 L90.6,320.1 L91.3,320.3 L92.1,320.5 L92.9,320.6 L93.8,320.8 L94.8,321.0 L95.9,321.1 L97.1,321.3 L98.4,321.4 L99.8,321.6 L101.4,321.7 L103.1,321.8 L105.0,321.9 L106.9,322.0 L108.9,322.1 L111.0,322.2 L113.1,322.3 L115.3,322.4 L117.5,322.6 L119.7,322.8 L122.0,323.0 L124.4,323.2 L126.9,323.4 L129.4,323.7 L131.9,323.9 L134.4,324.2 L137.0,324.5 L139.5,324.8 L142.1,325.1 L144.5,325.5 L147.0,325.9 L149.4,326.3 L151.9,326.8 L154.4,327.3 L156.9,327.8 L159.4,328.4 L161.9,328.9 L164.4,329.5 L166.9,330.0 L169.4,330.5 L171.9,331.0 L174.4,331.5 L176.9,332.1 L179.4,332.6 L181.9,333.1 L184.4,333.6 L186.9,334.1 L189.4,334.6 L191.9,335.1 L194.5,335.6 L197.0,336.0 L199.6,336.4 L202.3,336.9 L205.0,337.3 L207.6,337.7 L210.2,338.1 L212.8,338.4 L215.2,338.7 L217.6,339.0 L219.8,339.1 L221.9,339.2 L223.8,339.3 L225.7,339.3 L227.4,339.3 L229.1,339.2 L230.8,339.1 L232.3,338.9 L233.9,338.7 L235.4,338.4 L236.9,338.0 L238.4,337.4 L239.8,336.7 L241.2,335.8 L242.3,334.9 L243.4,333.9 L244.3,332.9 L245.0,332.0 L245.6,331.1 L246.0,330.2 L246.2,329.3 L246.7,330.0 L247.7,332.5 L248.2,334.4 L248.3,336.2 L248.0,338.0 L247.4,339.7 L246.5,341.4 L245.2,343.0 L243.6,344.4 L241.6,345.7 L239.4,346.7 L237.3,347.3 L235.5,347.7 L233.6,348.0 L231.6,348.2 L229.7,348.4 L227.7,348.4 L225.7,348.4 L223.6,348.4 L221.5,348.3 L219.2,348.2 L216.8,348.0 L214.3,347.7 L211.7,347.4 L209.0,347.0 L206.3,346.6 L203.6,346.2 L200.8,345.8 L198.2,345.3 L195.5,344.9 L192.9,344.4 L190.4,343.9 L187.7,343.4 L185.2,342.9 L182.6,342.4 L180.1,341.9 L177.5,341.3 L175.0,340.8 L172.6,340.3 L170.1,339.7 L167.6,339.2 L165.1,338.7 L162.5,338.1 L160.0,337.6 L157.5,337.0 L155.0,336.5 L152.6,336.0 L150.2,335.5 L147.8,335.0 L145.5,334.6 L143.2,334.2 L140.8,333.8 L138.4,333.5 L136.0,333.2 L133.5,332.9 L131.0,332.6 L128.5,332.4 L126.1,332.1 L123.6,331.9 L121.3,331.7 L119.0,331.5 L116.9,331.3 L114.7,331.1 L112.6,331.0 L110.5,330.8 L108.5,330.7 L106.5,330.6 L104.5,330.5 L102.7,330.4 L100.9,330.3 L99.2,330.1 L97.8,329.9 L96.4,329.6 L95.2,329.3 L94.1,328.9 L93.2,328.5 L92.3,328.1 L91.5,327.6 L90.7,327.1 L90.1,326.6 L89.4,326.1 L88.7,325.5 L88.1,324.9 L87.6,324.3 L87.1,323.6 L86.6,322.9 L86.2,322.2 L85.8,321.5 L85.4,320.6 L85.2,319.6 L84.9,318.9 Z" fill="#e2d9ce"/>
<path d="M157.0,327.1 L159.5,327.6 L162.0,328.2 L164.5,328.7 L167.0,329.2 L169.5,329.8 L172.0,330.3 L174.5,330.8 L177.0,331.3 L179.5,331.8 L182.0,332.4 L184.5,332.9 L187.1,333.4 L189.6,333.9 L192.1,334.3 L194.6,334.8 L197.2,335.2 L199.8,335.7 L202.4,336.1 L205.1,336.5 L207.7,336.9 L210.3,337.3 L212.9,337.7 L215.3,337.9 L217.7,338.2 L219.8,338.3 L221.9,338.5 L223.8,338.5 L225.7,338.5 L227.4,338.5 L229.1,338.5 L230.7,338.3 L232.2,338.2 L233.7,337.9 L235.2,337.6 L236.6,337.3 L238.1,336.7 L239.5,336.0 L240.8,335.2 L242.0,334.3 L243.0,333.4 L244.0,332.5 L244.8,331.6 L245.4,330.8 L245.9,330.0 L246.1,329.2 L246.7,330.1 L247.7,332.6 L248.3,334.6 L248.4,336.4 L248.1,338.2 L247.6,339.9 L246.6,341.6 L245.4,343.2 L243.7,344.7 L241.7,346.0 L239.4,347.0 L237.4,347.7 L235.5,348.0 L233.6,348.3 L231.7,348.5 L229.7,348.7 L227.7,348.7 L225.7,348.8 L223.6,348.7 L221.4,348.6 L219.2,348.5 L216.8,348.3 L214.2,348.0 L211.6,347.7 L208.9,347.4 L206.2,347.0 L203.5,346.5 L200.8,346.1 L198.1,345.6 L195.5,345.2 L192.9,344.7 L190.3,344.2 L187.7,343.8 L185.1,343.2 L182.5,342.7 L180.0,342.2 L177.5,341.6 L175.0,341.1 L172.5,340.6 L170.0,340.0 L167.6,339.5 L165.0,339.0 L162.5,338.4 L159.9,337.9 L157.4,337.3 L155.0,336.8 Z" fill="url(#spotsD)" opacity="0.6"/>
<path d="M157.0,327.1 L159.5,327.6 L162.0,328.2 L164.5,328.7 L167.0,329.2 L169.5,329.8 L172.0,330.3 L174.5,330.8 L177.0,331.3 L179.5,331.8 L182.0,332.4 L184.5,332.9 L187.1,333.4 L189.6,333.9 L192.1,334.3 L194.6,334.8 L197.2,335.2 L199.8,335.7 L202.4,336.1 L205.1,336.5 L207.7,336.9 L210.3,337.3 L212.9,337.7 L215.3,337.9 L217.7,338.2 L219.8,338.3 L221.9,338.5 L223.8,338.5 L225.7,338.5 L227.4,338.5 L229.1,338.5 L230.7,338.3 L232.2,338.2 L233.7,337.9 L235.2,337.6 L236.6,337.3 L238.1,336.7 L239.5,336.0 L240.8,335.2 L242.0,334.3 L243.0,333.4 L244.0,332.5 L244.8,331.6 L245.4,330.8 L245.9,330.0 L246.1,329.2 L246.7,330.1 L247.7,332.6 L248.3,334.6 L248.4,336.4 L248.1,338.2 L247.6,339.9 L246.6,341.6 L245.4,343.2 L243.7,344.7 L241.7,346.0 L239.4,347.0 L237.4,347.7 L235.5,348.0 L233.6,348.3 L231.7,348.5 L229.7,348.7 L227.7,348.7 L225.7,348.8 L223.6,348.7 L221.4,348.6 L219.2,348.5 L216.8,348.3 L214.2,348.0 L211.6,347.7 L208.9,347.4 L206.2,347.0 L203.5,346.5 L200.8,346.1 L198.1,345.6 L195.5,345.2 L192.9,344.7 L190.3,344.2 L187.7,343.8 L185.1,343.2 L182.5,342.7 L180.0,342.2 L177.5,341.6 L175.0,341.1 L172.5,340.6 L170.0,340.0 L167.6,339.5 L165.0,339.0 L162.5,338.4 L159.9,337.9 L157.4,337.3 L155.0,336.8 Z" fill="url(#spotsD2)" opacity="0.5"/>
<path d="M84.9,318.9 L85.2,319.6 L85.4,320.6 L85.8,321.5 L86.2,322.2 L86.6,322.9 L87.1,323.6 L87.6,324.3 L88.1,324.9 L88.7,325.5 L89.4,326.1 L90.1,326.6 L90.7,327.1 L91.5,327.6 L92.3,328.1 L93.2,328.5 L94.1,328.9 L95.2,329.3 L96.4,329.6 L97.8,329.9 L99.2,330.1 L100.9,330.3 L102.7,330.4 L104.5,330.5 L106.5,330.6 L108.5,330.7 L110.5,330.8 L112.6,331.0 L114.7,331.1 L116.9,331.3 L119.0,331.5 L121.3,331.7 L123.6,331.9 L126.1,332.1 L128.5,332.4 L131.0,332.6 L133.5,332.9 L136.0,333.2 L138.4,333.5 L140.8,333.8 L143.2,334.2 L145.5,334.6 L147.8,335.0 L150.2,335.5 L152.6,336.0 L155.0,336.5 L157.5,337.0 L160.0,337.6 L162.5,338.1 L165.1,338.7 L167.6,339.2 L170.1,339.7 L172.6,340.3 L175.0,340.8 L177.5,341.3 L180.1,341.9 L182.6,342.4 L185.2,342.9 L187.7,343.4 L190.4,343.9 L192.9,344.4 L195.5,344.9 L198.2,345.3 L200.8,345.8 L203.6,346.2 L206.3,346.6 L209.0,347.0 L211.7,347.4 L214.3,347.7 L216.8,348.0 L219.2,348.2 L221.5,348.3 L223.6,348.4 L225.7,348.4 L227.7,348.4 L229.7,348.4 L231.6,348.2 L233.6,348.0 L235.5,347.7 L237.3,347.3 L239.4,346.7 L241.6,345.7 L243.6,344.4 L245.2,343.0 L246.5,341.4 L247.4,339.7 L248.0,338.0 L248.3,336.2 L248.2,334.4 L247.7,332.5 L246.7,330.0 L246.8,330.2 L248.0,333.0 L248.7,335.1 L248.9,337.1 L248.8,339.0 L248.3,340.9 L247.4,342.7 L246.1,344.4 L244.4,346.0 L242.2,347.4 L239.9,348.5 L237.8,349.2 L235.8,349.6 L233.8,349.9 L231.8,350.1 L229.8,350.2 L227.7,350.3 L225.7,350.3 L223.5,350.3 L221.4,350.2 L219.1,350.1 L216.6,349.9 L214.1,349.6 L211.4,349.3 L208.7,348.9 L206.0,348.5 L203.3,348.1 L200.5,347.6 L197.9,347.2 L195.2,346.7 L192.6,346.2 L190.0,345.8 L187.4,345.3 L184.8,344.8 L182.2,344.2 L179.7,343.7 L177.2,343.1 L174.7,342.6 L172.2,342.1 L169.7,341.5 L167.2,341.0 L164.7,340.5 L162.1,339.9 L159.6,339.4 L157.1,338.8 L154.7,338.3 L152.2,337.8 L149.9,337.3 L147.5,336.8 L145.2,336.4 L142.9,336.0 L140.6,335.6 L138.2,335.3 L135.8,335.0 L133.3,334.7 L130.8,334.4 L128.3,334.2 L125.9,333.9 L123.5,333.7 L121.1,333.5 L118.9,333.3 L116.7,333.1 L114.6,332.9 L112.5,332.7 L110.4,332.6 L108.4,332.5 L106.4,332.4 L104.4,332.3 L102.6,332.2 L100.8,332.0 L99.1,331.9 L97.6,331.7 L96.3,331.3 L95.1,331.0 L94.0,330.5 L93.0,330.1 L92.1,329.6 L91.3,329.1 L90.6,328.5 L89.9,328.0 L89.3,327.4 L88.7,326.7 L88.1,326.0 L87.5,325.3 L87.0,324.5 L86.5,323.8 L86.1,322.9 L85.7,322.1 L85.4,321.1 L85.1,319.9 L84.9,319.1 Z" fill="#a89e96"/>
<path d="M84.9,319.1 L85.1,319.9 L85.4,321.1 L85.7,322.1 L86.1,322.9 L86.5,323.8 L87.0,324.5 L87.5,325.3 L88.1,326.0 L88.7,326.7 L89.3,327.4 L89.9,328.0 L90.6,328.5 L91.3,329.1 L92.1,329.6 L93.0,330.1 L94.0,330.5 L95.1,331.0 L96.3,331.3 L97.6,331.7 L99.1,331.9 L100.8,332.0 L102.6,332.2 L104.4,332.3 L106.4,332.4 L108.4,332.5 L110.4,332.6 L112.5,332.7 L114.6,332.9 L116.7,333.1 L118.9,333.3 L121.1,333.5 L123.5,333.7 L125.9,333.9 L128.3,334.2 L130.8,334.4 L133.3,334.7 L135.8,335.0 L138.2,335.3 L140.6,335.6 L142.9,336.0 L145.2,336.4 L147.5,336.8 L149.9,337.3 L152.2,337.8 L154.7,338.3 L157.1,338.8 L159.6,339.4 L162.1,339.9 L164.7,340.5 L167.2,341.0 L169.7,341.5 L172.2,342.1 L174.7,342.6 L177.2,343.1 L179.7,343.7 L182.2,344.2 L184.8,344.8 L187.4,345.3 L190.0,345.8 L192.6,346.2 L195.2,346.7 L197.9,347.2 L200.5,347.6 L203.3,348.1 L206.0,348.5 L208.7,348.9 L211.4,349.3 L214.1,349.6 L216.6,349.9 L219.1,350.1 L221.4,350.2 L223.5,350.3 L225.7,350.3 L227.7,350.3 L229.8,350.2 L231.8,350.1 L233.8,349.9 L235.8,349.6 L237.8,349.2 L239.9,348.5 L242.2,347.4 L244.4,346.0 L246.1,344.4 L247.4,342.7 L248.3,340.9 L248.8,339.0 L248.9,337.1 L248.7,335.1 L248.0,333.0 L246.8,330.2 L246.9,330.3 L248.3,333.4 L249.1,335.7 L249.5,337.9 L249.4,339.9 L249.0,341.9 L248.1,343.8 L246.8,345.7 L245.0,347.4 L242.8,348.9 L240.3,350.0 L238.1,350.7 L236.1,351.2 L234.0,351.5 L232.0,351.7 L229.9,351.8 L227.8,351.9 L225.7,351.9 L223.5,351.9 L221.3,351.8 L219.0,351.6 L216.5,351.4 L213.9,351.2 L211.2,350.8 L208.5,350.4 L205.8,350.0 L203.0,349.6 L200.3,349.2 L197.6,348.7 L195.0,348.2 L192.4,347.8 L189.7,347.3 L187.1,346.8 L184.5,346.3 L181.9,345.7 L179.4,345.2 L176.8,344.6 L174.3,344.1 L171.9,343.6 L169.4,343.0 L166.9,342.5 L164.4,342.0 L161.8,341.4 L159.3,340.9 L156.8,340.3 L154.4,339.8 L151.9,339.3 L149.6,338.8 L147.2,338.3 L144.9,337.9 L142.7,337.5 L140.4,337.1 L138.0,336.8 L135.6,336.5 L133.1,336.2 L130.7,335.9 L128.2,335.7 L125.8,335.4 L123.4,335.2 L121.0,335.0 L118.7,334.7 L116.6,334.6 L114.5,334.4 L112.4,334.2 L110.3,334.1 L108.3,334.0 L106.3,333.9 L104.4,333.7 L102.5,333.6 L100.7,333.5 L99.0,333.4 L97.5,333.1 L96.2,332.8 L95.0,332.4 L93.9,331.9 L92.9,331.4 L92.0,330.9 L91.2,330.3 L90.5,329.7 L89.9,329.1 L89.2,328.4 L88.6,327.7 L88.0,326.9 L87.5,326.1 L87.0,325.3 L86.5,324.4 L86.1,323.5 L85.7,322.6 L85.4,321.5 L85.1,320.2 L84.9,319.2 Z" fill="#3a2c26"/>
<ellipse cx="96.6" cy="320.9" rx="1.3" ry="1.8" fill="#4a3428" opacity="0.55"/>
<ellipse cx="99.3" cy="326.9" rx="0.9" ry="0.9" fill="#6a5446" opacity="0.45"/>
<ellipse cx="103.0" cy="321.4" rx="1.3" ry="1.8" fill="#4a3428" opacity="0.55"/>
<ellipse cx="108.7" cy="322.1" rx="1.3" ry="1.8" fill="#4a3428" opacity="0.55"/>
<ellipse cx="111.2" cy="327.8" rx="0.9" ry="0.9" fill="#6a5446" opacity="0.45"/>
<ellipse cx="114.7" cy="322.6" rx="1.3" ry="1.8" fill="#4a3428" opacity="0.55"/>
<ellipse cx="121.3" cy="323.1" rx="1.3" ry="1.8" fill="#4a3428" opacity="0.55"/>
<ellipse cx="124.2" cy="328.7" rx="0.9" ry="0.9" fill="#6a5446" opacity="0.45"/>
<ellipse cx="128.6" cy="323.4" rx="1.3" ry="1.8" fill="#4a3428" opacity="0.55"/>
<ellipse cx="134.0" cy="324.7" rx="1.3" ry="1.8" fill="#4a3428" opacity="0.55"/>
<ellipse cx="136.5" cy="329.9" rx="0.9" ry="0.9" fill="#6a5446" opacity="0.45"/>
<ellipse cx="138.8" cy="324.7" rx="1.3" ry="1.8" fill="#4a3428" opacity="0.55"/>
<ellipse cx="146.5" cy="326.5" rx="1.3" ry="1.8" fill="#4a3428" opacity="0.55"/>
<ellipse cx="148.9" cy="331.6" rx="0.9" ry="0.9" fill="#6a5446" opacity="0.45"/>
<ellipse cx="153.7" cy="327.3" rx="1.3" ry="1.8" fill="#4a3428" opacity="0.55"/>
<ellipse cx="158.9" cy="328.1" rx="1.3" ry="1.8" fill="#4a3428" opacity="0.55"/>
<ellipse cx="161.1" cy="334.1" rx="0.9" ry="0.9" fill="#6a5446" opacity="0.45"/>
<ellipse cx="163.9" cy="329.4" rx="1.3" ry="1.8" fill="#4a3428" opacity="0.55"/>
<ellipse cx="168.3" cy="330.3" rx="1.3" ry="1.8" fill="#4a3428" opacity="0.55"/>
<ellipse cx="171.1" cy="336.3" rx="0.9" ry="0.9" fill="#6a5446" opacity="0.45"/>
<ellipse cx="173.4" cy="332.0" rx="1.3" ry="1.8" fill="#4a3428" opacity="0.55"/>
<ellipse cx="178.3" cy="332.8" rx="1.3" ry="1.8" fill="#4a3428" opacity="0.55"/>
<ellipse cx="181.1" cy="338.4" rx="0.9" ry="0.9" fill="#6a5446" opacity="0.45"/>
<ellipse cx="183.7" cy="333.7" rx="1.3" ry="1.8" fill="#4a3428" opacity="0.55"/>
<ellipse cx="188.7" cy="334.4" rx="1.3" ry="1.8" fill="#4a3428" opacity="0.55"/>
<ellipse cx="191.2" cy="340.4" rx="0.9" ry="0.9" fill="#6a5446" opacity="0.45"/>
<ellipse cx="193.5" cy="335.5" rx="1.3" ry="1.8" fill="#4a3428" opacity="0.55"/>
<ellipse cx="199.1" cy="336.6" rx="1.3" ry="1.8" fill="#4a3428" opacity="0.55"/>
<ellipse cx="201.5" cy="342.3" rx="0.9" ry="0.9" fill="#6a5446" opacity="0.45"/>
<ellipse cx="204.2" cy="337.6" rx="1.3" ry="1.8" fill="#4a3428" opacity="0.55"/>
<ellipse cx="209.7" cy="338.1" rx="1.3" ry="1.8" fill="#4a3428" opacity="0.55"/>
<ellipse cx="212.2" cy="344.0" rx="0.9" ry="0.9" fill="#6a5446" opacity="0.45"/>
<ellipse cx="215.1" cy="339.2" rx="1.3" ry="1.8" fill="#4a3428" opacity="0.55"/>
<ellipse cx="221.5" cy="339.6" rx="1.3" ry="1.8" fill="#4a3428" opacity="0.55"/>
<ellipse cx="224.2" cy="345.2" rx="0.9" ry="0.9" fill="#6a5446" opacity="0.45"/>
<ellipse cx="227.6" cy="340.0" rx="1.3" ry="1.8" fill="#4a3428" opacity="0.55"/>
<ellipse cx="233.1" cy="339.0" rx="1.3" ry="1.8" fill="#4a3428" opacity="0.55"/>
<ellipse cx="235.4" cy="344.8" rx="0.9" ry="0.9" fill="#6a5446" opacity="0.45"/>
<ellipse cx="238.3" cy="337.8" rx="1.3" ry="1.8" fill="#4a3428" opacity="0.55"/>
<ellipse cx="242.8" cy="335.6" rx="1.3" ry="1.8" fill="#4a3428" opacity="0.55"/>
<ellipse cx="245.4" cy="340.9" rx="0.9" ry="0.9" fill="#6a5446" opacity="0.45"/>
<ellipse cx="246.2" cy="330.2" rx="1.3" ry="1.8" fill="#4a3428" opacity="0.55"/>
</g>
<g filter="url(#b05)">
<path d="M87.5,316 C88,312 91,309.5 96,307.5 C101,306 105,305.2 110,305" fill="none" stroke="#c4ac94" stroke-width="1.6" opacity="0.6"/>
<ellipse cx="122" cy="319.3" rx="3.8" ry="3.2" fill="#0e0c0c"/>
<ellipse cx="121.3" cy="318.2" rx="1.6" ry="1" fill="#4a6a8a"/>
</g>
</g>
</g>

<!-- panel letters -->
<text x="7.1" y="20.9" font-size="15.6">A</text>
<text x="13.4" y="143.7" font-size="15.6">B</text>
<text x="11.7" y="276.8" font-size="15.6">C</text>
<text x="270.8" y="21.4" font-size="15.6">D</text>
<text x="270.1" y="272.9" font-size="15.6">F</text>
<text x="348" y="20.9" font-size="15.6">E</text>

<!-- chart D axes -->
<g stroke="#222" stroke-width="1.2" fill="none" stroke-linecap="square">
<path d="M334.4,32.5 V191.3 H511"/>
<path d="M331.6,32.5 H334.4 M331.6,85.4 H334.4 M331.6,138.4 H334.4 M331.6,191.3 H334.4"/>
<path d="M334.4,191.3 V194.4 M374.5,191.3 V194.4 M414.6,191.3 V194.4 M454.7,191.3 V194.4 M494.8,191.3 V194.4"/>
</g>
<g font-size="10.1" text-anchor="end">
<text x="330.5" y="36.4">150</text>
<text x="330.5" y="89.3">100</text>
<text x="330.5" y="142.2">50</text>
<text x="330.5" y="194.9">0</text>
</g>
<g font-size="10.1" text-anchor="middle">
<text x="334.5" y="204.6">1800</text>
<text x="374.6" y="204.6">1850</text>
<text x="414.7" y="204.6">1900</text>
<text x="454.8" y="204.6">1950</text>
<text x="494.9" y="204.6">2000</text>
</g>
<text x="422.7" y="223.6" font-size="10.8" text-anchor="middle">Year</text>
<text font-size="12" transform="translate(295.3,150.6) rotate(-90)">Publications on</text>
<text font-size="12" transform="translate(308.6,178.0) rotate(-90)"><tspan font-style="italic">Philodryas</tspan> snakes in Chile</text>

<!-- curves -->
<g fill="none" stroke-width="2.7" stroke-linejoin="round" stroke-linecap="butt">
<path d="M379.2,187.6 L380.5,185.6 L382.0,184.9 L386.0,184.5 L395.0,184.0 L400.0,183.5 L410.0,182.6 L414.5,182.0 L420.0,181.4 L430.0,179.8 L440.0,178.3 L444.2,177.2 L446.2,174.7 L448.3,171.6 L450.4,168.5 L453.5,165.4 L456.6,163.8 L459.2,162.3 L461.3,159.7 L463.4,156.6 L464.4,154.5 L466.5,148.6 L470.1,145.5 L475.3,144.1 L479.0,142.3 L481.6,139.2 L484.2,136.1 L485.7,131.4 L488.0,127.8 L489.4,123.1 L490.8,120.5 L494.1,117.2 L496.7,113.3 L498.6,109.4 L501.2,104.2 L504.5,99.7 L505.5,94.5 L506.4,89.3 L508.4,85.4 L510.3,79.5" stroke="#000"/>
<path d="M358.4,191.0 L360.0,190.0 L363.0,189.0 L370.0,188.4 L379.0,187.9 L382.0,187.0 L386.0,186.8 L395.0,186.3 L400.0,185.6 L410.0,184.6 L414.5,184.0 L420.0,183.3 L430.0,181.8 L440.0,180.4 L444.7,178.9 L447.8,175.8 L451.4,174.2 L453.1,174.2 L453.1,174.0 L454.9,174.0 L454.9,173.7 L456.6,173.7 L456.6,173.5 L458.7,173.5 L458.7,173.1 L460.8,173.1 L460.8,172.7 L462.3,172.7 L462.3,170.6 L464.6,170.6 L464.6,169.1 L467.0,169.1 L467.0,167.5 L469.1,167.5 L469.1,166.2 L471.2,166.2 L471.2,164.9 L472.9,164.9 L472.9,164.0 L474.7,164.0 L474.7,163.2 L476.4,163.2 L476.4,162.3 L478.2,162.3 L478.2,161.2 L480.0,161.2 L480.0,160.2 L482.1,160.2 L482.1,158.6 L483.9,158.6 L483.9,157.9 L485.7,157.9 L485.7,157.1 L487.5,157.1 L487.5,156.4 L489.3,156.4 L489.3,155.7 L491.1,155.7 L491.1,155.0 L492.9,155.0 L492.9,154.3 L494.6,154.3 L494.6,153.6 L496.4,153.6 L496.4,152.9 L498.2,152.9 L498.2,151.4 L500.0,151.4 L500.0,150.0 L501.8,150.0 L501.8,147.8 L503.6,147.8 L503.6,145.7 L506.4,145.7 L506.4,142.5 L509.3,142.5 L509.3,141.5" stroke="#5353e4"/>
<path d="M442.5,190.6 L448.3,189.4 L454.5,188.3 L459.7,187.3 L463.4,186.2 L466.0,184.8 L470.0,183.6 L480.7,182.3 L489.3,181.6 L497.9,180.3 L509.3,178.5" stroke="#e0141c"/>
<path d="M379.2,189.6 L385.0,189.5 L400.0,189.0 L414.5,188.6 L430.0,188.2 L440.0,188.0 L446.2,187.3 L448.8,185.7 L453.5,184.7 L460.8,183.7 L466.0,182.8 L471.2,182.5 L476.4,182.2 L478.0,182.2 L478.0,182.2 L479.7,182.2 L479.7,182.2 L481.4,182.2 L481.4,179.5 L483.2,179.5 L483.2,176.8 L484.9,176.8 L484.9,174.7 L486.7,174.7 L486.7,172.6 L488.3,172.6 L488.3,171.6 L489.8,171.6 L489.8,170.6 L491.4,170.6 L491.4,169.6 L492.9,169.6 L492.9,168.6 L494.5,168.6 L494.5,167.6 L496.0,167.6 L496.0,166.6 L497.6,166.6 L497.6,165.2 L499.1,165.2 L499.1,163.9 L500.7,163.9 L500.7,162.5 L502.4,162.5 L502.4,160.8 L504.2,160.8 L504.2,159.0 L505.7,159.0 L505.7,157.2 L507.2,157.2 L507.2,155.3 L508.9,155.3 L508.9,150.8 L510.1,150.8 L510.1,147.6" stroke="#1aae78"/>
</g>

<!-- 2019 arrow -->
<text x="511.9" y="56" font-size="9" text-anchor="middle">2019</text>
<path d="M513.6,58.3 V69" stroke="#111" stroke-width="1.1"/>
<path d="M511.2,67.5 L516,67.5 L513.6,74.2 Z" fill="#111"/>

<!-- inset E -->
<rect x="365.65" y="37.7" width="94.05" height="71.2" fill="#fff" stroke="#555" stroke-width="1"/>
<g stroke="#555" stroke-width="1">
<path d="M363.4,37.7 H365.65 M363.4,55.5 H365.65 M363.4,73.3 H365.65 M363.4,91.1 H365.65 M363.4,108.9 H365.65"/>
<path d="M376.1,108.9 V111 M397,108.9 V111 M417.9,108.9 V111 M438.8,108.9 V111 M459.7,108.9 V111"/>
</g>
<g font-size="7.2" text-anchor="end" fill="#222">
<text x="362.6" y="40.3">8</text>
<text x="362.6" y="58.1">6</text>
<text x="362.6" y="75.9">4</text>
<text x="362.6" y="93.7">2</text>
<text x="362.6" y="111.5">0</text>
</g>
<g font-size="7.2" text-anchor="middle">
<text x="376.1" y="119.3">1940</text>
<text x="397" y="119.3">1960</text>
<text x="417.9" y="119.3">1980</text>
<text x="438.8" y="119.3">2000</text>
<text x="459.7" y="119.3">2020</text>
</g>
<text font-size="10.4" transform="translate(352.1,102.3) rotate(-90)">Snakebites</text>
<path d="M365.6,108.9 L374.0,108.9 L375.6,100.0 L383.4,100.0 L390.2,91.1 L395.4,91.1 L397.5,82.2 L434.1,64.4 L437.8,55.5 L447.5,46.6" fill="none" stroke="#d81e24" stroke-width="2.3" stroke-linejoin="round"/>
<text x="447.3" y="78.2" font-size="9" text-anchor="middle">2007</text>
<path d="M447.3,53 V66.5" stroke="#111" stroke-width="1.3"/>
<path d="M445.1,54.5 L449.5,54.5 L447.3,47.8 Z" fill="#111"/>

<!-- pie F -->
<g stroke="#111" stroke-width="0.9" stroke-linejoin="round">
<path d="M362.7,302.6 L360.09,344.12 A41.6,41.6 0 0 1 362.70,261.00 Z" fill="#0b6ec8"/>
<path d="M362.7,302.6 L384.99,267.48 A41.6,41.6 0 0 1 360.09,344.12 Z" fill="#12b04c"/>
<path d="M362.7,302.6 L362.70,261.00 A41.6,41.6 0 0 1 384.99,267.48 Z" fill="#ff0000"/>
</g>
<g font-size="10.5">
<text x="375" y="259.9">9,00%</text>
<text x="321.5" y="311">49,00%</text>
<text x="366.2" y="309.8">42,00%</text>
</g>

<!-- legend -->
<g stroke-width="2.4">
<path d="M422.9,259.3 H433.4" stroke="#000"/>
<path d="M422.9,272.1 H433.4" stroke="#5353e4"/>
<path d="M422.9,284.8 H433.4" stroke="#e0141c"/>
<path d="M422.9,297.3 H433.4" stroke="#1aae78"/>
</g>
<g font-size="9.2">
<text x="439.5" y="262.9">Total papers</text>
<text x="439.5" y="275.6">Taxonomy/Distribution</text>
<text x="439.5" y="288.2">Toxicology/Snakebites</text>
<text x="439.5" y="300.7">Natural History/Ecology</text>
</g>
<text x="425.2" y="336.5" font-size="10.65">N = 106 publications</text>
</svg>
</body></html>
